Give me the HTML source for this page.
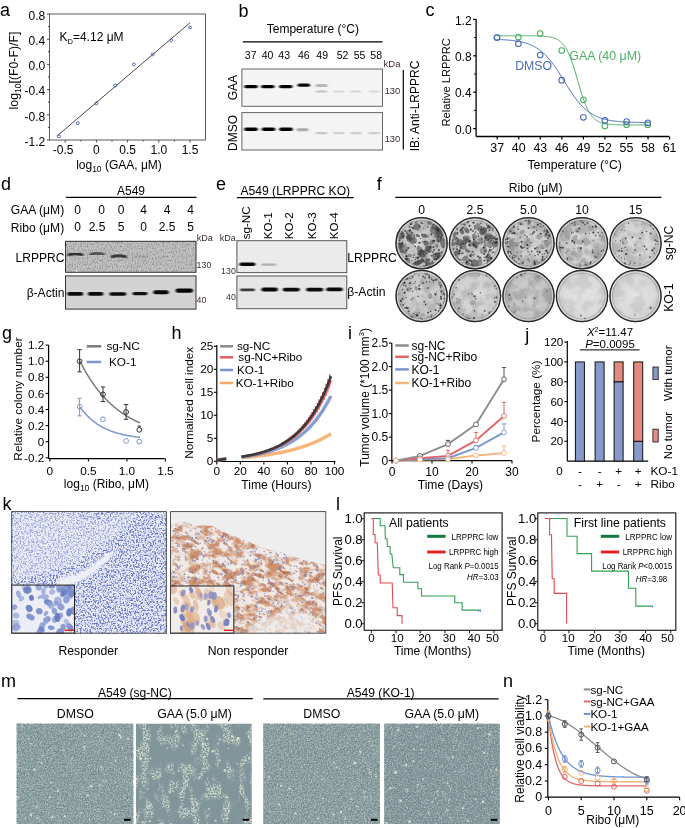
<!DOCTYPE html>
<html><head><meta charset="utf-8"><title>Figure</title>
<style>
html,body{margin:0;padding:0;background:#fff;}
svg{display:block;font-family:'Liberation Sans', Arial, sans-serif;}
</style></head><body>
<svg width="685" height="828" viewBox="0 0 685 828">
<defs>
<filter color-interpolation-filters="sRGB" id="bl" x="-50%" y="-100%" width="200%" height="300%"><feGaussianBlur stdDeviation="0.9 0.6"/></filter>
<filter color-interpolation-filters="sRGB" id="soft" x="-10%" y="-10%" width="120%" height="120%"><feGaussianBlur stdDeviation="2"/></filter>
<filter color-interpolation-filters="sRGB" id="soft05" x="-5%" y="-5%" width="110%" height="110%"><feGaussianBlur stdDeviation="0.5"/></filter>
<filter color-interpolation-filters="sRGB" id="soft1" x="-10%" y="-10%" width="120%" height="120%"><feGaussianBlur stdDeviation="1"/></filter>
<filter color-interpolation-filters="sRGB" id="streak" x="0" y="0" width="100%" height="100%">
  <feTurbulence type="fractalNoise" baseFrequency="0.5 0.02" numOctaves="2" seed="4"/>
  <feColorMatrix type="matrix" values="0 0 0 0 0  0 0 0 0 0  0 0 0 0 0  0 0 0 -2.5 1.6"/>
</filter>
<radialGradient id="dishshade" cx="0.5" cy="0.5" r="0.5"><stop offset="0" stop-color="#fff" stop-opacity="0.25"/><stop offset="0.7" stop-color="#fff" stop-opacity="0"/><stop offset="0.9" stop-color="#000" stop-opacity="0.08"/><stop offset="1" stop-color="#000" stop-opacity="0.2"/></radialGradient>
<filter color-interpolation-filters="sRGB" id="grain" x="0" y="0" width="100%" height="100%">
  <feTurbulence type="fractalNoise" baseFrequency="0.8 0.5" numOctaves="2" seed="4"/>
  <feColorMatrix type="matrix" values="0 0 0 0 0  0 0 0 0 0  0 0 0 0 0  0 0 0 -0.7 0.4"/>
  <feGaussianBlur stdDeviation="0.4"/>
</filter>
<filter color-interpolation-filters="sRGB" id="tissueTex" x="0" y="0" width="100%" height="100%">
  <feTurbulence type="fractalNoise" baseFrequency="0.09 0.14" numOctaves="3" seed="31" result="n"/>
  <feColorMatrix in="n" type="matrix" values="0 0 0 0 0.81  0 0 0 0 0.57  0 0 0 0 0.43  0 0 0 -4 2.25" result="c"/>
  <feComposite in="c" in2="SourceGraphic" operator="in"/>
</filter>
<linearGradient id="gD1" x1="0" x2="1" y1="0" y2="0"><stop offset="0" stop-color="#bdbdbd"/><stop offset="1" stop-color="#cfcfcf"/></linearGradient>
<filter color-interpolation-filters="sRGB" id="dishtex0" x="0" y="0" width="100%" height="100%">
  <feTurbulence type="fractalNoise" baseFrequency="0.09" numOctaves="3" seed="2" result="n"/>
  <feColorMatrix in="n" type="matrix" values="0 0 0 0 0  0 0 0 0 0  0 0 0 0 0  0 0 0 -4 2.4" result="m"/>
  <feComposite in="m" in2="SourceGraphic" operator="in"/>
</filter>
<filter color-interpolation-filters="sRGB" id="dishtex1" x="0" y="0" width="100%" height="100%">
  <feTurbulence type="fractalNoise" baseFrequency="0.09" numOctaves="3" seed="7" result="n"/>
  <feColorMatrix in="n" type="matrix" values="0 0 0 0 0  0 0 0 0 0  0 0 0 0 0  0 0 0 -4 2.4" result="m"/>
  <feComposite in="m" in2="SourceGraphic" operator="in"/>
</filter>
<filter color-interpolation-filters="sRGB" id="dishtex2" x="0" y="0" width="100%" height="100%">
  <feTurbulence type="fractalNoise" baseFrequency="0.09" numOctaves="3" seed="12" result="n"/>
  <feColorMatrix in="n" type="matrix" values="0 0 0 0 0  0 0 0 0 0  0 0 0 0 0  0 0 0 -4 2.4" result="m"/>
  <feComposite in="m" in2="SourceGraphic" operator="in"/>
</filter>

<filter color-interpolation-filters="sRGB" id="blueSpeck" x="0" y="0" width="100%" height="100%">
  <feTurbulence type="fractalNoise" baseFrequency="0.6" numOctaves="3" seed="11" result="n"/>
  <feColorMatrix in="n" type="matrix" values="0 0 0 0 0.40  0 0 0 0 0.46  0 0 0 0 0.78  0 0 0 -4.5 2.45"/>
  <feGaussianBlur stdDeviation="0.3"/>
</filter>
<filter color-interpolation-filters="sRGB" id="blueBlob" x="0" y="0" width="100%" height="100%">
  <feTurbulence type="fractalNoise" baseFrequency="0.16" numOctaves="2" seed="5" result="n"/>
  <feColorMatrix in="n" type="matrix" values="0 0 0 0 0.38  0 0 0 0 0.46  0 0 0 0 0.76  0 0 0 -4.5 2.6"/>
</filter>
<filter color-interpolation-filters="sRGB" id="brownSpeck" x="0" y="0" width="100%" height="100%">
  <feTurbulence type="fractalNoise" baseFrequency="0.35 0.6" numOctaves="2" seed="8" result="n"/>
  <feColorMatrix in="n" type="matrix" values="0 0 0 0 0.80  0 0 0 0 0.56  0 0 0 0 0.40  0 0 0 -5 2.9" result="c"/>
  <feTurbulence type="fractalNoise" baseFrequency="0.9" numOctaves="1" seed="21" result="n2"/>
  <feColorMatrix in="n2" type="matrix" values="0 0 0 0 0.40  0 0 0 0 0.42  0 0 0 0 0.72  0 0 0 -7 3.6" result="b"/>
  <feMerge><feMergeNode in="c"/><feMergeNode in="b"/></feMerge>
  <feComposite in2="SourceGraphic" operator="in"/>
</filter>
<filter color-interpolation-filters="sRGB" id="brownBlob" x="0" y="0" width="100%" height="100%">
  <feTurbulence type="fractalNoise" baseFrequency="0.2" numOctaves="2" seed="9" result="n"/>
  <feColorMatrix in="n" type="matrix" values="0 0 0 0 0.78  0 0 0 0 0.55  0 0 0 0 0.38  0 0 0 -4 2.5" result="c"/>
  <feTurbulence type="fractalNoise" baseFrequency="0.22" numOctaves="1" seed="13" result="n2"/>
  <feColorMatrix in="n2" type="matrix" values="0 0 0 0 0.42  0 0 0 0 0.47  0 0 0 0 0.74  0 0 0 -8 4.3" result="b"/>
  <feMerge><feMergeNode in="c"/><feMergeNode in="b"/></feMerge>
</filter>
<filter color-interpolation-filters="sRGB" id="cellA" x="0" y="0" width="100%" height="100%">
  <feTurbulence type="fractalNoise" baseFrequency="0.7" numOctaves="2" seed="3" result="n"/>
  <feColorMatrix in="n" type="matrix" values="0 0 0 0 0.70  0 0 0 0 0.76  0 0 0 0 0.74  0 0 0 -2.6 1.5" result="l"/>
  <feTurbulence type="turbulence" baseFrequency="0.3" numOctaves="1" seed="7" result="t"/>
  <feColorMatrix in="t" type="matrix" values="0 0 0 0 0.74  0 0 0 0 0.80  0 0 0 0 0.77  0 0 0 -4 0.4" result="tl"/>
  <feTurbulence type="fractalNoise" baseFrequency="0.7" numOctaves="1" seed="17" result="n2"/>
  <feColorMatrix in="n2" type="matrix" values="0 0 0 0 0.38  0 0 0 0 0.45  0 0 0 0 0.48  0 0 0 -2.2 1.2" result="d"/>
  <feMerge><feMergeNode in="d"/><feMergeNode in="l"/><feMergeNode in="tl"/></feMerge>
</filter>
<filter color-interpolation-filters="sRGB" id="cellB" x="0" y="0" width="100%" height="100%">
  <feTurbulence type="fractalNoise" baseFrequency="0.1 0.055" numOctaves="2" seed="6" result="n0"/>
  <feColorMatrix in="n0" type="matrix" values="0 0 0 0 0  0 0 0 0 0  0 0 0 0 0  0 0 0 7 -3.35" result="mask"/>
  <feTurbulence type="fractalNoise" baseFrequency="0.6" numOctaves="2" seed="3" result="n"/>
  <feColorMatrix in="n" type="matrix" values="0 0 0 0 0.80  0 0 0 0 0.85  0 0 0 0 0.79  0 0 0 -4 2.4" result="l"/>
  <feComposite in="l" in2="mask" operator="in" result="lm"/>
  <feTurbulence type="fractalNoise" baseFrequency="0.7" numOctaves="1" seed="17" result="n2"/>
  <feColorMatrix in="n2" type="matrix" values="0 0 0 0 0.55  0 0 0 0 0.62  0 0 0 0 0.64  0 0 0 -1.2 0.65" result="d"/>
  <feMerge><feMergeNode in="d"/><feMergeNode in="lm"/></feMerge>
</filter>
<filter color-interpolation-filters="sRGB" id="cellC" x="0" y="0" width="100%" height="100%">
  <feTurbulence type="fractalNoise" baseFrequency="0.7" numOctaves="2" seed="13" result="n"/>
  <feColorMatrix in="n" type="matrix" values="0 0 0 0 0.70  0 0 0 0 0.76  0 0 0 0 0.74  0 0 0 -2.6 1.4" result="l0"/>
  <feTurbulence type="turbulence" baseFrequency="0.14" numOctaves="2" seed="5" result="t"/>
  <feColorMatrix in="t" type="matrix" values="0 0 0 0 0.76  0 0 0 0 0.82  0 0 0 0 0.78  0 0 0 -5 0.6" result="l"/>
  <feTurbulence type="fractalNoise" baseFrequency="0.7" numOctaves="1" seed="19" result="n2"/>
  <feColorMatrix in="n2" type="matrix" values="0 0 0 0 0.38  0 0 0 0 0.45  0 0 0 0 0.48  0 0 0 -2.2 1.2" result="d"/>
  <feMerge><feMergeNode in="d"/><feMergeNode in="l0"/><feMergeNode in="l"/></feMerge>
</filter>
<clipPath id="clipKi1"><rect x="11.7" y="585.1" width="62.8" height="48.1"/></clipPath><clipPath id="clipT"><path d="M170.5 526 L180 521 L195 525 L212 526 L228 534 L245 540 L262 548 L280 552 L300 559 L315 562 L325.8 565 L325.8 633.2 L170.5 633.2 Z"/></clipPath><clipPath id="clipKi2"><rect x="170.5" y="586" width="63.3" height="47.2"/></clipPath></defs>
<rect width="685" height="828" fill="#fff"/>
<text x="5" y="16.39" font-size="18" text-anchor="middle" fill="#000">a</text>
<rect x="49.5" y="14" width="156" height="126" fill="none" stroke="#5a5a5a" stroke-width="1"/>
<line x1="47" y1="14" x2="49.5" y2="14" stroke="#444" stroke-width="1"/>
<text x="45.2" y="19.86" font-size="12" text-anchor="end" fill="#000">0.8</text>
<line x1="47" y1="39.2" x2="49.5" y2="39.2" stroke="#444" stroke-width="1"/>
<text x="45.2" y="45.06" font-size="12" text-anchor="end" fill="#000">0.4</text>
<line x1="47" y1="64.4" x2="49.5" y2="64.4" stroke="#444" stroke-width="1"/>
<text x="45.2" y="70.26" font-size="12" text-anchor="end" fill="#000">0.0</text>
<line x1="47" y1="89.6" x2="49.5" y2="89.6" stroke="#444" stroke-width="1"/>
<text x="45.2" y="95.46" font-size="12" text-anchor="end" fill="#000">-0.4</text>
<line x1="47" y1="114.8" x2="49.5" y2="114.8" stroke="#444" stroke-width="1"/>
<text x="45.2" y="120.66" font-size="12" text-anchor="end" fill="#000">-0.8</text>
<line x1="47" y1="140" x2="49.5" y2="140" stroke="#444" stroke-width="1"/>
<text x="45.2" y="145.86" font-size="12" text-anchor="end" fill="#000">-1.2</text>
<line x1="48" y1="26.6" x2="49.5" y2="26.6" stroke="#444" stroke-width="1"/>
<line x1="48" y1="51.8" x2="49.5" y2="51.8" stroke="#444" stroke-width="1"/>
<line x1="48" y1="77" x2="49.5" y2="77" stroke="#444" stroke-width="1"/>
<line x1="48" y1="102.2" x2="49.5" y2="102.2" stroke="#444" stroke-width="1"/>
<line x1="48" y1="127.4" x2="49.5" y2="127.4" stroke="#444" stroke-width="1"/>
<line x1="65.2" y1="140" x2="65.2" y2="142.5" stroke="#444" stroke-width="1"/>
<text x="63.2" y="153.76" font-size="12" text-anchor="middle" fill="#000">-0.5</text>
<line x1="96.4" y1="140" x2="96.4" y2="142.5" stroke="#444" stroke-width="1"/>
<text x="96.4" y="153.76" font-size="12" text-anchor="middle" fill="#000">0</text>
<line x1="127.6" y1="140" x2="127.6" y2="142.5" stroke="#444" stroke-width="1"/>
<text x="127.6" y="153.76" font-size="12" text-anchor="middle" fill="#000">0.5</text>
<line x1="158.8" y1="140" x2="158.8" y2="142.5" stroke="#444" stroke-width="1"/>
<text x="158.8" y="153.76" font-size="12" text-anchor="middle" fill="#000">1.0</text>
<line x1="190" y1="140" x2="190" y2="142.5" stroke="#444" stroke-width="1"/>
<text x="190" y="153.76" font-size="12" text-anchor="middle" fill="#000">1.5</text>
<line x1="80.8" y1="140" x2="80.8" y2="141.5" stroke="#444" stroke-width="1"/>
<line x1="112" y1="140" x2="112" y2="141.5" stroke="#444" stroke-width="1"/>
<line x1="143.2" y1="140" x2="143.2" y2="141.5" stroke="#444" stroke-width="1"/>
<line x1="174.4" y1="140" x2="174.4" y2="141.5" stroke="#444" stroke-width="1"/>
<line x1="57" y1="136" x2="190" y2="22.8" stroke="#333" stroke-width="0.9"/>
<circle cx="58.96" cy="136.28" r="1.45" fill="none" stroke="#3a5fb8" stroke-width="0.9"/>
<circle cx="77.68" cy="123.18" r="1.45" fill="none" stroke="#3a5fb8" stroke-width="0.9"/>
<circle cx="96.4" cy="103.4" r="1.45" fill="none" stroke="#3a5fb8" stroke-width="0.9"/>
<circle cx="115.12" cy="85.57" r="1.45" fill="none" stroke="#3a5fb8" stroke-width="0.9"/>
<circle cx="133.84" cy="64.4" r="1.45" fill="none" stroke="#3a5fb8" stroke-width="0.9"/>
<circle cx="152.56" cy="54.38" r="1.45" fill="none" stroke="#3a5fb8" stroke-width="0.9"/>
<circle cx="171.28" cy="40.27" r="1.45" fill="none" stroke="#3a5fb8" stroke-width="0.9"/>
<circle cx="190" cy="27.48" r="1.45" fill="none" stroke="#3a5fb8" stroke-width="0.9"/>
<text x="59.5" y="41.3" font-size="12">K<tspan font-size="7.5" dy="2.8">D</tspan><tspan dy="-2.8">=4.12 μM</tspan></text>
<text transform="translate(18.3 70.5) rotate(-90)" text-anchor="middle" font-size="12.3">log<tspan font-size="8.5" dy="2.7">10</tspan><tspan dy="-2.7">[(F0-F)/F]</tspan></text>
<text x="119" y="169" text-anchor="middle" font-size="12">log<tspan font-size="8.5" dy="2.7">10</tspan><tspan dy="-2.7"> (GAA, μM)</tspan></text>
<text x="243.5" y="16.89" font-size="18" text-anchor="middle" fill="#000">b</text>
<text x="312.8" y="32.56" font-size="12" text-anchor="middle" fill="#000">Temperature (°C)</text>
<line x1="242.8" y1="41.8" x2="382.6" y2="41.8" stroke="#000" stroke-width="1.2"/>
<text x="250.7" y="59.23" font-size="10.5" text-anchor="middle" fill="#000">37</text>
<text x="267.6" y="59.23" font-size="10.5" text-anchor="middle" fill="#000">40</text>
<text x="284.2" y="59.23" font-size="10.5" text-anchor="middle" fill="#000">43</text>
<text x="303.8" y="59.23" font-size="10.5" text-anchor="middle" fill="#000">46</text>
<text x="322.2" y="59.23" font-size="10.5" text-anchor="middle" fill="#000">49</text>
<text x="342.6" y="59.23" font-size="10.5" text-anchor="middle" fill="#000">52</text>
<text x="359.6" y="59.23" font-size="10.5" text-anchor="middle" fill="#000">55</text>
<text x="376.2" y="59.23" font-size="10.5" text-anchor="middle" fill="#000">58</text>
<rect x="241.9" y="69" width="140.6" height="37.3" fill="#f4f4f4" stroke="#666" stroke-width="1"/>
<rect x="241.9" y="112.6" width="140.6" height="37.4" fill="#f4f4f4" stroke="#666" stroke-width="1"/>
<rect x="244.25" y="84.9" width="13.5" height="3.4" rx="1.7" fill="#000" opacity="1" filter="url(#bl)"/>
<rect x="261.05" y="84.9" width="13.5" height="3.4" rx="1.7" fill="#000" opacity="1" filter="url(#bl)"/>
<rect x="279.05" y="84.9" width="13.5" height="3.4" rx="1.7" fill="#000" opacity="1" filter="url(#bl)"/>
<rect x="297.55" y="83.6" width="12.5" height="3.2" rx="1.6" fill="#000" opacity="0.97" filter="url(#bl)"/>
<rect x="315.5" y="83.9" width="12" height="3" rx="1.5" fill="#000" opacity="0.25" filter="url(#bl)"/>
<rect x="316" y="90.4" width="11" height="2.2" rx="1.1" fill="#000" opacity="0.2" filter="url(#bl)"/>
<rect x="333.5" y="90.4" width="11" height="2.2" rx="1.1" fill="#000" opacity="0.12" filter="url(#bl)"/>
<rect x="350.5" y="90.4" width="11" height="2.2" rx="1.1" fill="#000" opacity="0.12" filter="url(#bl)"/>
<rect x="368.5" y="90.4" width="11" height="2.2" rx="1.1" fill="#000" opacity="0.1" filter="url(#bl)"/>
<rect x="244.25" y="127.6" width="13.5" height="3.4" rx="1.7" fill="#000" opacity="1" filter="url(#bl)"/>
<rect x="261.75" y="127.6" width="13.5" height="3.4" rx="1.7" fill="#000" opacity="1" filter="url(#bl)"/>
<rect x="279.25" y="127.6" width="13.5" height="3.4" rx="1.7" fill="#000" opacity="1" filter="url(#bl)"/>
<rect x="296.5" y="128.3" width="12" height="3" rx="1.5" fill="#000" opacity="0.3" filter="url(#bl)"/>
<rect x="315.75" y="132.1" width="11.5" height="2.2" rx="1.1" fill="#000" opacity="0.18" filter="url(#bl)"/>
<rect x="333.25" y="132.1" width="11.5" height="2.2" rx="1.1" fill="#000" opacity="0.15" filter="url(#bl)"/>
<rect x="350.25" y="132.1" width="11.5" height="2.2" rx="1.1" fill="#000" opacity="0.15" filter="url(#bl)"/>
<rect x="368.25" y="132.1" width="11.5" height="2.2" rx="1.1" fill="#000" opacity="0.15" filter="url(#bl)"/>
<text x="392" y="67.37" font-size="9.5" text-anchor="middle" fill="#3d2e2b">kDa</text>
<text x="392.4" y="93.8" font-size="9.3" text-anchor="middle" fill="#3d2e2b">130</text>
<text x="392.4" y="142" font-size="9.3" text-anchor="middle" fill="#3d2e2b">130</text>
<line x1="403.3" y1="70" x2="403.3" y2="149.5" stroke="#000" stroke-width="1.2"/>
<text x="414.5" y="110.26" font-size="12" text-anchor="middle" fill="#000" transform="rotate(-90 414.5 106)">IB: Anti-LRPPRC</text>
<text x="233" y="91.86" font-size="12" text-anchor="middle" fill="#000" transform="rotate(-90 233 87.6)">GAA</text>
<text x="233" y="137.26" font-size="12" text-anchor="middle" fill="#000" transform="rotate(-90 233 133)">DMSO</text>
<text x="430" y="16.39" font-size="18" text-anchor="middle" fill="#000">c</text>
<line x1="476.1" y1="19" x2="476.1" y2="136.5" stroke="#000" stroke-width="1.3"/>
<line x1="476.1" y1="136.5" x2="669" y2="136.5" stroke="#000" stroke-width="1.3"/>
<line x1="473.1" y1="19.4" x2="476.1" y2="19.4" stroke="#000" stroke-width="1.2"/>
<text x="471.6" y="24.56" font-size="12" text-anchor="end" fill="#000">1.2</text>
<line x1="473.1" y1="55.8" x2="476.1" y2="55.8" stroke="#000" stroke-width="1.2"/>
<text x="471.6" y="60.96" font-size="12" text-anchor="end" fill="#000">0.8</text>
<line x1="473.1" y1="92.2" x2="476.1" y2="92.2" stroke="#000" stroke-width="1.2"/>
<text x="471.6" y="97.36" font-size="12" text-anchor="end" fill="#000">0.4</text>
<line x1="473.1" y1="128.6" x2="476.1" y2="128.6" stroke="#000" stroke-width="1.2"/>
<text x="471.6" y="133.76" font-size="12" text-anchor="end" fill="#000">0.0</text>
<line x1="474.1" y1="37.6" x2="476.1" y2="37.6" stroke="#000" stroke-width="1"/>
<line x1="474.1" y1="74" x2="476.1" y2="74" stroke="#000" stroke-width="1"/>
<line x1="474.1" y1="110.4" x2="476.1" y2="110.4" stroke="#000" stroke-width="1"/>
<line x1="497.2" y1="136.5" x2="497.2" y2="139.5" stroke="#000" stroke-width="1.2"/>
<text x="497.2" y="152.4" font-size="12.4" text-anchor="middle" fill="#000">37</text>
<line x1="518.75" y1="136.5" x2="518.75" y2="139.5" stroke="#000" stroke-width="1.2"/>
<text x="518.75" y="152.4" font-size="12.4" text-anchor="middle" fill="#000">40</text>
<line x1="540.3" y1="136.5" x2="540.3" y2="139.5" stroke="#000" stroke-width="1.2"/>
<text x="540.3" y="152.4" font-size="12.4" text-anchor="middle" fill="#000">43</text>
<line x1="561.85" y1="136.5" x2="561.85" y2="139.5" stroke="#000" stroke-width="1.2"/>
<text x="561.85" y="152.4" font-size="12.4" text-anchor="middle" fill="#000">46</text>
<line x1="583.4" y1="136.5" x2="583.4" y2="139.5" stroke="#000" stroke-width="1.2"/>
<text x="583.4" y="152.4" font-size="12.4" text-anchor="middle" fill="#000">49</text>
<line x1="604.95" y1="136.5" x2="604.95" y2="139.5" stroke="#000" stroke-width="1.2"/>
<text x="604.95" y="152.4" font-size="12.4" text-anchor="middle" fill="#000">52</text>
<line x1="626.5" y1="136.5" x2="626.5" y2="139.5" stroke="#000" stroke-width="1.2"/>
<text x="626.5" y="152.4" font-size="12.4" text-anchor="middle" fill="#000">55</text>
<line x1="648.05" y1="136.5" x2="648.05" y2="139.5" stroke="#000" stroke-width="1.2"/>
<text x="648.05" y="152.4" font-size="12.4" text-anchor="middle" fill="#000">58</text>
<line x1="669.6" y1="136.5" x2="669.6" y2="139.5" stroke="#000" stroke-width="1.2"/>
<text x="669.6" y="152.4" font-size="12.4" text-anchor="middle" fill="#000">61</text>
<text x="574.7" y="168.77" font-size="12.3" text-anchor="middle" fill="#000">Temperature (°C)</text>
<text x="446.5" y="86.24" font-size="11.1" text-anchor="middle" fill="#000" transform="rotate(-90 446.5 82.3)">Relative LRPPRC</text>
<polyline points="497.2,35.78 497.92,35.78 498.64,35.78 499.35,35.78 500.07,35.78 500.79,35.78 501.51,35.78 502.23,35.78 502.95,35.78 503.66,35.78 504.38,35.78 505.1,35.78 505.82,35.78 506.54,35.78 507.26,35.78 507.97,35.78 508.69,35.78 509.41,35.78 510.13,35.78 510.85,35.78 511.57,35.78 512.28,35.78 513,35.78 513.72,35.78 514.44,35.79 515.16,35.79 515.88,35.79 516.6,35.79 517.31,35.79 518.03,35.79 518.75,35.79 519.47,35.79 520.19,35.79 520.9,35.79 521.62,35.8 522.34,35.8 523.06,35.8 523.78,35.8 524.5,35.8 525.22,35.81 525.93,35.81 526.65,35.81 527.37,35.82 528.09,35.82 528.81,35.83 529.52,35.83 530.24,35.84 530.96,35.85 531.68,35.85 532.4,35.86 533.12,35.87 533.84,35.88 534.55,35.89 535.27,35.91 535.99,35.92 536.71,35.94 537.43,35.96 538.14,35.98 538.86,36 539.58,36.03 540.3,36.06 541.02,36.09 541.74,36.12 542.45,36.16 543.17,36.21 543.89,36.26 544.61,36.31 545.33,36.38 546.05,36.45 546.76,36.52 547.48,36.61 548.2,36.71 548.92,36.82 549.64,36.94 550.36,37.07 551.08,37.22 551.79,37.38 552.51,37.57 553.23,37.77 553.95,38 554.67,38.26 555.38,38.54 556.1,38.85 556.82,39.2 557.54,39.58 558.26,40.01 558.98,40.48 559.7,41 560.41,41.57 561.13,42.21 561.85,42.9 562.57,43.66 563.29,44.5 564,45.41 564.72,46.41 565.44,47.5 566.16,48.67 566.88,49.95 567.6,51.32 568.31,52.8 569.03,54.38 569.75,56.07 570.47,57.87 571.19,59.76 571.91,61.76 572.62,63.85 573.34,66.03 574.06,68.29 574.78,70.62 575.5,73.01 576.22,75.44 576.93,77.9 577.65,80.37 578.37,82.84 579.09,85.3 579.81,87.73 580.53,90.12 581.25,92.45 581.96,94.71 582.68,96.89 583.4,98.98 584.12,100.98 584.84,102.87 585.55,104.67 586.27,106.36 586.99,107.94 587.71,109.42 588.43,110.79 589.15,112.07 589.87,113.24 590.58,114.33 591.3,115.33 592.02,116.24 592.74,117.08 593.46,117.84 594.17,118.53 594.89,119.17 595.61,119.74 596.33,120.26 597.05,120.73 597.77,121.16 598.49,121.54 599.2,121.89 599.92,122.2 600.64,122.48 601.36,122.74 602.08,122.97 602.8,123.17 603.51,123.36 604.23,123.52 604.95,123.67 605.67,123.8 606.39,123.92 607.11,124.03 607.82,124.13 608.54,124.22 609.26,124.29 609.98,124.36 610.7,124.43 611.41,124.48 612.13,124.53 612.85,124.58 613.57,124.62 614.29,124.65 615.01,124.68 615.73,124.71 616.44,124.74 617.16,124.76 617.88,124.78 618.6,124.8 619.32,124.82 620.03,124.83 620.75,124.85 621.47,124.86 622.19,124.87 622.91,124.88 623.63,124.89 624.35,124.89 625.06,124.9 625.78,124.91 626.5,124.91 627.22,124.92 627.94,124.92 628.65,124.93 629.37,124.93 630.09,124.93 630.81,124.94 631.53,124.94 632.25,124.94 632.97,124.94 633.68,124.94 634.4,124.95 635.12,124.95 635.84,124.95 636.56,124.95 637.27,124.95 637.99,124.95 638.71,124.95 639.43,124.95 640.15,124.95 640.87,124.95 641.59,124.96 642.3,124.96 643.02,124.96 643.74,124.96 644.46,124.96 645.18,124.96 645.89,124.96 646.61,124.96 647.33,124.96 648.05,124.96" fill="none" stroke="#4daf62" stroke-width="1"/>
<polyline points="497.2,39.44 497.92,39.47 498.64,39.5 499.35,39.53 500.07,39.56 500.79,39.59 501.51,39.63 502.23,39.66 502.95,39.7 503.66,39.74 504.38,39.79 505.1,39.84 505.82,39.88 506.54,39.94 507.26,39.99 507.97,40.05 508.69,40.11 509.41,40.18 510.13,40.24 510.85,40.32 511.57,40.39 512.28,40.47 513,40.56 513.72,40.64 514.44,40.74 515.16,40.84 515.88,40.94 516.6,41.05 517.31,41.17 518.03,41.29 518.75,41.42 519.47,41.55 520.19,41.7 520.9,41.85 521.62,42.01 522.34,42.17 523.06,42.35 523.78,42.54 524.5,42.73 525.22,42.94 525.93,43.15 526.65,43.38 527.37,43.62 528.09,43.87 528.81,44.13 529.52,44.4 530.24,44.69 530.96,45 531.68,45.32 532.4,45.65 533.12,46 533.84,46.37 534.55,46.75 535.27,47.15 535.99,47.57 536.71,48.01 537.43,48.47 538.14,48.94 538.86,49.44 539.58,49.96 540.3,50.51 541.02,51.07 541.74,51.66 542.45,52.27 543.17,52.9 543.89,53.56 544.61,54.24 545.33,54.94 546.05,55.67 546.76,56.43 547.48,57.21 548.2,58.02 548.92,58.84 549.64,59.7 550.36,60.58 551.08,61.48 551.79,62.41 552.51,63.36 553.23,64.33 553.95,65.32 554.67,66.33 555.38,67.37 556.1,68.42 556.82,69.49 557.54,70.57 558.26,71.67 558.98,72.79 559.7,73.91 560.41,75.05 561.13,76.19 561.85,77.34 562.57,78.5 563.29,79.66 564,80.83 564.72,81.99 565.44,83.15 566.16,84.31 566.88,85.46 567.6,86.6 568.31,87.74 569.03,88.86 569.75,89.98 570.47,91.08 571.19,92.16 571.91,93.23 572.62,94.28 573.34,95.32 574.06,96.33 574.78,97.32 575.5,98.29 576.22,99.24 576.93,100.17 577.65,101.07 578.37,101.95 579.09,102.81 579.81,103.63 580.53,104.44 581.25,105.22 581.96,105.98 582.68,106.71 583.4,107.41 584.12,108.09 584.84,108.75 585.55,109.38 586.27,109.99 586.99,110.58 587.71,111.14 588.43,111.69 589.15,112.21 589.87,112.71 590.58,113.18 591.3,113.64 592.02,114.08 592.74,114.5 593.46,114.9 594.17,115.28 594.89,115.65 595.61,116 596.33,116.33 597.05,116.65 597.77,116.96 598.49,117.25 599.2,117.52 599.92,117.78 600.64,118.03 601.36,118.27 602.08,118.5 602.8,118.71 603.51,118.92 604.23,119.11 604.95,119.3 605.67,119.48 606.39,119.64 607.11,119.8 607.82,119.95 608.54,120.1 609.26,120.23 609.98,120.36 610.7,120.48 611.41,120.6 612.13,120.71 612.85,120.81 613.57,120.91 614.29,121.01 615.01,121.09 615.73,121.18 616.44,121.26 617.16,121.33 617.88,121.41 618.6,121.47 619.32,121.54 620.03,121.6 620.75,121.66 621.47,121.71 622.19,121.77 622.91,121.81 623.63,121.86 624.35,121.91 625.06,121.95 625.78,121.99 626.5,122.02 627.22,122.06 627.94,122.09 628.65,122.12 629.37,122.15 630.09,122.18 630.81,122.21 631.53,122.24 632.25,122.26 632.97,122.28 633.68,122.3 634.4,122.32 635.12,122.34 635.84,122.36 636.56,122.38 637.27,122.4 637.99,122.41 638.71,122.43 639.43,122.44 640.15,122.45 640.87,122.47 641.59,122.48 642.3,122.49 643.02,122.5 643.74,122.51 644.46,122.52 645.18,122.53 645.89,122.54 646.61,122.54 647.33,122.55 648.05,122.56" fill="none" stroke="#4a69bd" stroke-width="1"/>
<circle cx="497" cy="37.6" r="2.8" fill="none" stroke="#4daf62" stroke-width="1.1"/>
<circle cx="518.4" cy="37" r="2.8" fill="none" stroke="#4daf62" stroke-width="1.1"/>
<circle cx="540.2" cy="33.6" r="2.8" fill="none" stroke="#4daf62" stroke-width="1.1"/>
<circle cx="561.7" cy="50.5" r="2.8" fill="none" stroke="#4daf62" stroke-width="1.1"/>
<circle cx="583.4" cy="99.8" r="2.8" fill="none" stroke="#4daf62" stroke-width="1.1"/>
<circle cx="604.9" cy="125.9" r="2.8" fill="none" stroke="#4daf62" stroke-width="1.1"/>
<circle cx="626.6" cy="124.7" r="2.8" fill="none" stroke="#4daf62" stroke-width="1.1"/>
<circle cx="647.8" cy="124.7" r="2.8" fill="none" stroke="#4daf62" stroke-width="1.1"/>
<circle cx="497" cy="37.6" r="2.8" fill="none" stroke="#4a69bd" stroke-width="1.1"/>
<circle cx="518.4" cy="43.7" r="2.8" fill="none" stroke="#4a69bd" stroke-width="1.1"/>
<circle cx="540.2" cy="55" r="2.8" fill="none" stroke="#4a69bd" stroke-width="1.1"/>
<circle cx="561.7" cy="80.2" r="2.8" fill="none" stroke="#4a69bd" stroke-width="1.1"/>
<circle cx="583.4" cy="117.3" r="2.8" fill="none" stroke="#4a69bd" stroke-width="1.1"/>
<circle cx="604.9" cy="120.4" r="2.8" fill="none" stroke="#4a69bd" stroke-width="1.1"/>
<circle cx="626.6" cy="121.6" r="2.8" fill="none" stroke="#4a69bd" stroke-width="1.1"/>
<circle cx="647.8" cy="122.8" r="2.8" fill="none" stroke="#4a69bd" stroke-width="1.1"/>
<text x="569.3" y="59.8" font-size="12.4" text-anchor="start" fill="#4daf62">GAA (40 μM)</text>
<text x="515.2" y="70.47" font-size="12.3" text-anchor="start" fill="#4a69bd">DMSO</text>
<text x="6" y="189.69" font-size="18" text-anchor="middle" fill="#000">d</text>
<text x="131" y="195.16" font-size="12" text-anchor="middle" fill="#000">A549</text>
<line x1="65.8" y1="197.3" x2="196.5" y2="197.3" stroke="#000" stroke-width="1.2"/>
<text x="64.2" y="213.6" font-size="12.1" text-anchor="end" fill="#000">GAA (μM)</text>
<text x="64.2" y="231.5" font-size="12.1" text-anchor="end" fill="#000">Ribo (μM)</text>
<text x="77.7" y="213.56" font-size="12" text-anchor="middle" fill="#000">0</text>
<text x="101.5" y="213.56" font-size="12" text-anchor="middle" fill="#000">0</text>
<text x="121" y="213.56" font-size="12" text-anchor="middle" fill="#000">0</text>
<text x="143.5" y="213.56" font-size="12" text-anchor="middle" fill="#000">4</text>
<text x="167" y="213.56" font-size="12" text-anchor="middle" fill="#000">4</text>
<text x="190.7" y="213.56" font-size="12" text-anchor="middle" fill="#000">4</text>
<text x="77.7" y="231.46" font-size="12" text-anchor="middle" fill="#000">0</text>
<text x="97" y="231.46" font-size="12" text-anchor="middle" fill="#000">2.5</text>
<text x="121" y="231.46" font-size="12" text-anchor="middle" fill="#000">5</text>
<text x="143.5" y="231.46" font-size="12" text-anchor="middle" fill="#000">0</text>
<text x="167" y="231.46" font-size="12" text-anchor="middle" fill="#000">2.5</text>
<text x="190.7" y="231.46" font-size="12" text-anchor="middle" fill="#000">5</text>
<rect x="65.5" y="241.3" width="130.5" height="31" fill="#c2c2c2" stroke="#333" stroke-width="1"/>
<rect x="66" y="241.8" width="129.5" height="30" fill="#000" filter="url(#grain)"/>
<path d="M68.9 254.6Q75.4 253 81.9 254.6" stroke="#1a1a1a" stroke-width="3" stroke-linecap="round" fill="none" opacity="0.85" filter="url(#bl)"/>
<path d="M90.5 254.2Q97.1 252.6 103.7 254.2" stroke="#1a1a1a" stroke-width="2.7" stroke-linecap="round" fill="none" opacity="0.65" filter="url(#bl)"/>
<path d="M112.05 256.7Q118.8 254.9 125.55 256.7" stroke="#1a1a1a" stroke-width="2.9" stroke-linecap="round" fill="none" opacity="0.8" filter="url(#bl)"/>
<path d="M134 256.9Q140.5 255.9 147 256.9" stroke="#1a1a1a" stroke-width="2.2" stroke-linecap="round" fill="none" opacity="0.14" filter="url(#bl)"/>
<path d="M157 257.5Q163 256.5 169 257.5" stroke="#1a1a1a" stroke-width="2" stroke-linecap="round" fill="none" opacity="0.05" filter="url(#bl)"/>
<circle cx="76.7" cy="270.8" r="0.9" fill="#fff" stroke="none" stroke-width="0"/>
<rect x="65.5" y="275.9" width="130.5" height="33.2" fill="#d3d3d3" stroke="#333" stroke-width="1"/>
<rect x="67.2" y="292.1" width="16" height="3.6" rx="1.8" fill="#000" opacity="0.95" filter="url(#bl)"/>
<rect x="87.85" y="292.1" width="15.5" height="3.6" rx="1.8" fill="#000" opacity="0.95" filter="url(#bl)"/>
<rect x="109.3" y="292.2" width="17" height="3.6" rx="1.8" fill="#000" opacity="0.95" filter="url(#bl)"/>
<rect x="132.5" y="291.9" width="15" height="3.4" rx="1.7" fill="#000" opacity="0.92" filter="url(#bl)"/>
<rect x="153.25" y="290.3" width="15.5" height="4" rx="2" fill="#000" opacity="0.97" filter="url(#bl)"/>
<rect x="175.55" y="288.4" width="17.5" height="4.4" rx="2.2" fill="#000" opacity="0.98" filter="url(#bl)"/>
<text x="64.5" y="261.6" font-size="12.1" text-anchor="end" fill="#000">LRPPRC</text>
<text x="64.5" y="297.3" font-size="12.1" text-anchor="end" fill="#000">β-Actin</text>
<text x="196.8" y="240.69" font-size="9" text-anchor="start" fill="#3d2e2b">kDa</text>
<text x="196.6" y="267.62" font-size="8.8" text-anchor="start" fill="#3d2e2b">130</text>
<text x="196.6" y="302.52" font-size="8.8" text-anchor="start" fill="#3d2e2b">40</text>
<text x="221" y="190.29" font-size="18" text-anchor="middle" fill="#000">e</text>
<text x="295.3" y="195.1" font-size="12.1" text-anchor="middle" fill="#000">A549 (LRPPRC KO)</text>
<line x1="236.9" y1="197.7" x2="353.7" y2="197.7" stroke="#000" stroke-width="1.2"/>
<text transform="translate(250.4 239.3) rotate(-90)" font-size="11.6" text-anchor="start">sg-NC</text>
<text transform="translate(272 239.3) rotate(-90)" font-size="11.6" text-anchor="start">KO-1</text>
<text transform="translate(293.4 239.3) rotate(-90)" font-size="11.6" text-anchor="start">KO-2</text>
<text transform="translate(316.2 239.3) rotate(-90)" font-size="11.6" text-anchor="start">KO-3</text>
<text transform="translate(338.4 239.3) rotate(-90)" font-size="11.6" text-anchor="start">KO-4</text>
<text x="235.8" y="240.69" font-size="9" text-anchor="end" fill="#3d2e2b">kDa</text>
<text x="235.8" y="274.02" font-size="8.8" text-anchor="end" fill="#3d2e2b">130</text>
<text x="235.8" y="300.02" font-size="8.8" text-anchor="end" fill="#3d2e2b">40</text>
<rect x="236.9" y="240.7" width="109.9" height="31.9" fill="#ebebeb" stroke="#555" stroke-width="1"/>
<rect x="239.4" y="262.5" width="16" height="3.6" rx="1.8" fill="#000" opacity="0.97" filter="url(#bl)"/>
<rect x="261.3" y="263.5" width="15" height="2.2" rx="1.1" fill="#000" opacity="0.25" filter="url(#bl)"/>
<rect x="236.9" y="276" width="109.9" height="32.7" fill="#e6e6e6" stroke="#555" stroke-width="1"/>
<rect x="240" y="288.4" width="15" height="2.8" rx="1.4" fill="#000" opacity="0.75" filter="url(#bl)"/>
<rect x="261.35" y="287.6" width="16.5" height="4" rx="2" fill="#000" opacity="0.97" filter="url(#bl)"/>
<rect x="282.8" y="287.7" width="17" height="3.8" rx="1.9" fill="#000" opacity="0.95" filter="url(#bl)"/>
<rect x="306.2" y="287.7" width="17" height="3.8" rx="1.9" fill="#000" opacity="0.95" filter="url(#bl)"/>
<rect x="326.25" y="287.5" width="16.5" height="3.8" rx="1.9" fill="#000" opacity="0.95" filter="url(#bl)"/>
<text x="347.3" y="261.73" font-size="12.2" text-anchor="start" fill="#000">LRPPRC</text>
<text x="347.3" y="295.83" font-size="12.2" text-anchor="start" fill="#000">β-Actin</text>
<text x="379.2" y="190.29" font-size="18" text-anchor="middle" fill="#000">f</text>
<text x="535.7" y="192.33" font-size="12.2" text-anchor="middle" fill="#000">Ribo (μM)</text>
<line x1="395.3" y1="197.3" x2="661.5" y2="197.3" stroke="#000" stroke-width="1.2"/>
<text x="421.6" y="213.73" font-size="12.2" text-anchor="middle" fill="#000">0</text>
<text x="475" y="213.73" font-size="12.2" text-anchor="middle" fill="#000">2.5</text>
<text x="528.5" y="213.73" font-size="12.2" text-anchor="middle" fill="#000">5.0</text>
<text x="582" y="213.73" font-size="12.2" text-anchor="middle" fill="#000">10</text>
<text x="635.5" y="213.73" font-size="12.2" text-anchor="middle" fill="#000">15</text>
<circle cx="421.6" cy="243.2" r="26.2" fill="#cbcbcb"/>
<circle cx="421.6" cy="243.2" r="26.2" fill="url(#dishshade)"/>
<circle cx="421.6" cy="243.2" r="25.7" fill="#000" opacity="0.12" filter="url(#dishtex0)"/>
<g fill="#4a4a4a" filter="url(#soft05)"><ellipse cx="432.89" cy="226.45" rx="2.89" ry="2.04" transform="rotate(130 432.89 226.45)" opacity="0.59"/><ellipse cx="440.01" cy="232.81" rx="4.32" ry="3.21" transform="rotate(55 440.01 232.81)" opacity="0.6"/><ellipse cx="417.59" cy="262.97" rx="3.41" ry="2.39" transform="rotate(136 417.59 262.97)" opacity="0.79"/><ellipse cx="429.74" cy="222.72" rx="2.61" ry="2.32" transform="rotate(175 429.74 222.72)" opacity="0.53"/><ellipse cx="408.76" cy="238.14" rx="2.62" ry="2.24" transform="rotate(52 408.76 238.14)" opacity="0.79"/><ellipse cx="400.24" cy="246.31" rx="2.48" ry="2.28" transform="rotate(140 400.24 246.31)" opacity="0.77"/><ellipse cx="439.32" cy="254.96" rx="3.65" ry="3.33" transform="rotate(160 439.32 254.96)" opacity="0.4"/><ellipse cx="400.01" cy="244.07" rx="2.43" ry="1.78" transform="rotate(16 400.01 244.07)" opacity="0.48"/><ellipse cx="411.27" cy="238.54" rx="4.32" ry="3.98" transform="rotate(114 411.27 238.54)" opacity="0.44"/><ellipse cx="443.28" cy="242.28" rx="4.39" ry="3.5" transform="rotate(77 443.28 242.28)" opacity="0.62"/><ellipse cx="416.97" cy="226.67" rx="3.92" ry="3.2" transform="rotate(154 416.97 226.67)" opacity="0.62"/><ellipse cx="419.95" cy="250.03" rx="3.87" ry="2.82" transform="rotate(61 419.95 250.03)" opacity="0.52"/><ellipse cx="425.33" cy="252.51" rx="3.39" ry="2.93" transform="rotate(121 425.33 252.51)" opacity="0.43"/><ellipse cx="417.97" cy="235.65" rx="2.19" ry="1.35" transform="rotate(20 417.97 235.65)" opacity="0.76"/><ellipse cx="436.7" cy="235.27" rx="2.82" ry="2.49" transform="rotate(70 436.7 235.27)" opacity="0.61"/><ellipse cx="422.58" cy="253.92" rx="3.57" ry="3.32" transform="rotate(107 422.58 253.92)" opacity="0.63"/><ellipse cx="403.65" cy="248.96" rx="4.39" ry="4.24" transform="rotate(91 403.65 248.96)" opacity="0.43"/><ellipse cx="409.31" cy="232.67" rx="3.44" ry="3.23" transform="rotate(62 409.31 232.67)" opacity="0.41"/><ellipse cx="419.03" cy="262.51" rx="2.77" ry="1.85" transform="rotate(109 419.03 262.51)" opacity="0.73"/><ellipse cx="428.76" cy="248.44" rx="3.61" ry="2.23" transform="rotate(146 428.76 248.44)" opacity="0.65"/><ellipse cx="438.19" cy="236.21" rx="1.99" ry="1.29" transform="rotate(48 438.19 236.21)" opacity="0.64"/><ellipse cx="408.71" cy="236.53" rx="2.76" ry="2.74" transform="rotate(9 408.71 236.53)" opacity="0.64"/><ellipse cx="429.4" cy="264.69" rx="3.67" ry="2.9" transform="rotate(15 429.4 264.69)" opacity="0.77"/><ellipse cx="436.58" cy="245.36" rx="2.06" ry="1.45" transform="rotate(56 436.58 245.36)" opacity="0.43"/><ellipse cx="416.77" cy="257.74" rx="1.96" ry="1.54" transform="rotate(152 416.77 257.74)" opacity="0.44"/><ellipse cx="431.93" cy="242.43" rx="2.73" ry="2.44" transform="rotate(145 431.93 242.43)" opacity="0.47"/><ellipse cx="410.94" cy="223.03" rx="1.95" ry="1.7" transform="rotate(41 410.94 223.03)" opacity="0.54"/><ellipse cx="421.52" cy="261.12" rx="2.95" ry="1.98" transform="rotate(120 421.52 261.12)" opacity="0.67"/><ellipse cx="439.16" cy="230.46" rx="4.19" ry="3.6" transform="rotate(99 439.16 230.46)" opacity="0.74"/><ellipse cx="421.5" cy="260.57" rx="1.83" ry="1.64" transform="rotate(85 421.5 260.57)" opacity="0.7"/><ellipse cx="413.41" cy="240.86" rx="3.78" ry="3" transform="rotate(156 413.41 240.86)" opacity="0.52"/><ellipse cx="407.3" cy="260.67" rx="3.45" ry="2.93" transform="rotate(79 407.3 260.67)" opacity="0.56"/><ellipse cx="405.52" cy="252.79" rx="1.8" ry="1.22" transform="rotate(85 405.52 252.79)" opacity="0.46"/><ellipse cx="424.21" cy="258.51" rx="3.65" ry="3.17" transform="rotate(106 424.21 258.51)" opacity="0.41"/><ellipse cx="433.7" cy="230.59" rx="3.81" ry="3.36" transform="rotate(42 433.7 230.59)" opacity="0.58"/><ellipse cx="421.07" cy="252.4" rx="3.17" ry="2.52" transform="rotate(143 421.07 252.4)" opacity="0.64"/><ellipse cx="426.18" cy="243.2" rx="2.65" ry="2.48" transform="rotate(12 426.18 243.2)" opacity="0.72"/><ellipse cx="436.39" cy="228.42" rx="2.29" ry="2.29" transform="rotate(162 436.39 228.42)" opacity="0.79"/><ellipse cx="425.98" cy="236.05" rx="1.84" ry="1.8" transform="rotate(106 425.98 236.05)" opacity="0.53"/><ellipse cx="426.06" cy="262.34" rx="1.81" ry="1.68" transform="rotate(135 426.06 262.34)" opacity="0.64"/><ellipse cx="428.21" cy="260.04" rx="2.32" ry="1.67" transform="rotate(176 428.21 260.04)" opacity="0.79"/><ellipse cx="438.93" cy="255.82" rx="2.83" ry="1.79" transform="rotate(70 438.93 255.82)" opacity="0.77"/><ellipse cx="424.03" cy="235.69" rx="2.47" ry="2.13" transform="rotate(166 424.03 235.69)" opacity="0.66"/><ellipse cx="428.43" cy="249.23" rx="4.01" ry="2.48" transform="rotate(52 428.43 249.23)" opacity="0.67"/><ellipse cx="400.53" cy="235.11" rx="4.24" ry="4.09" transform="rotate(10 400.53 235.11)" opacity="0.74"/><ellipse cx="439.15" cy="238.84" rx="3.09" ry="2.65" transform="rotate(117 439.15 238.84)" opacity="0.66"/><ellipse cx="409.76" cy="255.42" rx="2.34" ry="1.95" transform="rotate(2 409.76 255.42)" opacity="0.46"/><ellipse cx="419.8" cy="256.56" rx="2.75" ry="1.76" transform="rotate(158 419.8 256.56)" opacity="0.41"/><ellipse cx="420.5" cy="252.1" rx="3.32" ry="2.47" transform="rotate(140 420.5 252.1)" opacity="0.45"/><ellipse cx="436.48" cy="256.3" rx="4.23" ry="3.06" transform="rotate(133 436.48 256.3)" opacity="0.69"/><ellipse cx="414.71" cy="263.26" rx="2.58" ry="1.66" transform="rotate(143 414.71 263.26)" opacity="0.76"/><ellipse cx="400.61" cy="246.66" rx="4.34" ry="3.2" transform="rotate(122 400.61 246.66)" opacity="0.45"/></g>
<g fill="#2a2a2a"><circle cx="399.49" cy="243.51" r="0.9" opacity="0.61"/><circle cx="432.25" cy="261.62" r="1.09" opacity="0.58"/><circle cx="429.64" cy="222.02" r="0.7" opacity="0.59"/><circle cx="403.47" cy="236.48" r="0.96" opacity="0.84"/><circle cx="426.23" cy="265.38" r="1.1" opacity="0.78"/><circle cx="433.19" cy="263.25" r="0.98" opacity="0.89"/><circle cx="441.85" cy="246.75" r="0.58" opacity="0.75"/><circle cx="420.64" cy="266.85" r="0.97" opacity="0.8"/><circle cx="432.88" cy="251.91" r="0.99" opacity="0.59"/><circle cx="406.96" cy="233.08" r="0.86" opacity="0.72"/><circle cx="399.47" cy="240.23" r="0.99" opacity="0.95"/><circle cx="410.06" cy="230.1" r="1.06" opacity="0.55"/><circle cx="417.92" cy="230.35" r="0.66" opacity="0.76"/><circle cx="428.2" cy="236.56" r="0.7" opacity="0.67"/><circle cx="415.86" cy="222.79" r="0.79" opacity="0.92"/><circle cx="441.97" cy="252.22" r="0.94" opacity="0.73"/><circle cx="435.88" cy="226.35" r="0.75" opacity="0.7"/><circle cx="418.39" cy="246.13" r="0.51" opacity="0.87"/><circle cx="415.09" cy="242.46" r="0.73" opacity="0.85"/><circle cx="417.82" cy="258.05" r="1.08" opacity="0.89"/><circle cx="432.88" cy="241.21" r="1.01" opacity="0.56"/><circle cx="431.39" cy="234.6" r="0.82" opacity="0.68"/><circle cx="401.83" cy="244.01" r="0.95" opacity="0.7"/><circle cx="407.25" cy="256.06" r="0.61" opacity="0.84"/><circle cx="413.32" cy="257.4" r="0.54" opacity="0.91"/><circle cx="405.25" cy="231.01" r="0.98" opacity="0.69"/><circle cx="437.26" cy="246.72" r="0.52" opacity="0.86"/><circle cx="430.16" cy="244.29" r="0.66" opacity="0.83"/><circle cx="409.75" cy="227.11" r="0.96" opacity="0.59"/><circle cx="438.86" cy="250.06" r="1.06" opacity="0.81"/><circle cx="434.27" cy="240.74" r="1" opacity="0.93"/><circle cx="406.25" cy="256.28" r="1.07" opacity="0.94"/><circle cx="438.68" cy="259.56" r="0.47" opacity="0.71"/><circle cx="406.37" cy="259.09" r="0.86" opacity="0.93"/><circle cx="439.95" cy="230.2" r="0.47" opacity="0.76"/><circle cx="411.3" cy="238.41" r="0.95" opacity="0.9"/><circle cx="409.66" cy="230.89" r="0.78" opacity="0.93"/><circle cx="430.98" cy="255.41" r="0.5" opacity="0.59"/><circle cx="430.24" cy="246.81" r="1.07" opacity="0.87"/><circle cx="406.44" cy="250.21" r="1.01" opacity="0.68"/><circle cx="421.47" cy="251.46" r="0.9" opacity="0.69"/><circle cx="426.58" cy="253.43" r="0.69" opacity="0.79"/><circle cx="434.39" cy="259.32" r="0.93" opacity="0.91"/><circle cx="421.34" cy="222.77" r="1.06" opacity="0.64"/><circle cx="431.88" cy="255.93" r="0.91" opacity="0.65"/><circle cx="443.37" cy="247.06" r="1.07" opacity="0.67"/><circle cx="431.39" cy="233.82" r="0.84" opacity="0.58"/><circle cx="407.37" cy="240.19" r="0.55" opacity="0.6"/><circle cx="423.56" cy="254.56" r="0.57" opacity="0.7"/><circle cx="412.07" cy="227.49" r="0.71" opacity="0.83"/><circle cx="436.27" cy="259.22" r="1.05" opacity="0.79"/><circle cx="418.09" cy="254.47" r="0.86" opacity="0.8"/><circle cx="419.46" cy="242.8" r="1.08" opacity="0.91"/><circle cx="400.03" cy="251.54" r="0.51" opacity="0.62"/><circle cx="437.76" cy="256.34" r="0.55" opacity="0.83"/><circle cx="441.13" cy="233.75" r="0.56" opacity="0.93"/><circle cx="414" cy="255.11" r="0.86" opacity="0.58"/><circle cx="422.23" cy="223.44" r="0.74" opacity="0.73"/><circle cx="425.32" cy="261.89" r="0.65" opacity="0.79"/><circle cx="415.19" cy="246.51" r="0.77" opacity="0.93"/><circle cx="403.47" cy="238.09" r="0.46" opacity="0.66"/><circle cx="410.91" cy="224.19" r="1.03" opacity="0.83"/><circle cx="408.35" cy="248.01" r="1.02" opacity="0.82"/><circle cx="429.37" cy="265.24" r="0.62" opacity="0.76"/><circle cx="438.08" cy="258.32" r="0.95" opacity="0.58"/><circle cx="436.41" cy="225.52" r="0.79" opacity="0.63"/><circle cx="435.39" cy="253.94" r="0.93" opacity="0.91"/><circle cx="418.41" cy="260.78" r="0.54" opacity="0.6"/><circle cx="433.38" cy="254.34" r="0.81" opacity="0.67"/><circle cx="414.13" cy="235.03" r="0.77" opacity="0.75"/><circle cx="405.82" cy="243.92" r="0.54" opacity="0.75"/><circle cx="438.33" cy="228.88" r="0.7" opacity="0.95"/><circle cx="432.77" cy="227.04" r="0.5" opacity="0.93"/><circle cx="434.28" cy="236.7" r="0.53" opacity="0.55"/><circle cx="419.97" cy="255.91" r="1.04" opacity="0.61"/><circle cx="402.19" cy="233.64" r="0.92" opacity="0.7"/><circle cx="412.06" cy="260.38" r="0.55" opacity="0.92"/><circle cx="428.1" cy="251.86" r="0.57" opacity="0.69"/><circle cx="438.13" cy="241.48" r="0.92" opacity="0.87"/><circle cx="402.73" cy="250.77" r="1.04" opacity="0.56"/><circle cx="412.03" cy="232.59" r="0.93" opacity="0.82"/><circle cx="424.07" cy="266.36" r="1.01" opacity="0.85"/><circle cx="423.64" cy="228.14" r="0.49" opacity="0.83"/><circle cx="412.74" cy="228.07" r="0.93" opacity="0.72"/><circle cx="401.02" cy="249.23" r="0.67" opacity="0.57"/><circle cx="433.67" cy="247.34" r="0.45" opacity="0.58"/><circle cx="402.89" cy="252.33" r="0.81" opacity="0.64"/><circle cx="428.09" cy="260.48" r="0.51" opacity="0.68"/><circle cx="409.92" cy="240.52" r="0.79" opacity="0.63"/><circle cx="433.81" cy="249.92" r="0.99" opacity="0.65"/><circle cx="419.36" cy="226.31" r="0.7" opacity="0.74"/><circle cx="437.03" cy="227.17" r="0.81" opacity="0.55"/><circle cx="398.91" cy="243.87" r="0.72" opacity="0.75"/><circle cx="400.62" cy="251.49" r="0.99" opacity="0.61"/><circle cx="437.13" cy="229.37" r="0.98" opacity="0.77"/><circle cx="439.16" cy="228.03" r="0.61" opacity="0.64"/><circle cx="433.46" cy="224.63" r="1.1" opacity="0.59"/><circle cx="438.6" cy="230.79" r="0.91" opacity="0.86"/><circle cx="402.8" cy="241.54" r="0.63" opacity="0.56"/><circle cx="414.21" cy="236.69" r="0.72" opacity="0.64"/><circle cx="422.98" cy="241.9" r="0.8" opacity="0.72"/><circle cx="433.37" cy="247.01" r="1.08" opacity="0.78"/><circle cx="423.84" cy="260.58" r="0.63" opacity="0.85"/><circle cx="439.72" cy="230.3" r="0.66" opacity="0.7"/><circle cx="412.89" cy="244.29" r="0.46" opacity="0.75"/><circle cx="407.28" cy="259.04" r="1.02" opacity="0.61"/><circle cx="425.48" cy="251.02" r="0.58" opacity="0.92"/><circle cx="398.27" cy="243.68" r="0.6" opacity="0.6"/><circle cx="423.49" cy="261.59" r="0.54" opacity="0.75"/><circle cx="424.92" cy="241.31" r="0.84" opacity="0.75"/><circle cx="415.23" cy="259.68" r="0.56" opacity="0.9"/><circle cx="427.97" cy="226.89" r="0.91" opacity="0.58"/><circle cx="428.33" cy="251.08" r="0.66" opacity="0.67"/><circle cx="442.43" cy="235.52" r="0.94" opacity="0.65"/><circle cx="434.14" cy="228.6" r="0.6" opacity="0.69"/><circle cx="432.58" cy="261.08" r="0.49" opacity="0.8"/><circle cx="418.05" cy="247.87" r="0.61" opacity="0.55"/><circle cx="441.83" cy="235.99" r="0.67" opacity="0.82"/><circle cx="432.04" cy="255.17" r="0.54" opacity="0.67"/><circle cx="409.16" cy="226.28" r="0.72" opacity="0.55"/><circle cx="438.06" cy="229.74" r="1.09" opacity="0.83"/><circle cx="422.07" cy="234.92" r="1.07" opacity="0.62"/><circle cx="402.32" cy="243.13" r="1" opacity="0.83"/><circle cx="438.95" cy="252.69" r="0.56" opacity="0.93"/><circle cx="441.27" cy="237.69" r="0.99" opacity="0.77"/><circle cx="417.17" cy="221.61" r="0.52" opacity="0.8"/><circle cx="420.42" cy="238.61" r="0.67" opacity="0.85"/><circle cx="405.64" cy="258.85" r="0.77" opacity="0.69"/><circle cx="413.62" cy="228.32" r="0.56" opacity="0.85"/><circle cx="409.55" cy="262.83" r="0.46" opacity="0.76"/></g>
<circle cx="421.6" cy="243.2" r="23" fill="none" stroke="#888" stroke-width="0.6" opacity="0.7"/>
<circle cx="421.6" cy="243.2" r="24.2" fill="none" stroke="#e6e6e6" stroke-width="1.3" opacity="0.6"/>
<circle cx="421.6" cy="243.2" r="25.6" fill="none" stroke="#222" stroke-width="1.3"/>
<circle cx="421.6" cy="296" r="26.2" fill="#cacaca"/>
<circle cx="421.6" cy="296" r="26.2" fill="url(#dishshade)"/>
<circle cx="421.6" cy="296" r="25.7" fill="#000" opacity="0.12" filter="url(#dishtex1)"/>
<g fill="#8a8a8a" filter="url(#soft05)"><ellipse cx="407.91" cy="289.41" rx="2.37" ry="1.62" transform="rotate(125 407.91 289.41)" opacity="0.73"/><ellipse cx="416.31" cy="288.37" rx="2.28" ry="1.67" transform="rotate(63 416.31 288.37)" opacity="0.78"/><ellipse cx="421.21" cy="282.06" rx="2.13" ry="1.4" transform="rotate(90 421.21 282.06)" opacity="0.55"/><ellipse cx="417.6" cy="314.64" rx="2.19" ry="1.91" transform="rotate(169 417.6 314.64)" opacity="0.55"/><ellipse cx="400.87" cy="301.75" rx="1.86" ry="1.44" transform="rotate(96 400.87 301.75)" opacity="0.42"/><ellipse cx="430.09" cy="296.22" rx="2.91" ry="2.1" transform="rotate(93 430.09 296.22)" opacity="0.71"/><ellipse cx="422.77" cy="314.91" rx="2.18" ry="1.71" transform="rotate(167 422.77 314.91)" opacity="0.63"/><ellipse cx="426.71" cy="288.38" rx="1.84" ry="1.41" transform="rotate(9 426.71 288.38)" opacity="0.41"/><ellipse cx="415.89" cy="313.14" rx="1.61" ry="1.56" transform="rotate(20 415.89 313.14)" opacity="0.46"/><ellipse cx="408.66" cy="290.18" rx="2.4" ry="1.55" transform="rotate(24 408.66 290.18)" opacity="0.58"/></g>
<g fill="#2a2a2a"><circle cx="443.51" cy="293.5" r="1.08" opacity="0.73"/><circle cx="412.66" cy="276.75" r="1.01" opacity="0.66"/><circle cx="414.14" cy="317.77" r="0.56" opacity="0.62"/><circle cx="424.84" cy="273.59" r="0.8" opacity="0.57"/><circle cx="439.51" cy="282.45" r="0.71" opacity="0.61"/><circle cx="441.27" cy="285.28" r="0.93" opacity="0.95"/><circle cx="419.32" cy="312.6" r="0.56" opacity="0.82"/><circle cx="438.54" cy="283.36" r="0.68" opacity="0.71"/><circle cx="419.38" cy="288.9" r="1.08" opacity="0.88"/><circle cx="437.83" cy="279.15" r="0.68" opacity="0.61"/><circle cx="405.12" cy="282.68" r="0.54" opacity="0.89"/><circle cx="423.74" cy="282.28" r="0.62" opacity="0.87"/><circle cx="401.09" cy="301.51" r="0.79" opacity="0.85"/><circle cx="411.51" cy="316.42" r="1.04" opacity="0.78"/><circle cx="405.59" cy="279.28" r="0.64" opacity="0.89"/><circle cx="422.11" cy="319.27" r="0.84" opacity="0.77"/><circle cx="441.32" cy="293.97" r="0.56" opacity="0.74"/><circle cx="408.78" cy="311.31" r="1.09" opacity="0.62"/><circle cx="405.63" cy="285.66" r="0.89" opacity="0.67"/><circle cx="441.57" cy="291.17" r="0.99" opacity="0.84"/><circle cx="411.36" cy="299.5" r="0.84" opacity="0.6"/><circle cx="426.03" cy="274.77" r="0.72" opacity="0.7"/><circle cx="429.22" cy="277.47" r="0.97" opacity="0.88"/><circle cx="409.07" cy="313.71" r="0.58" opacity="0.85"/><circle cx="400.73" cy="300.43" r="1.04" opacity="0.71"/><circle cx="407.28" cy="278.8" r="1.04" opacity="0.89"/><circle cx="403.55" cy="284.99" r="0.69" opacity="0.84"/><circle cx="439.26" cy="284.93" r="0.72" opacity="0.78"/><circle cx="410.78" cy="288.59" r="0.83" opacity="0.81"/><circle cx="441.21" cy="305.82" r="0.84" opacity="0.65"/><circle cx="414" cy="316.03" r="0.48" opacity="0.78"/><circle cx="440.38" cy="305.4" r="1.09" opacity="0.92"/><circle cx="426.59" cy="282.02" r="0.67" opacity="0.91"/><circle cx="428.07" cy="312.58" r="0.95" opacity="0.88"/><circle cx="433.96" cy="282.88" r="0.47" opacity="0.7"/><circle cx="440.58" cy="287.81" r="0.95" opacity="0.6"/><circle cx="427.21" cy="273.77" r="0.92" opacity="0.76"/><circle cx="428.98" cy="275.68" r="1.02" opacity="0.57"/><circle cx="440.67" cy="286.13" r="0.74" opacity="0.73"/><circle cx="404.39" cy="282.79" r="0.99" opacity="0.93"/><circle cx="398.44" cy="294.13" r="0.87" opacity="0.57"/><circle cx="428.2" cy="288.04" r="0.73" opacity="0.91"/><circle cx="440.47" cy="282.46" r="0.84" opacity="0.62"/><circle cx="441.77" cy="290.33" r="0.51" opacity="0.78"/><circle cx="431.72" cy="279.13" r="0.71" opacity="0.86"/><circle cx="436.27" cy="303.8" r="0.56" opacity="0.87"/><circle cx="434.82" cy="292.9" r="0.47" opacity="0.88"/><circle cx="425.75" cy="304.3" r="0.87" opacity="0.83"/><circle cx="441.08" cy="292.19" r="0.6" opacity="0.72"/><circle cx="410.46" cy="282.74" r="1" opacity="0.59"/><circle cx="429.8" cy="281.87" r="0.61" opacity="0.67"/><circle cx="414.11" cy="283.31" r="0.6" opacity="0.75"/><circle cx="423.06" cy="276.65" r="0.83" opacity="0.66"/><circle cx="438.53" cy="303.94" r="0.81" opacity="0.56"/><circle cx="404.92" cy="308.09" r="0.73" opacity="0.88"/><circle cx="431.26" cy="315.94" r="0.76" opacity="0.86"/><circle cx="440.62" cy="298.26" r="0.58" opacity="0.91"/><circle cx="407.78" cy="307.98" r="1.02" opacity="0.85"/><circle cx="435.52" cy="309.98" r="0.9" opacity="0.86"/><circle cx="424.29" cy="301.53" r="0.88" opacity="0.85"/><circle cx="431.21" cy="317.41" r="0.56" opacity="0.83"/><circle cx="412.59" cy="291.18" r="0.71" opacity="0.73"/><circle cx="440.09" cy="290.33" r="0.54" opacity="0.65"/><circle cx="440.41" cy="308.13" r="1.04" opacity="0.67"/><circle cx="422.95" cy="283.36" r="0.85" opacity="0.68"/><circle cx="440.87" cy="296.42" r="0.79" opacity="0.9"/><circle cx="435.85" cy="314.6" r="0.49" opacity="0.63"/><circle cx="441.14" cy="297.8" r="1" opacity="0.61"/><circle cx="441.28" cy="299.36" r="0.76" opacity="0.74"/><circle cx="412.94" cy="298.01" r="0.71" opacity="0.61"/><circle cx="409.71" cy="278.17" r="0.57" opacity="0.75"/><circle cx="401.09" cy="300" r="0.56" opacity="0.83"/><circle cx="435.6" cy="294.39" r="1.07" opacity="0.86"/><circle cx="433.5" cy="280.58" r="1.07" opacity="0.85"/><circle cx="411.97" cy="317.38" r="0.67" opacity="0.76"/><circle cx="443.29" cy="302.81" r="0.5" opacity="0.83"/><circle cx="444.65" cy="301.29" r="0.69" opacity="0.64"/><circle cx="402.51" cy="298.71" r="1.06" opacity="0.59"/><circle cx="436.6" cy="292.08" r="0.57" opacity="0.6"/><circle cx="409.69" cy="283.28" r="0.89" opacity="0.85"/><circle cx="419.48" cy="285.13" r="0.79" opacity="0.75"/><circle cx="431.7" cy="277.54" r="0.57" opacity="0.58"/><circle cx="418.92" cy="275.35" r="0.8" opacity="0.58"/><circle cx="406.35" cy="307.67" r="1.06" opacity="0.73"/><circle cx="410.96" cy="278.24" r="0.61" opacity="0.67"/><circle cx="420.36" cy="317.69" r="0.67" opacity="0.68"/><circle cx="416.26" cy="315.08" r="0.83" opacity="0.71"/><circle cx="417.43" cy="315.35" r="1.03" opacity="0.72"/><circle cx="444.5" cy="294.68" r="0.97" opacity="0.88"/><circle cx="404.84" cy="292.66" r="0.92" opacity="0.65"/><circle cx="406.3" cy="297.64" r="0.53" opacity="0.71"/><circle cx="402.36" cy="298.83" r="0.74" opacity="0.73"/><circle cx="407.63" cy="289.63" r="0.82" opacity="0.61"/><circle cx="430.57" cy="311.52" r="0.71" opacity="0.94"/><circle cx="402.53" cy="289.65" r="0.78" opacity="0.7"/><circle cx="418.76" cy="286.25" r="0.59" opacity="0.79"/><circle cx="404.49" cy="292.62" r="0.97" opacity="0.89"/><circle cx="440.35" cy="303.21" r="0.56" opacity="0.63"/><circle cx="432.09" cy="314.55" r="0.47" opacity="0.61"/><circle cx="418.08" cy="296.24" r="0.86" opacity="0.69"/><circle cx="444.5" cy="298.49" r="0.9" opacity="0.91"/><circle cx="438.8" cy="311.04" r="0.96" opacity="0.67"/><circle cx="413.23" cy="313.72" r="0.66" opacity="0.88"/><circle cx="403.04" cy="304.81" r="0.92" opacity="0.74"/><circle cx="400.41" cy="304.82" r="0.57" opacity="0.85"/><circle cx="416.75" cy="315.65" r="0.73" opacity="0.86"/><circle cx="423.22" cy="276.14" r="0.68" opacity="0.6"/><circle cx="421.87" cy="318.53" r="0.82" opacity="0.58"/><circle cx="429.76" cy="278.04" r="0.62" opacity="0.58"/><circle cx="424.93" cy="277.74" r="1.09" opacity="0.58"/><circle cx="435.85" cy="279.81" r="1.03" opacity="0.77"/><circle cx="415.49" cy="281.62" r="0.57" opacity="0.84"/><circle cx="433.41" cy="280.19" r="0.53" opacity="0.92"/><circle cx="428.57" cy="316.72" r="0.48" opacity="0.82"/><circle cx="414.61" cy="273.74" r="0.71" opacity="0.82"/></g>
<circle cx="421.6" cy="296" r="23" fill="none" stroke="#888" stroke-width="0.6" opacity="0.7"/>
<circle cx="421.6" cy="296" r="24.2" fill="none" stroke="#e6e6e6" stroke-width="1.3" opacity="0.6"/>
<circle cx="421.6" cy="296" r="25.6" fill="none" stroke="#222" stroke-width="1.3"/>
<circle cx="475" cy="243.2" r="26.2" fill="#cdcdcd"/>
<circle cx="475" cy="243.2" r="26.2" fill="url(#dishshade)"/>
<circle cx="475" cy="243.2" r="25.7" fill="#000" opacity="0.12" filter="url(#dishtex1)"/>
<g fill="#555555" filter="url(#soft05)"><ellipse cx="489.19" cy="259.16" rx="3.28" ry="2.3" transform="rotate(126 489.19 259.16)" opacity="0.7"/><ellipse cx="460.92" cy="245.68" rx="2.06" ry="1.64" transform="rotate(99 460.92 245.68)" opacity="0.57"/><ellipse cx="475.08" cy="242.14" rx="2.58" ry="2.29" transform="rotate(58 475.08 242.14)" opacity="0.64"/><ellipse cx="485.47" cy="251.03" rx="1.65" ry="1.42" transform="rotate(2 485.47 251.03)" opacity="0.78"/><ellipse cx="467.07" cy="250.53" rx="2.53" ry="1.55" transform="rotate(56 467.07 250.53)" opacity="0.71"/><ellipse cx="491.01" cy="236.77" rx="2.36" ry="2.06" transform="rotate(117 491.01 236.77)" opacity="0.78"/><ellipse cx="488.4" cy="236.53" rx="3.62" ry="3.5" transform="rotate(25 488.4 236.53)" opacity="0.47"/><ellipse cx="496.49" cy="242.19" rx="1.87" ry="1.37" transform="rotate(128 496.49 242.19)" opacity="0.77"/><ellipse cx="456.34" cy="253.14" rx="3.07" ry="2.22" transform="rotate(150 456.34 253.14)" opacity="0.79"/><ellipse cx="452.5" cy="243.29" rx="2.47" ry="2.32" transform="rotate(122 452.5 243.29)" opacity="0.5"/><ellipse cx="479.38" cy="228.92" rx="1.98" ry="1.62" transform="rotate(179 479.38 228.92)" opacity="0.71"/><ellipse cx="474.5" cy="236.4" rx="3.06" ry="1.97" transform="rotate(41 474.5 236.4)" opacity="0.61"/><ellipse cx="462.28" cy="253.29" rx="1.67" ry="1.03" transform="rotate(180 462.28 253.29)" opacity="0.74"/><ellipse cx="461.75" cy="231.55" rx="3.02" ry="2.02" transform="rotate(58 461.75 231.55)" opacity="0.79"/><ellipse cx="477.19" cy="226.3" rx="3.49" ry="2.42" transform="rotate(131 477.19 226.3)" opacity="0.54"/><ellipse cx="482.93" cy="231.92" rx="3.6" ry="3.11" transform="rotate(155 482.93 231.92)" opacity="0.78"/><ellipse cx="495.52" cy="243.94" rx="3.41" ry="3.25" transform="rotate(131 495.52 243.94)" opacity="0.72"/><ellipse cx="457.74" cy="241.16" rx="2.54" ry="1.58" transform="rotate(93 457.74 241.16)" opacity="0.63"/><ellipse cx="480.11" cy="258.87" rx="2.67" ry="1.98" transform="rotate(88 480.11 258.87)" opacity="0.4"/><ellipse cx="455.08" cy="238.07" rx="2.33" ry="1.96" transform="rotate(58 455.08 238.07)" opacity="0.65"/><ellipse cx="465.63" cy="240.11" rx="1.8" ry="1.48" transform="rotate(65 465.63 240.11)" opacity="0.41"/><ellipse cx="480.77" cy="241.06" rx="3.51" ry="2.74" transform="rotate(71 480.77 241.06)" opacity="0.5"/><ellipse cx="489.17" cy="254.84" rx="2.36" ry="1.48" transform="rotate(40 489.17 254.84)" opacity="0.5"/><ellipse cx="492.95" cy="237.61" rx="3.03" ry="2.17" transform="rotate(179 492.95 237.61)" opacity="0.53"/><ellipse cx="471.48" cy="243.79" rx="2.45" ry="1.88" transform="rotate(48 471.48 243.79)" opacity="0.5"/><ellipse cx="474.57" cy="263.02" rx="3.75" ry="3.7" transform="rotate(110 474.57 263.02)" opacity="0.73"/><ellipse cx="478.07" cy="243.6" rx="1.92" ry="1.71" transform="rotate(41 478.07 243.6)" opacity="0.58"/><ellipse cx="459.86" cy="242.6" rx="3.43" ry="3.4" transform="rotate(161 459.86 242.6)" opacity="0.72"/><ellipse cx="464.1" cy="242.06" rx="3.03" ry="2.29" transform="rotate(147 464.1 242.06)" opacity="0.72"/><ellipse cx="466.87" cy="230.42" rx="3.22" ry="2.1" transform="rotate(54 466.87 230.42)" opacity="0.75"/><ellipse cx="467.54" cy="263.36" rx="2.28" ry="2.23" transform="rotate(40 467.54 263.36)" opacity="0.57"/><ellipse cx="474.97" cy="245.34" rx="3.53" ry="2.17" transform="rotate(55 474.97 245.34)" opacity="0.78"/><ellipse cx="466.31" cy="239.09" rx="3.51" ry="3.47" transform="rotate(180 466.31 239.09)" opacity="0.65"/><ellipse cx="485.1" cy="245.62" rx="1.82" ry="1.51" transform="rotate(110 485.1 245.62)" opacity="0.64"/><ellipse cx="452.56" cy="244.28" rx="2.46" ry="1.97" transform="rotate(4 452.56 244.28)" opacity="0.53"/><ellipse cx="490.23" cy="227.31" rx="1.64" ry="1.12" transform="rotate(83 490.23 227.31)" opacity="0.72"/><ellipse cx="467.14" cy="239.89" rx="2.54" ry="1.8" transform="rotate(24 467.14 239.89)" opacity="0.74"/><ellipse cx="487.39" cy="237.58" rx="3.54" ry="3.1" transform="rotate(124 487.39 237.58)" opacity="0.71"/><ellipse cx="469.19" cy="242" rx="1.69" ry="1.1" transform="rotate(42 469.19 242)" opacity="0.76"/><ellipse cx="479.66" cy="262.87" rx="2.92" ry="2.73" transform="rotate(94 479.66 262.87)" opacity="0.54"/><ellipse cx="483.49" cy="250.58" rx="3.68" ry="3.35" transform="rotate(125 483.49 250.58)" opacity="0.45"/><ellipse cx="467.89" cy="240.83" rx="1.69" ry="1.06" transform="rotate(37 467.89 240.83)" opacity="0.73"/><ellipse cx="465.16" cy="258.51" rx="3.32" ry="2.49" transform="rotate(146 465.16 258.51)" opacity="0.62"/><ellipse cx="454.28" cy="234.08" rx="2.4" ry="1.73" transform="rotate(136 454.28 234.08)" opacity="0.77"/><ellipse cx="463.21" cy="246.4" rx="3.33" ry="3.1" transform="rotate(3 463.21 246.4)" opacity="0.65"/><ellipse cx="489.86" cy="244.56" rx="3.42" ry="3.13" transform="rotate(48 489.86 244.56)" opacity="0.5"/><ellipse cx="490.01" cy="242.08" rx="1.85" ry="1.24" transform="rotate(61 490.01 242.08)" opacity="0.46"/><ellipse cx="483.6" cy="230.54" rx="3.72" ry="3.43" transform="rotate(138 483.6 230.54)" opacity="0.76"/></g>
<g fill="#2a2a2a"><circle cx="469.15" cy="263.82" r="0.52" opacity="0.81"/><circle cx="493.46" cy="247.89" r="0.64" opacity="0.79"/><circle cx="469.35" cy="245.04" r="1.04" opacity="0.94"/><circle cx="497.27" cy="238.92" r="0.85" opacity="0.94"/><circle cx="456.42" cy="238.06" r="0.62" opacity="0.77"/><circle cx="466.78" cy="265.02" r="0.63" opacity="0.94"/><circle cx="457" cy="249.31" r="1.06" opacity="0.71"/><circle cx="470.34" cy="255.7" r="1" opacity="0.91"/><circle cx="469.3" cy="259.73" r="0.83" opacity="0.79"/><circle cx="475.69" cy="265.73" r="0.5" opacity="0.77"/><circle cx="493.67" cy="252.12" r="0.64" opacity="0.87"/><circle cx="465.7" cy="243.59" r="0.78" opacity="0.87"/><circle cx="483.73" cy="247.79" r="0.95" opacity="0.94"/><circle cx="478.37" cy="236.22" r="0.78" opacity="0.92"/><circle cx="472.59" cy="251.79" r="1.04" opacity="0.56"/><circle cx="466.43" cy="262.64" r="1.04" opacity="0.89"/><circle cx="474.76" cy="233.2" r="0.73" opacity="0.61"/><circle cx="472.39" cy="231.58" r="0.49" opacity="0.94"/><circle cx="481.24" cy="226.92" r="1" opacity="0.73"/><circle cx="465.46" cy="250.54" r="0.47" opacity="0.81"/><circle cx="469.88" cy="246.16" r="0.68" opacity="0.61"/><circle cx="488.97" cy="257.19" r="0.71" opacity="0.71"/><circle cx="457" cy="227.84" r="0.79" opacity="0.75"/><circle cx="463.34" cy="227.4" r="0.93" opacity="0.65"/><circle cx="463.76" cy="243.55" r="0.72" opacity="0.77"/><circle cx="485.37" cy="236.34" r="0.87" opacity="0.57"/><circle cx="494.99" cy="252.85" r="0.55" opacity="0.86"/><circle cx="489.63" cy="229.97" r="1" opacity="0.7"/><circle cx="469.49" cy="225.77" r="1.01" opacity="0.91"/><circle cx="484.64" cy="240.73" r="0.61" opacity="0.64"/><circle cx="470.1" cy="240.91" r="0.89" opacity="0.84"/><circle cx="469.44" cy="251.05" r="0.92" opacity="0.57"/><circle cx="493.66" cy="240.99" r="0.62" opacity="0.92"/><circle cx="494.38" cy="238.15" r="1" opacity="0.81"/><circle cx="468.01" cy="221.51" r="1.08" opacity="0.7"/><circle cx="478.13" cy="234.1" r="0.66" opacity="0.6"/><circle cx="481.88" cy="238.77" r="0.84" opacity="0.71"/><circle cx="491.6" cy="258.42" r="0.94" opacity="0.55"/><circle cx="476.27" cy="246.39" r="0.86" opacity="0.79"/><circle cx="486.42" cy="223.99" r="0.8" opacity="0.66"/><circle cx="457.44" cy="232.7" r="0.96" opacity="0.87"/><circle cx="491.38" cy="240.46" r="1.01" opacity="0.86"/><circle cx="463.59" cy="237.78" r="0.52" opacity="0.87"/><circle cx="487.9" cy="255.02" r="1.08" opacity="0.85"/><circle cx="496.03" cy="239.67" r="0.82" opacity="0.67"/><circle cx="457.78" cy="242.87" r="0.45" opacity="0.73"/><circle cx="460.77" cy="247.87" r="0.96" opacity="0.82"/><circle cx="460.45" cy="243.9" r="0.58" opacity="0.55"/><circle cx="471.16" cy="265.12" r="0.99" opacity="0.75"/><circle cx="496.58" cy="241.44" r="0.72" opacity="0.85"/><circle cx="484.75" cy="242.44" r="0.85" opacity="0.76"/><circle cx="461.13" cy="260.09" r="0.73" opacity="0.71"/><circle cx="488.06" cy="227.66" r="1.03" opacity="0.85"/><circle cx="456.05" cy="244.07" r="0.87" opacity="0.8"/><circle cx="459.26" cy="253.61" r="1.06" opacity="0.86"/><circle cx="487.17" cy="225.6" r="0.84" opacity="0.69"/><circle cx="472.97" cy="265.26" r="0.8" opacity="0.61"/><circle cx="483.07" cy="229.15" r="0.48" opacity="0.75"/><circle cx="474.53" cy="229.08" r="0.88" opacity="0.56"/><circle cx="455.33" cy="242.31" r="0.71" opacity="0.83"/><circle cx="457.05" cy="229.28" r="1.03" opacity="0.66"/><circle cx="490.28" cy="250.97" r="0.69" opacity="0.75"/><circle cx="473.28" cy="222.67" r="0.91" opacity="0.88"/><circle cx="473.59" cy="254.53" r="0.81" opacity="0.62"/><circle cx="478.36" cy="230.02" r="0.59" opacity="0.94"/><circle cx="473.89" cy="239.21" r="1.03" opacity="0.8"/><circle cx="466.6" cy="262.1" r="0.96" opacity="0.63"/><circle cx="461.58" cy="229.63" r="0.74" opacity="0.92"/><circle cx="473.35" cy="231.18" r="0.79" opacity="0.61"/><circle cx="484.21" cy="254.06" r="0.94" opacity="0.65"/><circle cx="472.4" cy="230.36" r="0.52" opacity="0.71"/><circle cx="452.21" cy="244.29" r="0.49" opacity="0.79"/><circle cx="493.03" cy="228.07" r="0.91" opacity="0.88"/><circle cx="488.52" cy="240.1" r="0.99" opacity="0.6"/><circle cx="467.31" cy="222.8" r="0.77" opacity="0.7"/><circle cx="484.7" cy="260.48" r="0.75" opacity="0.78"/><circle cx="478.23" cy="256.43" r="0.84" opacity="0.91"/><circle cx="494.91" cy="242.5" r="1.01" opacity="0.68"/><circle cx="458.14" cy="258.42" r="0.71" opacity="0.9"/><circle cx="476.04" cy="223.86" r="0.46" opacity="0.61"/><circle cx="463.83" cy="224.36" r="0.53" opacity="0.74"/><circle cx="477.39" cy="239.43" r="0.49" opacity="0.89"/><circle cx="497.31" cy="249.35" r="0.51" opacity="0.56"/><circle cx="462.25" cy="228.26" r="1" opacity="0.82"/><circle cx="457.05" cy="258.11" r="0.87" opacity="0.65"/><circle cx="491.93" cy="249.92" r="0.68" opacity="0.79"/><circle cx="469.57" cy="241.04" r="0.68" opacity="0.72"/><circle cx="479.83" cy="257.86" r="0.88" opacity="0.84"/><circle cx="474.13" cy="222.66" r="0.61" opacity="0.94"/><circle cx="487.77" cy="261.01" r="1" opacity="0.57"/><circle cx="488.64" cy="252" r="0.69" opacity="0.94"/><circle cx="490.28" cy="247.14" r="0.53" opacity="0.71"/><circle cx="474.02" cy="239.61" r="0.79" opacity="0.59"/><circle cx="482.33" cy="220.83" r="0.7" opacity="0.84"/><circle cx="467.29" cy="261.58" r="0.97" opacity="0.89"/><circle cx="471.11" cy="254.28" r="0.81" opacity="0.68"/><circle cx="462.75" cy="262.87" r="0.83" opacity="0.59"/><circle cx="461.46" cy="223.92" r="0.92" opacity="0.88"/><circle cx="468.24" cy="221.8" r="0.99" opacity="0.67"/><circle cx="484.43" cy="257.47" r="0.51" opacity="0.69"/><circle cx="457.32" cy="234.2" r="0.87" opacity="0.68"/><circle cx="470.96" cy="256.1" r="0.94" opacity="0.75"/><circle cx="455.89" cy="240.04" r="0.66" opacity="0.68"/><circle cx="489.9" cy="250.08" r="1.04" opacity="0.92"/><circle cx="497.39" cy="238.89" r="1.05" opacity="0.87"/><circle cx="486.93" cy="256.66" r="1.1" opacity="0.86"/><circle cx="470.85" cy="229.57" r="1.06" opacity="0.81"/><circle cx="455.8" cy="256.68" r="0.8" opacity="0.62"/><circle cx="485.6" cy="257.48" r="1.04" opacity="0.62"/><circle cx="470.5" cy="246.01" r="0.51" opacity="0.77"/><circle cx="472.78" cy="265.55" r="0.86" opacity="0.76"/><circle cx="492.32" cy="252.51" r="0.87" opacity="0.62"/><circle cx="489.19" cy="226.45" r="1" opacity="0.83"/><circle cx="471.14" cy="261.12" r="1.01" opacity="0.91"/><circle cx="459.4" cy="251.1" r="1.06" opacity="0.87"/><circle cx="471.42" cy="219.79" r="0.62" opacity="0.63"/><circle cx="474.66" cy="226.21" r="0.77" opacity="0.71"/><circle cx="488.42" cy="231.02" r="0.48" opacity="0.89"/><circle cx="453.47" cy="248.95" r="0.9" opacity="0.55"/><circle cx="491.27" cy="258.49" r="0.94" opacity="0.94"/><circle cx="458.04" cy="238.5" r="0.79" opacity="0.77"/><circle cx="481.32" cy="229.44" r="0.86" opacity="0.67"/><circle cx="469.19" cy="260.39" r="0.81" opacity="0.94"/><circle cx="487.29" cy="263.39" r="0.93" opacity="0.78"/><circle cx="459.47" cy="260.08" r="1.03" opacity="0.82"/><circle cx="492.54" cy="230.25" r="0.7" opacity="0.74"/><circle cx="480.84" cy="223.53" r="0.76" opacity="0.68"/><circle cx="453.81" cy="249.19" r="0.72" opacity="0.56"/><circle cx="484.23" cy="260.53" r="0.83" opacity="0.66"/><circle cx="496.26" cy="242.9" r="0.93" opacity="0.83"/><circle cx="459.9" cy="249.9" r="0.92" opacity="0.75"/><circle cx="482.05" cy="241.92" r="0.53" opacity="0.94"/><circle cx="477.93" cy="265.51" r="0.76" opacity="0.93"/><circle cx="457.56" cy="256.02" r="0.51" opacity="0.79"/><circle cx="492.32" cy="242.74" r="0.68" opacity="0.93"/><circle cx="495.7" cy="239.2" r="0.72" opacity="0.82"/><circle cx="491.44" cy="258.38" r="0.76" opacity="0.87"/><circle cx="487.22" cy="228.01" r="0.51" opacity="0.71"/><circle cx="464.59" cy="224.63" r="1.04" opacity="0.6"/><circle cx="488.28" cy="225.83" r="1.04" opacity="0.63"/><circle cx="452.86" cy="240.3" r="1.09" opacity="0.67"/><circle cx="457.53" cy="244.03" r="0.59" opacity="0.85"/><circle cx="473.86" cy="245.07" r="1.09" opacity="0.81"/><circle cx="485.95" cy="237.69" r="0.8" opacity="0.73"/><circle cx="475.7" cy="231.89" r="0.63" opacity="0.83"/><circle cx="455.65" cy="255.2" r="0.81" opacity="0.79"/><circle cx="492.92" cy="238.61" r="0.55" opacity="0.72"/><circle cx="472.72" cy="255.23" r="0.59" opacity="0.7"/><circle cx="456.87" cy="246.59" r="0.57" opacity="0.9"/><circle cx="473.04" cy="237.83" r="0.66" opacity="0.83"/></g>
<circle cx="475" cy="243.2" r="23" fill="none" stroke="#888" stroke-width="0.6" opacity="0.7"/>
<circle cx="475" cy="243.2" r="24.2" fill="none" stroke="#e6e6e6" stroke-width="1.3" opacity="0.6"/>
<circle cx="475" cy="243.2" r="25.6" fill="none" stroke="#222" stroke-width="1.3"/>
<circle cx="475" cy="296" r="26.2" fill="#d1d1d1"/>
<circle cx="475" cy="296" r="26.2" fill="url(#dishshade)"/>
<circle cx="475" cy="296" r="25.7" fill="#000" opacity="0.12" filter="url(#dishtex2)"/>
<g fill="#9a9a9a" filter="url(#soft05)"><ellipse cx="458.41" cy="301.12" rx="2.89" ry="2.27" transform="rotate(130 458.41 301.12)" opacity="0.74"/><ellipse cx="482.67" cy="315.34" rx="2.21" ry="1.87" transform="rotate(47 482.67 315.34)" opacity="0.44"/><ellipse cx="472.7" cy="302.6" rx="2.71" ry="2.38" transform="rotate(10 472.7 302.6)" opacity="0.64"/></g>
<g fill="#2a2a2a"><circle cx="458.95" cy="308.26" r="0.87" opacity="0.8"/><circle cx="486.56" cy="275.5" r="1.02" opacity="0.79"/><circle cx="478.67" cy="275.43" r="0.58" opacity="0.64"/><circle cx="468.62" cy="318.41" r="0.88" opacity="0.71"/><circle cx="468.52" cy="293.84" r="0.62" opacity="0.85"/><circle cx="454.04" cy="294.3" r="0.52" opacity="0.59"/><circle cx="469" cy="318.84" r="0.9" opacity="0.64"/><circle cx="494.66" cy="286.3" r="0.91" opacity="0.72"/><circle cx="456.25" cy="287.71" r="0.67" opacity="0.67"/><circle cx="494.24" cy="297.84" r="0.54" opacity="0.83"/><circle cx="496.34" cy="297.47" r="0.89" opacity="0.63"/><circle cx="454.24" cy="294.84" r="0.72" opacity="0.7"/><circle cx="474.59" cy="296.32" r="1.01" opacity="0.94"/><circle cx="472.23" cy="294.17" r="0.57" opacity="0.95"/><circle cx="471.1" cy="293.09" r="0.55" opacity="0.73"/><circle cx="496.56" cy="297.3" r="0.7" opacity="0.58"/><circle cx="475.76" cy="298.85" r="0.69" opacity="0.8"/><circle cx="490.07" cy="311.5" r="0.54" opacity="0.7"/><circle cx="459.23" cy="279.78" r="0.85" opacity="0.84"/><circle cx="484.59" cy="310.8" r="0.9" opacity="0.71"/><circle cx="451.67" cy="298.57" r="0.52" opacity="0.75"/><circle cx="474.52" cy="310.82" r="0.72" opacity="0.91"/><circle cx="452.19" cy="297.29" r="1.09" opacity="0.6"/><circle cx="456.56" cy="298.41" r="0.5" opacity="0.63"/><circle cx="480.36" cy="292.83" r="0.72" opacity="0.65"/><circle cx="495.28" cy="302.11" r="1.08" opacity="0.59"/><circle cx="489.28" cy="312.91" r="0.93" opacity="0.76"/><circle cx="496.52" cy="288.53" r="0.76" opacity="0.69"/><circle cx="467.1" cy="315.31" r="0.5" opacity="0.58"/><circle cx="466.26" cy="317.66" r="0.74" opacity="0.7"/><circle cx="494.56" cy="301.61" r="0.53" opacity="0.94"/><circle cx="463.32" cy="314" r="0.5" opacity="0.89"/><circle cx="495.03" cy="288.68" r="0.46" opacity="0.81"/><circle cx="458.06" cy="312.08" r="0.51" opacity="0.6"/><circle cx="474" cy="318.11" r="1.06" opacity="0.83"/></g>
<circle cx="475" cy="296" r="23" fill="none" stroke="#888" stroke-width="0.6" opacity="0.7"/>
<circle cx="475" cy="296" r="24.2" fill="none" stroke="#e6e6e6" stroke-width="1.3" opacity="0.6"/>
<circle cx="475" cy="296" r="25.6" fill="none" stroke="#222" stroke-width="1.3"/>
<circle cx="528.5" cy="243.2" r="26.2" fill="#cdcdcd"/>
<circle cx="528.5" cy="243.2" r="26.2" fill="url(#dishshade)"/>
<circle cx="528.5" cy="243.2" r="25.7" fill="#000" opacity="0.15" filter="url(#dishtex2)"/>
<g fill="#8a8a8a" filter="url(#soft05)"><ellipse cx="550.23" cy="237.04" rx="1.61" ry="1.02" transform="rotate(43 550.23 237.04)" opacity="0.69"/><ellipse cx="522.28" cy="231.93" rx="2.65" ry="2.23" transform="rotate(148 522.28 231.93)" opacity="0.67"/><ellipse cx="547.04" cy="243.17" rx="3.03" ry="2.86" transform="rotate(130 547.04 243.17)" opacity="0.78"/><ellipse cx="513.62" cy="238.96" rx="2.01" ry="1.23" transform="rotate(7 513.62 238.96)" opacity="0.55"/><ellipse cx="548.61" cy="234.02" rx="2.3" ry="2.2" transform="rotate(42 548.61 234.02)" opacity="0.62"/><ellipse cx="528.81" cy="246.77" rx="2.12" ry="1.39" transform="rotate(130 528.81 246.77)" opacity="0.54"/><ellipse cx="511.21" cy="241.7" rx="3.39" ry="2.64" transform="rotate(106 511.21 241.7)" opacity="0.69"/><ellipse cx="545.37" cy="231.98" rx="3" ry="2.22" transform="rotate(114 545.37 231.98)" opacity="0.46"/><ellipse cx="528.99" cy="223.59" rx="2.38" ry="1.93" transform="rotate(125 528.99 223.59)" opacity="0.51"/><ellipse cx="511.85" cy="243.4" rx="3.01" ry="2.61" transform="rotate(116 511.85 243.4)" opacity="0.76"/><ellipse cx="511.54" cy="247.44" rx="3.25" ry="2.89" transform="rotate(124 511.54 247.44)" opacity="0.66"/><ellipse cx="548" cy="235.56" rx="3.09" ry="2.93" transform="rotate(157 548 235.56)" opacity="0.51"/><ellipse cx="539.46" cy="236.38" rx="3.32" ry="2.93" transform="rotate(129 539.46 236.38)" opacity="0.62"/><ellipse cx="510.31" cy="242.36" rx="2.27" ry="2.03" transform="rotate(125 510.31 242.36)" opacity="0.6"/><ellipse cx="545.27" cy="235.84" rx="1.64" ry="1.53" transform="rotate(2 545.27 235.84)" opacity="0.76"/><ellipse cx="535.71" cy="261.88" rx="1.61" ry="1.39" transform="rotate(69 535.71 261.88)" opacity="0.64"/><ellipse cx="519.36" cy="222.97" rx="2.93" ry="1.92" transform="rotate(68 519.36 222.97)" opacity="0.5"/><ellipse cx="533.85" cy="264.3" rx="2.3" ry="2.04" transform="rotate(8 533.85 264.3)" opacity="0.42"/><ellipse cx="521.1" cy="252.12" rx="1.54" ry="1" transform="rotate(17 521.1 252.12)" opacity="0.41"/><ellipse cx="528.07" cy="239.85" rx="1.99" ry="1.84" transform="rotate(40 528.07 239.85)" opacity="0.69"/><ellipse cx="527.49" cy="243.05" rx="2.62" ry="2.4" transform="rotate(63 527.49 243.05)" opacity="0.46"/><ellipse cx="541.76" cy="246.27" rx="2.67" ry="2.39" transform="rotate(28 541.76 246.27)" opacity="0.51"/><ellipse cx="515.65" cy="244.11" rx="2.55" ry="2.15" transform="rotate(11 515.65 244.11)" opacity="0.76"/><ellipse cx="529.27" cy="221.67" rx="2.84" ry="2.24" transform="rotate(57 529.27 221.67)" opacity="0.44"/><ellipse cx="520.36" cy="223.58" rx="1.55" ry="1.42" transform="rotate(32 520.36 223.58)" opacity="0.61"/><ellipse cx="531.64" cy="227.32" rx="2.12" ry="2.02" transform="rotate(87 531.64 227.32)" opacity="0.5"/><ellipse cx="516.69" cy="233.91" rx="1.53" ry="1.26" transform="rotate(35 516.69 233.91)" opacity="0.67"/><ellipse cx="528.34" cy="251.62" rx="1.82" ry="1.43" transform="rotate(59 528.34 251.62)" opacity="0.6"/><ellipse cx="550.8" cy="240.87" rx="3.39" ry="2.35" transform="rotate(113 550.8 240.87)" opacity="0.43"/><ellipse cx="538.2" cy="248.57" rx="3" ry="2.55" transform="rotate(92 538.2 248.57)" opacity="0.5"/><ellipse cx="513.6" cy="251.03" rx="1.51" ry="0.93" transform="rotate(104 513.6 251.03)" opacity="0.46"/><ellipse cx="521.64" cy="242.68" rx="1.69" ry="1.03" transform="rotate(59 521.64 242.68)" opacity="0.44"/><ellipse cx="547.26" cy="246.1" rx="2.36" ry="1.92" transform="rotate(97 547.26 246.1)" opacity="0.48"/><ellipse cx="547.46" cy="230.59" rx="2.88" ry="2.23" transform="rotate(130 547.46 230.59)" opacity="0.41"/><ellipse cx="510.21" cy="231.37" rx="3.26" ry="2.72" transform="rotate(24 510.21 231.37)" opacity="0.67"/><ellipse cx="525.29" cy="243.61" rx="3.33" ry="2.15" transform="rotate(93 525.29 243.61)" opacity="0.52"/><ellipse cx="542.58" cy="241.74" rx="1.54" ry="1.34" transform="rotate(25 542.58 241.74)" opacity="0.44"/><ellipse cx="535.01" cy="262.56" rx="3.07" ry="2.84" transform="rotate(15 535.01 262.56)" opacity="0.56"/><ellipse cx="517.95" cy="244.14" rx="2.62" ry="1.65" transform="rotate(72 517.95 244.14)" opacity="0.41"/><ellipse cx="521.72" cy="261.73" rx="1.92" ry="1.53" transform="rotate(29 521.72 261.73)" opacity="0.63"/></g>
<g fill="#2a2a2a"><circle cx="512.5" cy="256.14" r="0.71" opacity="0.6"/><circle cx="542.69" cy="256.82" r="0.87" opacity="0.93"/><circle cx="521.25" cy="223.95" r="0.96" opacity="0.84"/><circle cx="506.97" cy="243.48" r="0.97" opacity="0.66"/><circle cx="505.66" cy="239.39" r="0.97" opacity="0.92"/><circle cx="540.13" cy="223.82" r="0.77" opacity="0.65"/><circle cx="508.09" cy="253.17" r="0.83" opacity="0.88"/><circle cx="544.13" cy="253.96" r="0.55" opacity="0.72"/><circle cx="546.26" cy="251.13" r="1.09" opacity="0.81"/><circle cx="544.13" cy="259.53" r="0.89" opacity="0.82"/><circle cx="521.14" cy="246.17" r="0.8" opacity="0.93"/><circle cx="529.27" cy="221.96" r="0.91" opacity="0.65"/><circle cx="544.2" cy="231.01" r="0.71" opacity="0.95"/><circle cx="530.35" cy="234.37" r="0.74" opacity="0.56"/><circle cx="520.18" cy="237.53" r="0.78" opacity="0.74"/><circle cx="509.54" cy="256.1" r="0.91" opacity="0.74"/><circle cx="548.09" cy="238.43" r="0.88" opacity="0.85"/><circle cx="540.92" cy="226.57" r="0.71" opacity="0.82"/><circle cx="531.03" cy="242.84" r="0.75" opacity="0.83"/><circle cx="544.4" cy="228.86" r="0.46" opacity="0.93"/><circle cx="525.6" cy="220.84" r="1.03" opacity="0.59"/><circle cx="532.74" cy="233.5" r="0.93" opacity="0.78"/><circle cx="531.66" cy="251.41" r="0.85" opacity="0.72"/><circle cx="528.12" cy="259.39" r="0.58" opacity="0.94"/><circle cx="547.7" cy="252.65" r="0.99" opacity="0.81"/><circle cx="529.07" cy="223.74" r="0.67" opacity="0.66"/><circle cx="505.18" cy="242.77" r="0.94" opacity="0.62"/><circle cx="528.52" cy="228.13" r="0.89" opacity="0.86"/><circle cx="543.56" cy="225.91" r="0.7" opacity="0.74"/><circle cx="522.65" cy="263.43" r="1.08" opacity="0.7"/><circle cx="507.51" cy="238.09" r="1.02" opacity="0.67"/><circle cx="518.19" cy="229.19" r="1.04" opacity="0.58"/><circle cx="537.8" cy="224.78" r="0.97" opacity="0.81"/><circle cx="522.85" cy="247.7" r="0.86" opacity="0.71"/><circle cx="507.72" cy="239.17" r="0.86" opacity="0.67"/><circle cx="529.72" cy="254.55" r="0.63" opacity="0.93"/><circle cx="539.63" cy="252.64" r="0.69" opacity="0.68"/><circle cx="537.05" cy="247.72" r="0.74" opacity="0.67"/><circle cx="540.92" cy="233.51" r="0.87" opacity="0.92"/><circle cx="518.1" cy="263.23" r="0.57" opacity="0.82"/><circle cx="514.51" cy="257.4" r="0.6" opacity="0.87"/><circle cx="514.07" cy="227.26" r="0.67" opacity="0.9"/><circle cx="546.09" cy="234.36" r="1.07" opacity="0.85"/><circle cx="528.65" cy="220.28" r="0.94" opacity="0.94"/><circle cx="523.48" cy="261.95" r="0.69" opacity="0.71"/><circle cx="534.92" cy="255.76" r="0.76" opacity="0.91"/><circle cx="531.78" cy="250.98" r="0.47" opacity="0.69"/><circle cx="514.39" cy="260.43" r="0.95" opacity="0.72"/><circle cx="509.46" cy="237.97" r="0.7" opacity="0.66"/><circle cx="514.11" cy="226.29" r="1.05" opacity="0.59"/><circle cx="542.61" cy="260.74" r="0.72" opacity="0.65"/><circle cx="516.09" cy="262.04" r="0.85" opacity="0.68"/><circle cx="524.4" cy="247.42" r="0.54" opacity="0.89"/><circle cx="520.69" cy="246.89" r="0.79" opacity="0.89"/><circle cx="518.77" cy="258.95" r="0.71" opacity="0.95"/><circle cx="513.96" cy="254.88" r="0.66" opacity="0.89"/><circle cx="514.27" cy="233.2" r="1.09" opacity="0.95"/><circle cx="536.71" cy="230.4" r="0.79" opacity="0.57"/><circle cx="535.1" cy="248.54" r="1.06" opacity="0.82"/><circle cx="547.66" cy="231.88" r="0.97" opacity="0.55"/><circle cx="546.49" cy="257.33" r="0.55" opacity="0.82"/><circle cx="544.5" cy="253.63" r="0.48" opacity="0.91"/><circle cx="529.44" cy="260.89" r="0.54" opacity="0.75"/><circle cx="546.47" cy="250.36" r="0.98" opacity="0.76"/><circle cx="524.82" cy="235.13" r="0.77" opacity="0.6"/><circle cx="545.38" cy="258.37" r="0.48" opacity="0.64"/><circle cx="512.57" cy="258.32" r="1.04" opacity="0.84"/><circle cx="518.94" cy="242.77" r="0.52" opacity="0.88"/><circle cx="513.22" cy="227.5" r="0.64" opacity="0.72"/><circle cx="510.6" cy="251.94" r="0.98" opacity="0.77"/><circle cx="508.72" cy="246.62" r="1.09" opacity="0.64"/><circle cx="522.91" cy="224.8" r="0.47" opacity="0.77"/><circle cx="534.72" cy="263.21" r="0.87" opacity="0.8"/><circle cx="527.7" cy="226.88" r="0.48" opacity="0.86"/><circle cx="536.62" cy="226.77" r="0.47" opacity="0.63"/><circle cx="542.09" cy="254.2" r="0.57" opacity="0.93"/><circle cx="544.49" cy="240.97" r="0.64" opacity="0.63"/><circle cx="534.1" cy="232.05" r="1.04" opacity="0.78"/><circle cx="511.34" cy="253.69" r="0.75" opacity="0.81"/><circle cx="537.41" cy="251.78" r="1.04" opacity="0.64"/><circle cx="521.09" cy="256.06" r="0.79" opacity="0.92"/><circle cx="534.46" cy="262.01" r="0.96" opacity="0.73"/><circle cx="507.91" cy="249.25" r="0.62" opacity="0.63"/><circle cx="507.27" cy="246.41" r="0.82" opacity="0.67"/><circle cx="539.04" cy="262.49" r="0.59" opacity="0.8"/><circle cx="517.88" cy="226.76" r="0.65" opacity="0.63"/><circle cx="540.77" cy="222.99" r="1.02" opacity="0.63"/><circle cx="519.82" cy="263.94" r="0.92" opacity="0.69"/><circle cx="508.35" cy="251.09" r="0.46" opacity="0.78"/><circle cx="542.58" cy="258.54" r="0.69" opacity="0.58"/><circle cx="512.31" cy="233.18" r="0.77" opacity="0.87"/><circle cx="547.74" cy="231.96" r="1.08" opacity="0.92"/><circle cx="534.96" cy="264.4" r="0.83" opacity="0.83"/><circle cx="506.07" cy="239.79" r="0.49" opacity="0.82"/><circle cx="538.07" cy="254.52" r="0.73" opacity="0.94"/><circle cx="517.14" cy="252.38" r="0.59" opacity="0.64"/><circle cx="521.52" cy="241.75" r="1.06" opacity="0.82"/><circle cx="542.67" cy="248.18" r="0.78" opacity="0.59"/><circle cx="507.58" cy="241.85" r="0.83" opacity="0.83"/><circle cx="526.21" cy="219.73" r="0.76" opacity="0.6"/><circle cx="541.8" cy="259.65" r="0.85" opacity="0.81"/><circle cx="548.2" cy="235.78" r="0.51" opacity="0.82"/><circle cx="507.97" cy="251.72" r="0.88" opacity="0.74"/><circle cx="549.25" cy="235.64" r="1.05" opacity="0.79"/><circle cx="539.68" cy="252.1" r="1.07" opacity="0.8"/><circle cx="534.22" cy="227.28" r="1.08" opacity="0.56"/><circle cx="527.34" cy="245.01" r="0.89" opacity="0.95"/><circle cx="527.08" cy="236.79" r="0.8" opacity="0.79"/><circle cx="509.13" cy="251.5" r="0.56" opacity="0.57"/><circle cx="510.53" cy="231.3" r="0.89" opacity="0.67"/><circle cx="547.08" cy="230.46" r="0.96" opacity="0.91"/><circle cx="522.03" cy="247.72" r="0.84" opacity="0.58"/><circle cx="530.97" cy="266.74" r="0.71" opacity="0.75"/><circle cx="527.45" cy="248.52" r="0.79" opacity="0.76"/><circle cx="521.58" cy="248.02" r="0.73" opacity="0.73"/><circle cx="516" cy="256.05" r="0.79" opacity="0.73"/><circle cx="508.93" cy="251.31" r="0.87" opacity="0.61"/><circle cx="510.24" cy="230.87" r="0.46" opacity="0.83"/><circle cx="546.21" cy="240.67" r="0.61" opacity="0.73"/><circle cx="516.5" cy="245.93" r="0.59" opacity="0.85"/></g>
<circle cx="528.5" cy="243.2" r="23" fill="none" stroke="#888" stroke-width="0.6" opacity="0.7"/>
<circle cx="528.5" cy="243.2" r="24.2" fill="none" stroke="#e6e6e6" stroke-width="1.3" opacity="0.6"/>
<circle cx="528.5" cy="243.2" r="25.6" fill="none" stroke="#222" stroke-width="1.3"/>
<circle cx="528.5" cy="296" r="26.2" fill="#c4c4c4"/>
<circle cx="528.5" cy="296" r="26.2" fill="url(#dishshade)"/>
<circle cx="528.5" cy="296" r="25.7" fill="#000" opacity="0.15" filter="url(#dishtex0)"/>
<g fill="#9a9a9a" filter="url(#soft05)"><ellipse cx="509.93" cy="298.99" rx="2.5" ry="1.64" transform="rotate(2 509.93 298.99)" opacity="0.8"/><ellipse cx="510" cy="298.04" rx="2.19" ry="2.07" transform="rotate(58 510 298.04)" opacity="0.62"/></g>
<g fill="#2a2a2a"><circle cx="517.07" cy="277.66" r="0.56" opacity="0.91"/><circle cx="534.54" cy="298.34" r="0.9" opacity="0.68"/><circle cx="525.83" cy="297.82" r="0.49" opacity="0.92"/><circle cx="509.51" cy="294.93" r="1.07" opacity="0.6"/><circle cx="508.82" cy="306.31" r="0.85" opacity="0.62"/><circle cx="521" cy="274.38" r="0.98" opacity="0.71"/><circle cx="514.22" cy="303.99" r="0.7" opacity="0.56"/><circle cx="525.03" cy="272.84" r="0.88" opacity="0.69"/><circle cx="515.81" cy="310.74" r="0.52" opacity="0.64"/><circle cx="514.56" cy="312.15" r="0.78" opacity="0.56"/><circle cx="537.85" cy="276.93" r="0.59" opacity="0.72"/><circle cx="522.7" cy="300.9" r="0.81" opacity="0.62"/><circle cx="521.03" cy="274.89" r="0.67" opacity="0.8"/><circle cx="550.01" cy="303.3" r="0.63" opacity="0.74"/><circle cx="547.03" cy="291.09" r="0.56" opacity="0.92"/></g>
<circle cx="528.5" cy="296" r="23" fill="none" stroke="#888" stroke-width="0.6" opacity="0.7"/>
<circle cx="528.5" cy="296" r="24.2" fill="none" stroke="#e6e6e6" stroke-width="1.3" opacity="0.6"/>
<circle cx="528.5" cy="296" r="25.6" fill="none" stroke="#222" stroke-width="1.3"/>
<circle cx="582" cy="243.2" r="26.2" fill="#cfcfcf"/>
<circle cx="582" cy="243.2" r="26.2" fill="url(#dishshade)"/>
<circle cx="582" cy="243.2" r="25.7" fill="#000" opacity="0.15" filter="url(#dishtex0)"/>
<g fill="#9c9c9c" filter="url(#soft05)"><ellipse cx="583.29" cy="260.27" rx="2.81" ry="2.37" transform="rotate(160 583.29 260.27)" opacity="0.63"/><ellipse cx="564.58" cy="229.58" rx="3.03" ry="2.49" transform="rotate(49 564.58 229.58)" opacity="0.8"/><ellipse cx="561.15" cy="247.14" rx="3.05" ry="2.61" transform="rotate(38 561.15 247.14)" opacity="0.49"/><ellipse cx="594.94" cy="261.39" rx="2.86" ry="1.73" transform="rotate(16 594.94 261.39)" opacity="0.46"/><ellipse cx="586.63" cy="241.93" rx="3.72" ry="3.45" transform="rotate(68 586.63 241.93)" opacity="0.59"/><ellipse cx="577.77" cy="221.87" rx="3.57" ry="3.46" transform="rotate(101 577.77 221.87)" opacity="0.69"/><ellipse cx="561.83" cy="232.62" rx="2.3" ry="1.71" transform="rotate(9 561.83 232.62)" opacity="0.45"/><ellipse cx="586.69" cy="265.51" rx="2.96" ry="2.52" transform="rotate(77 586.69 265.51)" opacity="0.57"/><ellipse cx="590.8" cy="227.99" rx="3.18" ry="2.42" transform="rotate(59 590.8 227.99)" opacity="0.76"/><ellipse cx="572.73" cy="222.85" rx="3.88" ry="3.87" transform="rotate(171 572.73 222.85)" opacity="0.68"/><ellipse cx="577.79" cy="230.63" rx="3.19" ry="2.65" transform="rotate(26 577.79 230.63)" opacity="0.69"/><ellipse cx="587.12" cy="263.73" rx="3.26" ry="2.33" transform="rotate(16 587.12 263.73)" opacity="0.59"/><ellipse cx="571.62" cy="230.85" rx="2.76" ry="1.73" transform="rotate(38 571.62 230.85)" opacity="0.41"/><ellipse cx="568.59" cy="249.81" rx="2.26" ry="1.9" transform="rotate(11 568.59 249.81)" opacity="0.55"/><ellipse cx="567.26" cy="234.31" rx="4.03" ry="2.87" transform="rotate(60 567.26 234.31)" opacity="0.8"/><ellipse cx="579.64" cy="249.19" rx="3.32" ry="2.03" transform="rotate(50 579.64 249.19)" opacity="0.79"/><ellipse cx="578.92" cy="254.7" rx="3.52" ry="3.49" transform="rotate(86 578.92 254.7)" opacity="0.53"/><ellipse cx="603.23" cy="237.56" rx="2.83" ry="2.22" transform="rotate(133 603.23 237.56)" opacity="0.55"/><ellipse cx="594.83" cy="228.99" rx="2.23" ry="2.2" transform="rotate(129 594.83 228.99)" opacity="0.51"/><ellipse cx="568.96" cy="228.54" rx="4.06" ry="3.15" transform="rotate(66 568.96 228.54)" opacity="0.61"/><ellipse cx="579.63" cy="242.46" rx="2.91" ry="2.42" transform="rotate(5 579.63 242.46)" opacity="0.55"/><ellipse cx="574.83" cy="238.7" rx="3.39" ry="2.49" transform="rotate(90 574.83 238.7)" opacity="0.67"/><ellipse cx="570.28" cy="258.79" rx="3.62" ry="2.21" transform="rotate(15 570.28 258.79)" opacity="0.78"/><ellipse cx="595.97" cy="245.08" rx="3.38" ry="2.43" transform="rotate(153 595.97 245.08)" opacity="0.53"/><ellipse cx="573.49" cy="252.99" rx="2.81" ry="2.36" transform="rotate(76 573.49 252.99)" opacity="0.71"/><ellipse cx="598.54" cy="256.01" rx="4.14" ry="3.61" transform="rotate(33 598.54 256.01)" opacity="0.52"/><ellipse cx="585.57" cy="263.69" rx="2.53" ry="1.7" transform="rotate(111 585.57 263.69)" opacity="0.66"/><ellipse cx="596.74" cy="253.5" rx="4.09" ry="3.56" transform="rotate(57 596.74 253.5)" opacity="0.58"/></g>
<g fill="#2a2a2a"><circle cx="595.61" cy="225.78" r="0.87" opacity="0.9"/><circle cx="559.96" cy="250.19" r="0.79" opacity="0.63"/><circle cx="585.55" cy="233.68" r="0.63" opacity="0.87"/><circle cx="573.25" cy="232.36" r="0.53" opacity="0.67"/><circle cx="588" cy="221.97" r="0.72" opacity="0.72"/><circle cx="574.11" cy="248.24" r="0.45" opacity="0.93"/><circle cx="593.38" cy="232.51" r="1.07" opacity="0.92"/><circle cx="585.78" cy="264.55" r="0.88" opacity="0.76"/><circle cx="576.51" cy="265.14" r="0.49" opacity="0.79"/><circle cx="580.84" cy="248.1" r="1.04" opacity="0.83"/><circle cx="601.96" cy="232.85" r="0.83" opacity="0.56"/><circle cx="581.34" cy="220.93" r="0.88" opacity="0.76"/><circle cx="566.11" cy="252.76" r="0.67" opacity="0.65"/><circle cx="595.53" cy="227.19" r="0.68" opacity="0.63"/><circle cx="572.42" cy="241.08" r="0.96" opacity="0.92"/><circle cx="582.71" cy="241.27" r="0.86" opacity="0.9"/><circle cx="603.33" cy="250.12" r="0.79" opacity="0.72"/><circle cx="581.01" cy="243.37" r="0.49" opacity="0.6"/><circle cx="595.52" cy="256.66" r="1.01" opacity="0.58"/><circle cx="559.79" cy="242.9" r="0.68" opacity="0.81"/><circle cx="562.5" cy="231.4" r="0.66" opacity="0.6"/><circle cx="568.27" cy="238.2" r="0.5" opacity="0.62"/><circle cx="567.34" cy="258.19" r="0.7" opacity="0.87"/><circle cx="571.64" cy="233.11" r="0.77" opacity="0.83"/><circle cx="567.88" cy="250.91" r="0.61" opacity="0.76"/><circle cx="574.68" cy="222.79" r="0.73" opacity="0.9"/><circle cx="599.92" cy="235.64" r="0.96" opacity="0.65"/><circle cx="562.66" cy="247.63" r="0.88" opacity="0.9"/><circle cx="587.35" cy="223.62" r="0.82" opacity="0.59"/><circle cx="562.39" cy="231.14" r="0.95" opacity="0.57"/><circle cx="598.37" cy="253.85" r="0.57" opacity="0.56"/><circle cx="592.72" cy="226.67" r="0.89" opacity="0.88"/><circle cx="602.24" cy="236.96" r="0.47" opacity="0.86"/><circle cx="574.28" cy="242.65" r="0.94" opacity="0.92"/><circle cx="601.49" cy="251.08" r="0.99" opacity="0.65"/><circle cx="590.87" cy="261.99" r="0.94" opacity="0.71"/><circle cx="567.17" cy="259.5" r="0.72" opacity="0.58"/><circle cx="566.77" cy="243.17" r="0.94" opacity="0.61"/><circle cx="574.93" cy="225.07" r="0.79" opacity="0.74"/><circle cx="576.29" cy="236.04" r="0.51" opacity="0.85"/><circle cx="595.66" cy="235.31" r="0.92" opacity="0.62"/><circle cx="579.72" cy="264" r="0.65" opacity="0.64"/><circle cx="577.34" cy="231.18" r="0.91" opacity="0.72"/><circle cx="589.43" cy="233.46" r="0.59" opacity="0.56"/><circle cx="559.31" cy="246.14" r="0.68" opacity="0.68"/><circle cx="584.88" cy="224.42" r="0.76" opacity="0.79"/><circle cx="560.95" cy="247.48" r="0.81" opacity="0.74"/><circle cx="579.26" cy="228.46" r="0.93" opacity="0.93"/><circle cx="559.89" cy="247.79" r="0.92" opacity="0.82"/><circle cx="593.27" cy="240.21" r="0.57" opacity="0.65"/><circle cx="590.44" cy="263.47" r="1.03" opacity="0.65"/><circle cx="596.36" cy="226.94" r="0.92" opacity="0.58"/><circle cx="592.69" cy="250.24" r="0.68" opacity="0.78"/><circle cx="572.02" cy="223.47" r="0.73" opacity="0.74"/><circle cx="587.75" cy="265.64" r="0.7" opacity="0.77"/><circle cx="597.05" cy="257.19" r="0.52" opacity="0.9"/><circle cx="598.16" cy="232.77" r="0.69" opacity="0.86"/><circle cx="582.94" cy="222.73" r="0.88" opacity="0.87"/><circle cx="579.73" cy="266.33" r="0.89" opacity="0.76"/><circle cx="592.65" cy="252.39" r="0.92" opacity="0.82"/></g>
<circle cx="582" cy="243.2" r="23" fill="none" stroke="#888" stroke-width="0.6" opacity="0.7"/>
<circle cx="582" cy="243.2" r="24.2" fill="none" stroke="#e6e6e6" stroke-width="1.3" opacity="0.6"/>
<circle cx="582" cy="243.2" r="25.6" fill="none" stroke="#222" stroke-width="1.3"/>
<circle cx="582" cy="296" r="26.2" fill="#dcdcdc"/>
<circle cx="582" cy="296" r="26.2" fill="url(#dishshade)"/>
<circle cx="582" cy="296" r="25.7" fill="#000" opacity="0.07" filter="url(#dishtex1)"/>
<g fill="#2a2a2a"><circle cx="580.89" cy="315.57" r="1" opacity="0.62"/><circle cx="584.76" cy="318.46" r="0.93" opacity="0.6"/></g>
<circle cx="582" cy="296" r="23" fill="none" stroke="#888" stroke-width="0.6" opacity="0.7"/>
<circle cx="582" cy="296" r="24.2" fill="none" stroke="#e6e6e6" stroke-width="1.3" opacity="0.6"/>
<circle cx="582" cy="296" r="25.6" fill="none" stroke="#222" stroke-width="1.3"/>
<circle cx="635.5" cy="243.2" r="26.2" fill="#d3d3d3"/>
<circle cx="635.5" cy="243.2" r="26.2" fill="url(#dishshade)"/>
<circle cx="635.5" cy="243.2" r="25.7" fill="#000" opacity="0.12" filter="url(#dishtex1)"/>
<g fill="#aaaaaa" filter="url(#soft05)"><ellipse cx="636.15" cy="250.62" rx="2.79" ry="1.85" transform="rotate(17 636.15 250.62)" opacity="0.41"/><ellipse cx="623.62" cy="239.39" rx="3.98" ry="2.48" transform="rotate(133 623.62 239.39)" opacity="0.61"/><ellipse cx="633.89" cy="252.71" rx="2.21" ry="1.52" transform="rotate(6 633.89 252.71)" opacity="0.73"/><ellipse cx="642.73" cy="223.74" rx="2.39" ry="1.73" transform="rotate(160 642.73 223.74)" opacity="0.75"/><ellipse cx="656.23" cy="238.01" rx="2.74" ry="2.57" transform="rotate(86 656.23 238.01)" opacity="0.67"/><ellipse cx="625.72" cy="242.83" rx="2.95" ry="1.87" transform="rotate(140 625.72 242.83)" opacity="0.74"/></g>
<g fill="#2a2a2a"><circle cx="655.84" cy="244.12" r="0.65" opacity="0.86"/><circle cx="639.8" cy="255.17" r="0.74" opacity="0.64"/><circle cx="635.09" cy="249.94" r="0.75" opacity="0.95"/><circle cx="615.8" cy="240.85" r="0.54" opacity="0.82"/><circle cx="652.76" cy="250.86" r="0.74" opacity="0.62"/><circle cx="618.13" cy="250.6" r="0.58" opacity="0.68"/><circle cx="642.15" cy="232.64" r="0.83" opacity="0.89"/><circle cx="644.7" cy="252.08" r="0.47" opacity="0.69"/><circle cx="646.5" cy="249.48" r="0.89" opacity="0.68"/><circle cx="625.35" cy="263.81" r="0.87" opacity="0.89"/><circle cx="640.01" cy="238.37" r="0.85" opacity="0.91"/><circle cx="630.06" cy="263.34" r="0.55" opacity="0.78"/><circle cx="626.14" cy="254.04" r="0.97" opacity="0.95"/><circle cx="625.78" cy="238.52" r="1.05" opacity="0.6"/><circle cx="652.41" cy="250.17" r="1.08" opacity="0.79"/><circle cx="622.63" cy="239.35" r="0.47" opacity="0.88"/><circle cx="630.4" cy="261.64" r="0.58" opacity="0.63"/><circle cx="625.22" cy="247.36" r="0.74" opacity="0.81"/><circle cx="614.99" cy="253.19" r="0.47" opacity="0.65"/><circle cx="620.39" cy="240.74" r="0.62" opacity="0.68"/><circle cx="653.43" cy="228.56" r="0.82" opacity="0.94"/><circle cx="624.01" cy="226.74" r="0.48" opacity="0.7"/><circle cx="619.27" cy="250.82" r="1.06" opacity="0.62"/><circle cx="629.06" cy="264.75" r="0.65" opacity="0.72"/><circle cx="640.1" cy="263.91" r="0.67" opacity="0.71"/><circle cx="622.96" cy="243.48" r="0.86" opacity="0.63"/><circle cx="619.12" cy="255.94" r="0.63" opacity="0.89"/><circle cx="646.56" cy="231.43" r="0.76" opacity="0.71"/><circle cx="627.09" cy="250.12" r="0.55" opacity="0.79"/><circle cx="634.58" cy="263.23" r="0.7" opacity="0.64"/><circle cx="644.5" cy="246.34" r="0.85" opacity="0.88"/><circle cx="614.55" cy="234.54" r="0.74" opacity="0.58"/><circle cx="628.43" cy="223.38" r="0.62" opacity="0.86"/><circle cx="654.38" cy="248.22" r="1.04" opacity="0.67"/><circle cx="624.55" cy="258.91" r="0.74" opacity="0.63"/><circle cx="655.39" cy="240.25" r="1.01" opacity="0.71"/><circle cx="654.23" cy="253.07" r="0.69" opacity="0.95"/><circle cx="621.86" cy="251.16" r="0.86" opacity="0.93"/><circle cx="624.81" cy="230.77" r="0.53" opacity="0.77"/><circle cx="621.42" cy="257.89" r="0.66" opacity="0.89"/><circle cx="635.41" cy="244.85" r="0.56" opacity="0.81"/><circle cx="649.98" cy="256.96" r="0.84" opacity="0.76"/><circle cx="622.77" cy="241.53" r="0.6" opacity="0.62"/><circle cx="650.89" cy="225.51" r="1.04" opacity="0.77"/><circle cx="650.53" cy="233.55" r="1.06" opacity="0.75"/><circle cx="621.68" cy="248.6" r="0.61" opacity="0.79"/><circle cx="657.06" cy="241.28" r="0.84" opacity="0.82"/><circle cx="621.65" cy="229.84" r="0.58" opacity="0.87"/><circle cx="632.51" cy="237.34" r="0.87" opacity="0.91"/><circle cx="624.53" cy="263.27" r="1.02" opacity="0.79"/></g>
<circle cx="635.5" cy="243.2" r="23" fill="none" stroke="#888" stroke-width="0.6" opacity="0.7"/>
<circle cx="635.5" cy="243.2" r="24.2" fill="none" stroke="#e6e6e6" stroke-width="1.3" opacity="0.6"/>
<circle cx="635.5" cy="243.2" r="25.6" fill="none" stroke="#222" stroke-width="1.3"/>
<circle cx="635.5" cy="296" r="26.2" fill="#dadada"/>
<circle cx="635.5" cy="296" r="26.2" fill="url(#dishshade)"/>
<circle cx="635.5" cy="296" r="25.7" fill="#000" opacity="0.07" filter="url(#dishtex2)"/>
<g fill="#2a2a2a"><circle cx="650.49" cy="307.9" r="1.06" opacity="0.66"/><circle cx="634.8" cy="315.22" r="0.65" opacity="0.82"/></g>
<circle cx="635.5" cy="296" r="23" fill="none" stroke="#888" stroke-width="0.6" opacity="0.7"/>
<circle cx="635.5" cy="296" r="24.2" fill="none" stroke="#e6e6e6" stroke-width="1.3" opacity="0.6"/>
<circle cx="635.5" cy="296" r="25.6" fill="none" stroke="#222" stroke-width="1.3"/>
<text x="669" y="247.23" font-size="12.2" text-anchor="middle" fill="#000" transform="rotate(-90 669 242.9)">sg-NC</text>
<text x="669" y="301.93" font-size="12.2" text-anchor="middle" fill="#000" transform="rotate(-90 669 297.6)">KO-1</text>
<text x="7" y="339.39" font-size="18" text-anchor="middle" fill="#000">g</text>
<line x1="48.6" y1="345" x2="48.6" y2="458.6" stroke="#000" stroke-width="1.2"/>
<line x1="48.6" y1="458.6" x2="164.7" y2="458.6" stroke="#000" stroke-width="1.2"/>
<line x1="45.6" y1="345.1" x2="48.6" y2="345.1" stroke="#000" stroke-width="1.1"/>
<text x="44.1" y="349.22" font-size="11.6" text-anchor="end" fill="#000">1.2</text>
<line x1="45.6" y1="361.2" x2="48.6" y2="361.2" stroke="#000" stroke-width="1.1"/>
<text x="44.1" y="365.32" font-size="11.6" text-anchor="end" fill="#000">1.0</text>
<line x1="45.6" y1="377.3" x2="48.6" y2="377.3" stroke="#000" stroke-width="1.1"/>
<text x="44.1" y="381.42" font-size="11.6" text-anchor="end" fill="#000">0.8</text>
<line x1="45.6" y1="393.4" x2="48.6" y2="393.4" stroke="#000" stroke-width="1.1"/>
<text x="44.1" y="397.52" font-size="11.6" text-anchor="end" fill="#000">0.6</text>
<line x1="45.6" y1="409.5" x2="48.6" y2="409.5" stroke="#000" stroke-width="1.1"/>
<text x="44.1" y="413.62" font-size="11.6" text-anchor="end" fill="#000">0.4</text>
<line x1="45.6" y1="425.6" x2="48.6" y2="425.6" stroke="#000" stroke-width="1.1"/>
<text x="44.1" y="429.72" font-size="11.6" text-anchor="end" fill="#000">0.2</text>
<line x1="45.6" y1="441.7" x2="48.6" y2="441.7" stroke="#000" stroke-width="1.1"/>
<text x="44.1" y="445.82" font-size="11.6" text-anchor="end" fill="#000">0</text>
<line x1="45.6" y1="457.8" x2="48.6" y2="457.8" stroke="#000" stroke-width="1.1"/>
<text x="44.1" y="461.92" font-size="11.6" text-anchor="end" fill="#000">-0.2</text>
<line x1="49.9" y1="458.6" x2="49.9" y2="461.6" stroke="#000" stroke-width="1.1"/>
<text x="49.9" y="474.59" font-size="11.8" text-anchor="middle" fill="#000">0</text>
<line x1="88.4" y1="458.6" x2="88.4" y2="461.6" stroke="#000" stroke-width="1.1"/>
<text x="88.4" y="474.59" font-size="11.8" text-anchor="middle" fill="#000">0.5</text>
<line x1="126.9" y1="458.6" x2="126.9" y2="461.6" stroke="#000" stroke-width="1.1"/>
<text x="126.9" y="474.59" font-size="11.8" text-anchor="middle" fill="#000">1.0</text>
<line x1="165.4" y1="458.6" x2="165.4" y2="461.6" stroke="#000" stroke-width="1.1"/>
<text x="165.4" y="474.59" font-size="11.8" text-anchor="middle" fill="#000">1.5</text>
<text x="106.4" y="487.8" text-anchor="middle" font-size="12">log<tspan font-size="8.5" dy="2.7">10</tspan><tspan dy="-2.7"> (Ribo, μM)</tspan></text>
<text x="17.9" y="403.19" font-size="11.8" text-anchor="middle" fill="#000" transform="rotate(-90 17.9 399)">Relative colony number</text>
<line x1="86.7" y1="346.3" x2="101.2" y2="346.3" stroke="#7a7a7a" stroke-width="2.5"/>
<text x="106.4" y="350.49" font-size="11.8" text-anchor="start" fill="#000">sg-NC</text>
<line x1="86.7" y1="362" x2="101.2" y2="362" stroke="#7d97cf" stroke-width="2.5"/>
<text x="109" y="366.19" font-size="11.8" text-anchor="start" fill="#000">KO-1</text>
<polyline points="79.93,361.2 80.7,362.72 81.47,364.22 82.24,365.68 83.01,367.12 83.78,368.53 84.55,369.91 85.32,371.27 86.09,372.59 86.86,373.9 87.63,375.18 88.4,376.43 89.17,377.66 89.94,378.87 90.71,380.05 91.48,381.21 92.25,382.34 93.02,383.46 93.79,384.55 94.56,385.63 95.33,386.68 96.1,387.71 96.87,388.72 97.64,389.71 98.41,390.68 99.18,391.64 99.95,392.57 100.72,393.49 101.49,394.39 102.26,395.27 103.03,396.14 103.8,396.99 104.57,397.82 105.34,398.64 106.11,399.44 106.88,400.22 107.65,400.99 108.42,401.75 109.19,402.49 109.96,403.21 110.73,403.93 111.5,404.62 112.27,405.31 113.04,405.98 113.81,406.64 114.58,407.29 115.35,407.92 116.12,408.54 116.89,409.15 117.66,409.75 118.43,410.33 119.2,410.91 119.97,411.47 120.74,412.02 121.51,412.57 122.28,413.1 123.05,413.62 123.82,414.13 124.59,414.63 125.36,415.12 126.13,415.61 126.9,416.08 127.67,416.54 128.44,417 129.21,417.44 129.98,417.88 130.75,418.31 131.52,418.73 132.29,419.14 133.06,419.55 133.83,419.94 134.6,420.33 135.37,420.71 136.14,421.09 136.91,421.45 137.68,421.81 138.45,422.17 139.22,422.51 139.99,422.85" fill="none" stroke="#7a7a7a" stroke-width="1.5"/>
<polyline points="79.93,407.08 80.7,408.12 81.47,409.13 82.24,410.11 83.01,411.05 83.78,411.96 84.55,412.85 85.32,413.71 86.09,414.54 86.86,415.34 87.63,416.12 88.4,416.88 89.17,417.61 89.94,418.32 90.71,419 91.48,419.67 92.25,420.31 93.02,420.93 93.79,421.54 94.56,422.12 95.33,422.69 96.1,423.23 96.87,423.77 97.64,424.28 98.41,424.78 99.18,425.26 99.95,425.73 100.72,426.18 101.49,426.62 102.26,427.04 103.03,427.45 103.8,427.85 104.57,428.24 105.34,428.61 106.11,428.97 106.88,429.32 107.65,429.66 108.42,429.99 109.19,430.31 109.96,430.61 110.73,430.91 111.5,431.2 112.27,431.48 113.04,431.75 113.81,432.02 114.58,432.27 115.35,432.52 116.12,432.75 116.89,432.99 117.66,433.21 118.43,433.43 119.2,433.64 119.97,433.84 120.74,434.04 121.51,434.23 122.28,434.41 123.05,434.59 123.82,434.76 124.59,434.93 125.36,435.09 126.13,435.25 126.9,435.4 127.67,435.55 128.44,435.69 129.21,435.83 129.98,435.97 130.75,436.1 131.52,436.22 132.29,436.34 133.06,436.46 133.83,436.58 134.6,436.69 135.37,436.79 136.14,436.9 136.91,437 137.68,437.1 138.45,437.19 139.22,437.28 139.99,437.37" fill="none" stroke="#7d97cf" stroke-width="1.5"/>
<line x1="79.6" y1="349.7" x2="79.6" y2="371.8" stroke="#333" stroke-width="1"/>
<line x1="77.4" y1="349.7" x2="81.8" y2="349.7" stroke="#333" stroke-width="1"/>
<line x1="77.4" y1="371.8" x2="81.8" y2="371.8" stroke="#333" stroke-width="1"/>
<line x1="103" y1="387" x2="103" y2="401.5" stroke="#333" stroke-width="1"/>
<line x1="100.8" y1="387" x2="105.2" y2="387" stroke="#333" stroke-width="1"/>
<line x1="100.8" y1="401.5" x2="105.2" y2="401.5" stroke="#333" stroke-width="1"/>
<line x1="126.1" y1="404.6" x2="126.1" y2="419.3" stroke="#333" stroke-width="1"/>
<line x1="123.9" y1="404.6" x2="128.3" y2="404.6" stroke="#333" stroke-width="1"/>
<line x1="123.9" y1="419.3" x2="128.3" y2="419.3" stroke="#333" stroke-width="1"/>
<circle cx="139.3" cy="429.8" r="2.4" fill="none" stroke="#333" stroke-width="1"/>
<line x1="139.3" y1="426.2" x2="139.3" y2="427.4" stroke="#333" stroke-width="1"/>
<line x1="137.6" y1="426.2" x2="141" y2="426.2" stroke="#333" stroke-width="1"/>
<circle cx="79.6" cy="361.3" r="2.4" fill="none" stroke="#333" stroke-width="1"/>
<circle cx="103" cy="394.4" r="2.4" fill="none" stroke="#333" stroke-width="1"/>
<circle cx="126.1" cy="412" r="2.4" fill="none" stroke="#333" stroke-width="1"/>
<line x1="79.6" y1="398.3" x2="79.6" y2="415.9" stroke="#7d97cf" stroke-width="1"/>
<line x1="77.4" y1="398.3" x2="81.8" y2="398.3" stroke="#7d97cf" stroke-width="1"/>
<line x1="77.4" y1="415.9" x2="81.8" y2="415.9" stroke="#7d97cf" stroke-width="1"/>
<circle cx="79.6" cy="406.7" r="2.4" fill="none" stroke="#7d97cf" stroke-width="1"/>
<circle cx="103" cy="419.3" r="2.4" fill="none" stroke="#7d97cf" stroke-width="1"/>
<circle cx="126.1" cy="440.9" r="2.4" fill="none" stroke="#7d97cf" stroke-width="1"/>
<circle cx="139.3" cy="441.6" r="2.4" fill="none" stroke="#7d97cf" stroke-width="1"/>
<text x="176.6" y="339.39" font-size="18" text-anchor="middle" fill="#000">h</text>
<line x1="216.8" y1="345" x2="216.8" y2="461.5" stroke="#000" stroke-width="1.2"/>
<line x1="216.8" y1="461.5" x2="335.5" y2="461.5" stroke="#000" stroke-width="1.2"/>
<line x1="213.8" y1="346.3" x2="216.8" y2="346.3" stroke="#000" stroke-width="1.1"/>
<text x="213.3" y="350.49" font-size="11.8" text-anchor="end" fill="#000">25</text>
<line x1="213.8" y1="369.3" x2="216.8" y2="369.3" stroke="#000" stroke-width="1.1"/>
<text x="213.3" y="373.49" font-size="11.8" text-anchor="end" fill="#000">20</text>
<line x1="213.8" y1="392.3" x2="216.8" y2="392.3" stroke="#000" stroke-width="1.1"/>
<text x="213.3" y="396.49" font-size="11.8" text-anchor="end" fill="#000">15</text>
<line x1="213.8" y1="415.3" x2="216.8" y2="415.3" stroke="#000" stroke-width="1.1"/>
<text x="213.3" y="419.49" font-size="11.8" text-anchor="end" fill="#000">10</text>
<line x1="213.8" y1="438.3" x2="216.8" y2="438.3" stroke="#000" stroke-width="1.1"/>
<text x="213.3" y="442.49" font-size="11.8" text-anchor="end" fill="#000">5</text>
<line x1="213.8" y1="461.3" x2="216.8" y2="461.3" stroke="#000" stroke-width="1.1"/>
<text x="213.3" y="465.49" font-size="11.8" text-anchor="end" fill="#000">0</text>
<line x1="216.8" y1="461.5" x2="216.8" y2="464.5" stroke="#000" stroke-width="1.1"/>
<text x="216.8" y="475.19" font-size="11.8" text-anchor="middle" fill="#000">0</text>
<line x1="240.34" y1="461.5" x2="240.34" y2="464.5" stroke="#000" stroke-width="1.1"/>
<text x="240.34" y="475.19" font-size="11.8" text-anchor="middle" fill="#000">20</text>
<line x1="263.88" y1="461.5" x2="263.88" y2="464.5" stroke="#000" stroke-width="1.1"/>
<text x="263.88" y="475.19" font-size="11.8" text-anchor="middle" fill="#000">40</text>
<line x1="287.42" y1="461.5" x2="287.42" y2="464.5" stroke="#000" stroke-width="1.1"/>
<text x="287.42" y="475.19" font-size="11.8" text-anchor="middle" fill="#000">60</text>
<line x1="310.96" y1="461.5" x2="310.96" y2="464.5" stroke="#000" stroke-width="1.1"/>
<text x="310.96" y="475.19" font-size="11.8" text-anchor="middle" fill="#000">80</text>
<line x1="334.5" y1="461.5" x2="334.5" y2="464.5" stroke="#000" stroke-width="1.1"/>
<text x="334.5" y="475.19" font-size="11.8" text-anchor="middle" fill="#000">100</text>
<text x="276.4" y="488.5" font-size="12.1" text-anchor="middle" fill="#000">Time (Hours)</text>
<text x="188.4" y="406.99" font-size="11.8" text-anchor="middle" fill="#000" transform="rotate(-90 188.4 402.8)">Normalized cell index</text>
<line x1="220" y1="346.3" x2="233" y2="346.3" stroke="#8a8a8a" stroke-width="2.5"/>
<text x="237" y="350.45" font-size="11.7" text-anchor="start" fill="#000">sg-NC</text>
<line x1="220" y1="357.3" x2="233" y2="357.3" stroke="#e35d5d" stroke-width="2.5"/>
<text x="238.3" y="361.45" font-size="11.7" text-anchor="start" fill="#000">sg-NC+Ribo</text>
<line x1="220" y1="370" x2="233" y2="370" stroke="#7893d0" stroke-width="2.5"/>
<text x="237" y="374.15" font-size="11.7" text-anchor="start" fill="#000">KO-1</text>
<line x1="220" y1="383" x2="233" y2="383" stroke="#f4a962" stroke-width="2.5"/>
<text x="235.7" y="387.15" font-size="11.7" text-anchor="start" fill="#000">KO-1+Ribo</text>
<polyline points="216.8,460.15 217.39,460.06 217.98,459.98 218.57,459.89 219.15,459.81 219.74,459.72 220.33,459.63 220.92,459.55 221.51,459.46 222.1,459.37 222.69,459.29 223.27,459.2 223.86,459.12 224.45,459.03 225.04,458.94 225.63,458.86 226.22,458.77" fill="none" stroke="#f4a962" stroke-width="3.4" opacity="0.85"/>
<polyline points="241.52,457.71 242.11,457.66 242.69,457.61 243.28,457.56 243.87,457.51 244.46,457.46 245.05,457.41 245.64,457.36 246.23,457.31 246.81,457.25 247.4,457.2 247.99,457.14 248.58,457.08 249.17,457.03 249.76,456.97 250.34,456.91 250.93,456.85 251.52,456.79 252.11,456.73 252.7,456.67 253.29,456.61 253.88,456.54 254.46,456.48 255.05,456.41 255.64,456.35 256.23,456.28 256.82,456.21 257.41,456.14 258,456.08 258.58,456 259.17,455.93 259.76,455.86 260.35,455.79 260.94,455.71 261.53,455.64 262.11,455.56 262.7,455.48 263.29,455.4 263.88,455.32 264.47,455.24 265.06,455.16 265.65,455.08 266.23,455 266.82,454.91 267.41,454.82 268,454.74 268.59,454.65 269.18,454.56 269.76,454.47 270.35,454.37 270.94,454.28 271.53,454.19 272.12,454.09 272.71,453.99 273.3,453.89 273.88,453.79 274.47,453.69 275.06,453.59 275.65,453.48 276.24,453.38 276.83,453.27 277.42,453.16 278,453.05 278.59,452.94 279.18,452.83 279.77,452.71 280.36,452.6 280.95,452.48 281.54,452.36 282.12,452.24 282.71,452.12 283.3,451.99 283.89,451.87 284.48,451.74 285.07,451.61 285.65,451.48 286.24,451.35 286.83,451.21 287.42,451.08 288.01,450.94 288.6,450.8 289.19,450.66 289.77,450.51 290.36,450.37 290.95,450.22 291.54,450.07 292.13,449.92 292.72,449.77 293.31,449.61 293.89,449.45 294.48,449.29 295.07,449.13 295.66,448.96 296.25,448.8 296.84,448.63 297.42,448.46 298.01,448.28 298.6,448.11 299.19,447.93 299.78,447.75 300.37,447.57 300.96,447.38 301.54,447.19 302.13,447 302.72,446.81 303.31,446.61 303.9,446.41 304.49,446.21 305.08,446.01 305.66,445.8 306.25,445.59 306.84,445.38 307.43,445.17 308.02,444.95 308.61,444.73 309.19,444.5 309.78,444.28 310.37,444.05 310.96,443.81 311.55,443.58 312.14,443.34 312.73,443.09 313.31,442.85 313.9,442.6 314.49,442.35 315.08,442.09 315.67,441.83 316.26,441.57 316.85,441.3 317.43,441.03 318.02,440.76 318.61,440.48 319.2,440.2 319.79,439.91 320.38,439.62 320.96,439.33 321.55,439.03 322.14,438.73 322.73,438.43 323.32,438.12 323.91,437.81 324.5,437.49 325.08,437.17 325.67,436.84 326.26,436.51 326.85,436.18 327.44,435.84 328.03,435.49 328.62,435.14 329.2,434.79 329.79,434.43 330.38,434.07 330.97,433.7" fill="none" stroke="#f4a962" stroke-width="3.4" opacity="0.85"/>
<polyline points="216.8,460.15 217.39,460.06 217.98,459.98 218.57,459.89 219.15,459.81 219.74,459.72 220.33,459.63 220.92,459.55 221.51,459.46 222.1,459.37 222.69,459.29 223.27,459.2 223.86,459.12 224.45,459.03 225.04,458.94 225.63,458.86 226.22,458.77" fill="none" stroke="#7893d0" stroke-width="3.4" opacity="0.85"/>
<polyline points="241.52,457.07 242.11,456.99 242.69,456.91 243.28,456.83 243.87,456.75 244.46,456.67 245.05,456.59 245.64,456.5 246.23,456.41 246.81,456.32 247.4,456.23 247.99,456.14 248.58,456.05 249.17,455.95 249.76,455.85 250.34,455.76 250.93,455.66 251.52,455.55 252.11,455.45 252.7,455.34 253.29,455.23 253.88,455.12 254.46,455.01 255.05,454.9 255.64,454.78 256.23,454.66 256.82,454.54 257.41,454.42 258,454.29 258.58,454.17 259.17,454.04 259.76,453.91 260.35,453.77 260.94,453.63 261.53,453.49 262.11,453.35 262.7,453.21 263.29,453.06 263.88,452.91 264.47,452.76 265.06,452.6 265.65,452.45 266.23,452.29 266.82,452.12 267.41,451.95 268,451.79 268.59,451.61 269.18,451.44 269.76,451.26 270.35,451.07 270.94,450.89 271.53,450.7 272.12,450.51 272.71,450.31 273.3,450.11 273.88,449.91 274.47,449.7 275.06,449.49 275.65,449.28 276.24,449.06 276.83,448.84 277.42,448.61 278,448.38 278.59,448.14 279.18,447.9 279.77,447.66 280.36,447.41 280.95,447.16 281.54,446.9 282.12,446.64 282.71,446.38 283.3,446.11 283.89,445.83 284.48,445.55 285.07,445.26 285.65,444.97 286.24,444.67 286.83,444.37 287.42,444.06 288.01,443.75 288.6,443.43 289.19,443.11 289.77,442.78 290.36,442.44 290.95,442.1 291.54,441.75 292.13,441.39 292.72,441.03 293.31,440.66 293.89,440.29 294.48,439.91 295.07,439.52 295.66,439.12 296.25,438.72 296.84,438.31 297.42,437.89 298.01,437.47 298.6,437.03 299.19,436.59 299.78,436.14 300.37,435.69 300.96,435.22 301.54,434.75 302.13,434.27 302.72,433.77 303.31,433.27 303.9,432.77 304.49,432.25 305.08,431.72 305.66,431.18 306.25,430.63 306.84,430.08 307.43,429.51 308.02,428.93 308.61,428.35 309.19,427.75 309.78,427.14 310.37,426.52 310.96,425.88 311.55,425.24 312.14,424.59 312.73,423.92 313.31,423.24 313.9,422.55 314.49,421.84 315.08,421.13 315.67,420.4 316.26,419.65 316.85,418.9 317.43,418.13 318.02,417.34 318.61,416.54 319.2,415.73 319.79,414.9 320.38,414.06 320.96,413.2 321.55,412.33 322.14,411.44 322.73,410.53 323.32,409.61 323.91,408.67 324.5,407.72 325.08,406.74 325.67,405.75 326.26,404.74 326.85,403.71 327.44,402.67 328.03,401.6 328.62,400.52 329.2,399.41 329.79,398.29 330.38,397.15 330.97,395.98" fill="none" stroke="#7893d0" stroke-width="3.4" opacity="0.85"/>
<path d="M282.12 446.06V446.99M283.89 445.21V446.2M285.65 444.32V445.36M287.42 443.37V444.48M289.19 442.38V443.54M290.95 441.33V442.56M292.72 440.22V441.52M294.48 439.05V440.42M296.25 437.82V439.26M298.01 436.51V438.04M299.78 435.14V436.75M301.54 433.69V435.39M303.31 432.15V433.95M305.08 430.54V432.43M306.84 428.83V430.83M308.61 427.03V429.14M310.37 425.12V427.35M312.14 423.12V425.47M313.9 421V423.48M315.67 418.76V421.38M317.43 416.4V419.16M319.2 413.91V416.83M320.96 411.28V414.36M322.73 408.5V411.75M324.5 405.57V409M326.26 402.48V406.1M328.03 399.22V403.04M329.79 395.77V399.8" stroke="#7893d0" stroke-width="0.8" fill="none"/>
<polyline points="216.8,460.15 217.39,460.06 217.98,459.98 218.57,459.89 219.15,459.81 219.74,459.72 220.33,459.63 220.92,459.55 221.51,459.46 222.1,459.37 222.69,459.29 223.27,459.2 223.86,459.12 224.45,459.03 225.04,458.94 225.63,458.86 226.22,458.77" fill="none" stroke="#e35d5d" stroke-width="2.4"/>
<polyline points="241.52,456.84 242.11,456.75 242.69,456.66 243.28,456.58 243.87,456.48 244.46,456.39 245.05,456.3 245.64,456.2 246.23,456.1 246.81,456 247.4,455.9 247.99,455.8 248.58,455.69 249.17,455.58 249.76,455.47 250.34,455.36 250.93,455.25 251.52,455.13 252.11,455.01 252.7,454.89 253.29,454.77 253.88,454.64 254.46,454.51 255.05,454.38 255.64,454.25 256.23,454.11 256.82,453.97 257.41,453.83 258,453.69 258.58,453.54 259.17,453.39 259.76,453.24 260.35,453.09 260.94,452.93 261.53,452.77 262.11,452.6 262.7,452.44 263.29,452.26 263.88,452.09 264.47,451.91 265.06,451.73 265.65,451.55 266.23,451.36 266.82,451.17 267.41,450.97 268,450.78 268.59,450.57 269.18,450.37 269.76,450.16 270.35,449.94 270.94,449.72 271.53,449.5 272.12,449.27 272.71,449.04 273.3,448.81 273.88,448.57 274.47,448.32 275.06,448.07 275.65,447.82 276.24,447.56 276.83,447.29 277.42,447.02 278,446.75 278.59,446.47 279.18,446.18 279.77,445.89 280.36,445.59 280.95,445.29 281.54,444.98 282.12,444.67 282.71,444.35 283.3,444.02 283.89,443.69 284.48,443.35 285.07,443 285.65,442.65 286.24,442.29 286.83,441.93 287.42,441.55 288.01,441.17 288.6,440.79 289.19,440.39 289.77,439.99 290.36,439.58 290.95,439.16 291.54,438.74 292.13,438.3 292.72,437.86 293.31,437.41 293.89,436.95 294.48,436.48 295.07,436 295.66,435.51 296.25,435.02 296.84,434.51 297.42,433.99 298.01,433.47 298.6,432.93 299.19,432.39 299.78,431.83 300.37,431.26 300.96,430.69 301.54,430.1 302.13,429.5 302.72,428.88 303.31,428.26 303.9,427.62 304.49,426.97 305.08,426.31 305.66,425.64 306.25,424.95 306.84,424.25 307.43,423.54 308.02,422.81 308.61,422.07 309.19,421.32 309.78,420.55 310.37,419.76 310.96,418.96 311.55,418.15 312.14,417.32 312.73,416.47 313.31,415.61 313.9,414.73 314.49,413.83 315.08,412.92 315.67,411.99 316.26,411.04 316.85,410.07 317.43,409.08 318.02,408.08 318.61,407.05 319.2,406.01 319.79,404.95 320.38,403.86 320.96,402.75 321.55,401.63 322.14,400.48 322.73,399.31 323.32,398.11 323.91,396.9 324.5,395.66 325.08,394.39 325.67,393.11 326.26,391.79 326.85,390.46 327.44,389.09 328.03,387.7 328.62,386.29 329.2,384.84 329.79,383.37 330.38,381.87 330.97,380.34" fill="none" stroke="#e35d5d" stroke-width="2.4"/>
<path d="M282.12 442.84V445.77M281.12 442.84h2M283.89 441.75V444.85M282.89 441.75h2M285.65 440.6V443.88M284.65 440.6h2M287.42 439.38V442.86M286.42 439.38h2M289.19 438.09V441.77M288.19 438.09h2M290.95 436.73V440.62M289.95 436.73h2M292.72 435.28V439.41M291.72 435.28h2M294.48 433.75V438.12M293.48 433.75h2M296.25 432.13V436.75M295.25 432.13h2M298.01 430.41V435.31M297.01 430.41h2M299.78 428.59V433.78M298.78 428.59h2M301.54 426.66V432.16M300.54 426.66h2M303.31 424.62V430.44M302.31 424.62h2M305.08 422.47V428.62M304.08 422.47h2M306.84 420.18V426.7M305.84 420.18h2M308.61 417.76V424.66M307.61 417.76h2M310.37 415.19V422.51M309.37 415.19h2M312.14 412.48V420.22M311.14 412.48h2M313.9 409.61V417.8M312.9 409.61h2M315.67 406.56V415.24M314.67 406.56h2M317.43 403.34V412.53M316.43 403.34h2M319.2 399.93V409.66M318.2 399.93h2M320.96 396.31V406.62M319.96 396.31h2M322.73 392.49V403.4M321.73 392.49h2M324.5 388.44V399.99M323.5 388.44h2M326.26 384.15V396.38M325.26 384.15h2M328.03 379.61V392.56M327.03 379.61h2M329.79 374.8V388.51M328.79 374.8h2" stroke="#e35d5d" stroke-width="0.8" fill="none"/>
<polyline points="216.8,460.15 217.39,460.06 217.98,459.98 218.57,459.89 219.15,459.81 219.74,459.72 220.33,459.63 220.92,459.55 221.51,459.46 222.1,459.37 222.69,459.29 223.27,459.2 223.86,459.12 224.45,459.03 225.04,458.94 225.63,458.86 226.22,458.77" fill="none" stroke="#3a3a3a" stroke-width="2.6"/>
<polyline points="241.52,456.7 242.11,456.61 242.69,456.52 243.28,456.43 243.87,456.33 244.46,456.24 245.05,456.14 245.64,456.04 246.23,455.94 246.81,455.83 247.4,455.73 247.99,455.62 248.58,455.51 249.17,455.4 249.76,455.28 250.34,455.17 250.93,455.05 251.52,454.92 252.11,454.8 252.7,454.68 253.29,454.55 253.88,454.42 254.46,454.28 255.05,454.15 255.64,454.01 256.23,453.87 256.82,453.72 257.41,453.58 258,453.43 258.58,453.27 259.17,453.12 259.76,452.96 260.35,452.8 260.94,452.63 261.53,452.47 262.11,452.29 262.7,452.12 263.29,451.94 263.88,451.76 264.47,451.58 265.06,451.39 265.65,451.19 266.23,451 266.82,450.8 267.41,450.6 268,450.39 268.59,450.18 269.18,449.96 269.76,449.74 270.35,449.52 270.94,449.29 271.53,449.06 272.12,448.82 272.71,448.58 273.3,448.33 273.88,448.08 274.47,447.82 275.06,447.56 275.65,447.29 276.24,447.02 276.83,446.75 277.42,446.46 278,446.18 278.59,445.88 279.18,445.59 279.77,445.28 280.36,444.97 280.95,444.65 281.54,444.33 282.12,444 282.71,443.67 283.3,443.33 283.89,442.98 284.48,442.62 285.07,442.26 285.65,441.89 286.24,441.51 286.83,441.13 287.42,440.74 288.01,440.34 288.6,439.94 289.19,439.52 289.77,439.1 290.36,438.67 290.95,438.23 291.54,437.78 292.13,437.33 292.72,436.86 293.31,436.39 293.89,435.91 294.48,435.41 295.07,434.91 295.66,434.4 296.25,433.88 296.84,433.35 297.42,432.81 298.01,432.25 298.6,431.69 299.19,431.12 299.78,430.53 300.37,429.94 300.96,429.33 301.54,428.71 302.13,428.08 302.72,427.43 303.31,426.78 303.9,426.11 304.49,425.43 305.08,424.73 305.66,424.02 306.25,423.3 306.84,422.56 307.43,421.81 308.02,421.05 308.61,420.27 309.19,419.47 309.78,418.66 310.37,417.83 310.96,416.99 311.55,416.13 312.14,415.26 312.73,414.37 313.31,413.46 313.9,412.53 314.49,411.58 315.08,410.62 315.67,409.64 316.26,408.64 316.85,407.62 317.43,406.57 318.02,405.51 318.61,404.43 319.2,403.33 319.79,402.21 320.38,401.06 320.96,399.89 321.55,398.7 322.14,397.49 322.73,396.25 323.32,394.99 323.91,393.71 324.5,392.4 325.08,391.06 325.67,389.7 326.26,388.31 326.85,386.9 327.44,385.46 328.03,383.99 328.62,382.49 329.2,380.96 329.79,379.41 330.38,377.82 330.97,376.2" fill="none" stroke="#3a3a3a" stroke-width="2.6"/>
<path d="M282.12 443.14V444.52M283.89 442.06V443.53M285.65 440.92V442.47M287.42 439.71V441.36M289.19 438.43V440.17M290.95 437.08V438.92M292.72 435.64V437.6M294.48 434.12V436.19M296.25 432.51V434.7M298.01 430.8V433.13M299.78 428.99V431.46M301.54 427.08V429.69M303.31 425.05V427.81M305.08 422.9V425.83M306.84 420.63V423.73M308.61 418.22V421.5M310.37 415.66V419.14M312.14 412.96V416.64M313.9 410.09V413.99M315.67 407.05V411.19M317.43 403.84V408.22M319.2 400.43V405.07M320.96 396.82V401.74M322.73 393V398.21M324.5 388.95V394.47M326.26 384.67V390.5M328.03 380.12V386.31M329.79 375.31V381.86" stroke="#3a3a3a" stroke-width="0.8" fill="none"/>
<text x="350" y="339.39" font-size="18" text-anchor="middle" fill="#000">i</text>
<line x1="391.8" y1="343" x2="391.8" y2="460.6" stroke="#000" stroke-width="1.2"/>
<line x1="391.8" y1="460.6" x2="512.1" y2="460.6" stroke="#000" stroke-width="1.2"/>
<line x1="388.8" y1="343.1" x2="391.8" y2="343.1" stroke="#000" stroke-width="1.1"/>
<text x="388.3" y="347.36" font-size="12" text-anchor="end" fill="#000">2.5</text>
<line x1="388.8" y1="366.6" x2="391.8" y2="366.6" stroke="#000" stroke-width="1.1"/>
<text x="388.3" y="370.86" font-size="12" text-anchor="end" fill="#000">2.0</text>
<line x1="388.8" y1="390.1" x2="391.8" y2="390.1" stroke="#000" stroke-width="1.1"/>
<text x="388.3" y="394.36" font-size="12" text-anchor="end" fill="#000">1.5</text>
<line x1="388.8" y1="413.6" x2="391.8" y2="413.6" stroke="#000" stroke-width="1.1"/>
<text x="388.3" y="417.86" font-size="12" text-anchor="end" fill="#000">1.0</text>
<line x1="388.8" y1="437.1" x2="391.8" y2="437.1" stroke="#000" stroke-width="1.1"/>
<text x="388.3" y="441.36" font-size="12" text-anchor="end" fill="#000">0.5</text>
<line x1="388.8" y1="460.6" x2="391.8" y2="460.6" stroke="#000" stroke-width="1.1"/>
<text x="388.3" y="464.86" font-size="12" text-anchor="end" fill="#000">0</text>
<line x1="392" y1="460.6" x2="392" y2="463.6" stroke="#000" stroke-width="1.1"/>
<text x="392" y="476.16" font-size="12" text-anchor="middle" fill="#000">0</text>
<line x1="432" y1="460.6" x2="432" y2="463.6" stroke="#000" stroke-width="1.1"/>
<text x="432" y="476.16" font-size="12" text-anchor="middle" fill="#000">10</text>
<line x1="472" y1="460.6" x2="472" y2="463.6" stroke="#000" stroke-width="1.1"/>
<text x="472" y="476.16" font-size="12" text-anchor="middle" fill="#000">20</text>
<line x1="512" y1="460.6" x2="512" y2="463.6" stroke="#000" stroke-width="1.1"/>
<text x="512" y="476.16" font-size="12" text-anchor="middle" fill="#000">30</text>
<text x="450.4" y="488.5" font-size="12.1" text-anchor="middle" fill="#000">Time (Days)</text>
<text transform="translate(368.6 397.4) rotate(-90)" text-anchor="middle" font-size="11.9">Tumor volume (*100 mm<tspan font-size="7.5" dy="-4.3">3</tspan><tspan dy="4.3">)</tspan></text>
<line x1="395.2" y1="345.5" x2="408.8" y2="345.5" stroke="#8c8c8c" stroke-width="2.5"/>
<text x="411.5" y="349.76" font-size="12" text-anchor="start" fill="#000">sg-NC</text>
<line x1="395.2" y1="356.8" x2="408.8" y2="356.8" stroke="#e06666" stroke-width="2.5"/>
<text x="411.5" y="361.06" font-size="12" text-anchor="start" fill="#000">sg-NC+Ribo</text>
<line x1="395.2" y1="369.4" x2="408.8" y2="369.4" stroke="#7b96d0" stroke-width="2.5"/>
<text x="411.5" y="373.66" font-size="12" text-anchor="start" fill="#000">KO-1</text>
<line x1="395.2" y1="383" x2="408.8" y2="383" stroke="#f5b57a" stroke-width="2.5"/>
<text x="411.5" y="387.26" font-size="12" text-anchor="start" fill="#000">KO-1+Ribo</text>
<polyline points="396,460.6 420,459.66 448,459.19 476,455.43 504,453.08" fill="none" stroke="#f5b57a" stroke-width="1.9"/>
<polyline points="396,460.6 420,459.19 448,458.25 476,447.91 504,432.4" fill="none" stroke="#7b96d0" stroke-width="1.9"/>
<polyline points="396,460.6 420,458.25 448,455.9 476,440.39 504,415.95" fill="none" stroke="#e06666" stroke-width="1.9"/>
<polyline points="396,460.6 420,455.9 448,444.15 476,424.41 504,379.29" fill="none" stroke="#8c8c8c" stroke-width="1.9"/>
<circle cx="396" cy="460.6" r="2.4" fill="#fff" stroke="#555" stroke-width="0.9"/>
<line x1="420" y1="455.9" x2="420" y2="454.49" stroke="#555" stroke-width="1"/>
<line x1="417.8" y1="454.49" x2="422.2" y2="454.49" stroke="#555" stroke-width="1"/>
<circle cx="420" cy="455.9" r="2.4" fill="#fff" stroke="#555" stroke-width="0.9"/>
<line x1="448" y1="444.15" x2="448" y2="440.39" stroke="#555" stroke-width="1"/>
<line x1="445.8" y1="440.39" x2="450.2" y2="440.39" stroke="#555" stroke-width="1"/>
<circle cx="448" cy="444.15" r="2.4" fill="#fff" stroke="#555" stroke-width="0.9"/>
<line x1="476" y1="424.41" x2="476" y2="423" stroke="#555" stroke-width="1"/>
<line x1="473.8" y1="423" x2="478.2" y2="423" stroke="#555" stroke-width="1"/>
<circle cx="476" cy="424.41" r="2.4" fill="#fff" stroke="#555" stroke-width="0.9"/>
<line x1="504" y1="379.29" x2="504" y2="367.54" stroke="#555" stroke-width="1"/>
<line x1="501.8" y1="367.54" x2="506.2" y2="367.54" stroke="#555" stroke-width="1"/>
<circle cx="504" cy="379.29" r="2.4" fill="#fff" stroke="#555" stroke-width="0.9"/>
<circle cx="396" cy="460.6" r="2.4" fill="#fff" stroke="#e06666" stroke-width="0.9"/>
<circle cx="420" cy="458.25" r="2.4" fill="#fff" stroke="#e06666" stroke-width="0.9"/>
<line x1="448" y1="455.9" x2="448" y2="450.26" stroke="#e06666" stroke-width="1"/>
<line x1="445.8" y1="450.26" x2="450.2" y2="450.26" stroke="#e06666" stroke-width="1"/>
<circle cx="448" cy="455.9" r="2.4" fill="#fff" stroke="#e06666" stroke-width="0.9"/>
<line x1="476" y1="440.39" x2="476" y2="432.4" stroke="#e06666" stroke-width="1"/>
<line x1="473.8" y1="432.4" x2="478.2" y2="432.4" stroke="#e06666" stroke-width="1"/>
<circle cx="476" cy="440.39" r="2.4" fill="#fff" stroke="#e06666" stroke-width="0.9"/>
<line x1="504" y1="415.95" x2="504" y2="402.32" stroke="#e06666" stroke-width="1"/>
<line x1="501.8" y1="402.32" x2="506.2" y2="402.32" stroke="#e06666" stroke-width="1"/>
<circle cx="504" cy="415.95" r="2.4" fill="#fff" stroke="#e06666" stroke-width="0.9"/>
<circle cx="396" cy="460.6" r="2.4" fill="#fff" stroke="#7b96d0" stroke-width="0.9"/>
<circle cx="420" cy="459.19" r="2.4" fill="#fff" stroke="#7b96d0" stroke-width="0.9"/>
<circle cx="448" cy="458.25" r="2.4" fill="#fff" stroke="#7b96d0" stroke-width="0.9"/>
<line x1="476" y1="447.91" x2="476" y2="445.56" stroke="#7b96d0" stroke-width="1"/>
<line x1="473.8" y1="445.56" x2="478.2" y2="445.56" stroke="#7b96d0" stroke-width="1"/>
<circle cx="476" cy="447.91" r="2.4" fill="#fff" stroke="#7b96d0" stroke-width="0.9"/>
<line x1="504" y1="432.4" x2="504" y2="423.94" stroke="#7b96d0" stroke-width="1"/>
<line x1="501.8" y1="423.94" x2="506.2" y2="423.94" stroke="#7b96d0" stroke-width="1"/>
<circle cx="504" cy="432.4" r="2.4" fill="#fff" stroke="#7b96d0" stroke-width="0.9"/>
<circle cx="396" cy="460.6" r="2.4" fill="#fff" stroke="#f5b57a" stroke-width="0.9"/>
<circle cx="420" cy="459.66" r="2.4" fill="#fff" stroke="#f5b57a" stroke-width="0.9"/>
<circle cx="448" cy="459.19" r="2.4" fill="#fff" stroke="#f5b57a" stroke-width="0.9"/>
<circle cx="476" cy="455.43" r="2.4" fill="#fff" stroke="#f5b57a" stroke-width="0.9"/>
<line x1="504" y1="453.08" x2="504" y2="446.03" stroke="#f5b57a" stroke-width="1"/>
<line x1="501.8" y1="446.03" x2="506.2" y2="446.03" stroke="#f5b57a" stroke-width="1"/>
<circle cx="504" cy="453.08" r="2.4" fill="#fff" stroke="#f5b57a" stroke-width="0.9"/>
<text x="527.3" y="340.89" font-size="18" text-anchor="middle" fill="#000">j</text>
<line x1="567.3" y1="341" x2="567.3" y2="461.1" stroke="#000" stroke-width="1.2"/>
<line x1="567.3" y1="461.1" x2="648.2" y2="461.1" stroke="#000" stroke-width="1.2"/>
<line x1="564.3" y1="342.1" x2="567.3" y2="342.1" stroke="#000" stroke-width="1.1"/>
<text x="563.3" y="346.21" font-size="11.6" text-anchor="end" fill="#000">120</text>
<line x1="564.3" y1="361.93" x2="567.3" y2="361.93" stroke="#000" stroke-width="1.1"/>
<text x="563.3" y="366.05" font-size="11.6" text-anchor="end" fill="#000">100</text>
<line x1="564.3" y1="381.76" x2="567.3" y2="381.76" stroke="#000" stroke-width="1.1"/>
<text x="563.3" y="385.88" font-size="11.6" text-anchor="end" fill="#000">80</text>
<line x1="564.3" y1="401.6" x2="567.3" y2="401.6" stroke="#000" stroke-width="1.1"/>
<text x="563.3" y="405.72" font-size="11.6" text-anchor="end" fill="#000">60</text>
<line x1="564.3" y1="421.43" x2="567.3" y2="421.43" stroke="#000" stroke-width="1.1"/>
<text x="563.3" y="425.55" font-size="11.6" text-anchor="end" fill="#000">40</text>
<line x1="564.3" y1="441.27" x2="567.3" y2="441.27" stroke="#000" stroke-width="1.1"/>
<text x="563.3" y="445.38" font-size="11.6" text-anchor="end" fill="#000">20</text>
<text x="559.6" y="475.12" font-size="11.6" text-anchor="middle" fill="#000">0</text>
<rect x="575.4" y="361.93" width="9" height="99.17" fill="#8699c9" stroke="#111" stroke-width="1"/>
<rect x="595.1" y="361.93" width="9" height="99.17" fill="#8699c9" stroke="#111" stroke-width="1"/>
<rect x="614.1" y="381.76" width="9" height="79.34" fill="#8699c9" stroke="#111" stroke-width="1"/>
<rect x="614.1" y="361.93" width="9" height="19.83" fill="#e48a80" stroke="#111" stroke-width="1"/>
<rect x="633.7" y="441.27" width="9" height="19.83" fill="#8699c9" stroke="#111" stroke-width="1"/>
<rect x="633.7" y="361.93" width="9" height="79.34" fill="#e48a80" stroke="#111" stroke-width="1"/>
<text x="610" y="335.8" text-anchor="middle" font-size="11.5"><tspan font-style="italic">X</tspan><tspan font-size="7" dy="-4">2</tspan><tspan dy="4">=11.47</tspan></text>
<text x="610" y="348.4" text-anchor="middle" font-size="11.5"><tspan font-style="italic">P</tspan>=0.0095</text>
<line x1="579.9" y1="349.9" x2="639.5" y2="349.9" stroke="#000" stroke-width="1"/>
<rect x="652.9" y="367" width="5.3" height="12.6" fill="#8699c9" stroke="#111" stroke-width="0.8"/>
<rect x="652.9" y="429.2" width="5.3" height="12.8" fill="#e48a80" stroke="#111" stroke-width="0.8"/>
<text x="667.9" y="377.28" font-size="11.5" text-anchor="middle" fill="#000" transform="rotate(-90 667.9 373.2)">With tumor</text>
<text x="667.9" y="439.58" font-size="11.5" text-anchor="middle" fill="#000" transform="rotate(-90 667.9 435.5)">No tumor</text>
<text x="579.9" y="475.12" font-size="11.6" text-anchor="middle" fill="#000">-</text>
<text x="599.6" y="475.12" font-size="11.6" text-anchor="middle" fill="#000">-</text>
<text x="618.6" y="475.12" font-size="11.6" text-anchor="middle" fill="#000">+</text>
<text x="638.2" y="475.12" font-size="11.6" text-anchor="middle" fill="#000">+</text>
<text x="579.9" y="488.32" font-size="11.6" text-anchor="middle" fill="#000">-</text>
<text x="599.6" y="488.32" font-size="11.6" text-anchor="middle" fill="#000">+</text>
<text x="618.6" y="488.32" font-size="11.6" text-anchor="middle" fill="#000">-</text>
<text x="638.2" y="488.32" font-size="11.6" text-anchor="middle" fill="#000">+</text>
<text x="650.5" y="475.19" font-size="11.8" text-anchor="start" fill="#000">KO-1</text>
<text x="650.5" y="488.39" font-size="11.8" text-anchor="start" fill="#000">Ribo</text>
<text x="536" y="405.69" font-size="11.8" text-anchor="middle" fill="#000" transform="rotate(-90 536 401.5)">Percentage (%)</text>
<text x="7" y="510.09" font-size="18" text-anchor="middle" fill="#000">k</text>
<rect x="11.7" y="511.6" width="154.6" height="121.6" fill="#e9ecf6" stroke="none" stroke-width="1"/>
<rect x="11.7" y="511.6" width="154.6" height="121.6" fill="#000" filter="url(#blueSpeck)"/>
<path d="M11.7 511.6 L70 511.6 Q100 528 125 511.6 L140 511.6 Q115 540 80 560 Q45 578 11.7 578 Z" fill="#eef0f7" opacity="0.4" filter="url(#soft)"/>
<path d="M56 583 Q62 575 75 575 Q90 568 100 560 Q108 553 115 551 Q112 557 104 564 Q92 575 80 581 Q68 587 58 588 Z" fill="#f2f3f8" opacity="0.95" filter="url(#soft1)"/>
<rect x="11.7" y="585.1" width="62.8" height="48.1" fill="#eceef6" stroke="none" stroke-width="1"/>
<g clip-path="url(#clipKi1)" filter="url(#soft05)"><ellipse cx="51.86" cy="586.3" rx="3.3" ry="2.23" transform="rotate(173 51.86 586.3)" fill="#6c80c6" opacity="0.81"/><ellipse cx="45.95" cy="613.5" rx="2.86" ry="1.81" transform="rotate(129 45.95 613.5)" fill="#7f92d0" opacity="0.76"/><ellipse cx="46.95" cy="619.54" rx="4.06" ry="3.03" transform="rotate(150 46.95 619.54)" fill="#5c70ba" opacity="0.65"/><ellipse cx="66.29" cy="621.6" rx="3.09" ry="2.31" transform="rotate(39 66.29 621.6)" fill="#90a2d8" opacity="0.63"/><ellipse cx="59.65" cy="590.02" rx="3.48" ry="2.53" transform="rotate(154 59.65 590.02)" fill="#90a2d8" opacity="0.64"/><ellipse cx="14.43" cy="607.2" rx="3.02" ry="2.79" transform="rotate(141 14.43 607.2)" fill="#6c80c6" opacity="0.65"/><ellipse cx="51.18" cy="627.69" rx="3.45" ry="2.3" transform="rotate(11 51.18 627.69)" fill="#6c80c6" opacity="0.78"/><ellipse cx="60.25" cy="632.49" rx="4.34" ry="3.92" transform="rotate(71 60.25 632.49)" fill="#5c70ba" opacity="0.71"/><ellipse cx="64.08" cy="592.92" rx="3.44" ry="2.87" transform="rotate(155 64.08 592.92)" fill="#6c80c6" opacity="0.77"/><ellipse cx="45.24" cy="596.88" rx="3.63" ry="2.52" transform="rotate(175 45.24 596.88)" fill="#7f92d0" opacity="0.66"/><ellipse cx="59.95" cy="587.79" rx="4.28" ry="3.77" transform="rotate(68 59.95 587.79)" fill="#5c70ba" opacity="0.57"/><ellipse cx="69.04" cy="612.38" rx="4.09" ry="2.76" transform="rotate(101 69.04 612.38)" fill="#5c70ba" opacity="0.86"/><ellipse cx="52.07" cy="591.97" rx="3.05" ry="2.63" transform="rotate(149 52.07 591.97)" fill="#90a2d8" opacity="0.7"/><ellipse cx="48.35" cy="602.51" rx="4.6" ry="2.98" transform="rotate(23 48.35 602.51)" fill="#5c70ba" opacity="0.81"/><ellipse cx="65.78" cy="592.45" rx="3.09" ry="2.59" transform="rotate(98 65.78 592.45)" fill="#6c80c6" opacity="0.68"/><ellipse cx="74.26" cy="610.55" rx="4.55" ry="4.1" transform="rotate(174 74.26 610.55)" fill="#6c80c6" opacity="0.8"/><ellipse cx="54.51" cy="610.93" rx="3.28" ry="2.7" transform="rotate(75 54.51 610.93)" fill="#6c80c6" opacity="0.7"/><ellipse cx="40.19" cy="630.98" rx="4.38" ry="3.03" transform="rotate(129 40.19 630.98)" fill="#7f92d0" opacity="0.87"/><ellipse cx="66.37" cy="599.46" rx="3.95" ry="3.21" transform="rotate(95 66.37 599.46)" fill="#7f92d0" opacity="0.82"/><ellipse cx="45.57" cy="622.55" rx="3.75" ry="2.25" transform="rotate(125 45.57 622.55)" fill="#90a2d8" opacity="0.56"/><ellipse cx="70.05" cy="627.37" rx="4.3" ry="3.04" transform="rotate(61 70.05 627.37)" fill="#6c80c6" opacity="0.86"/><ellipse cx="71.17" cy="589.22" rx="3.67" ry="2.29" transform="rotate(32 71.17 589.22)" fill="#7f92d0" opacity="0.78"/><ellipse cx="71.16" cy="593.04" rx="3.75" ry="3.05" transform="rotate(138 71.16 593.04)" fill="#7f92d0" opacity="0.81"/><ellipse cx="55.02" cy="619.39" rx="3.52" ry="2.94" transform="rotate(112 55.02 619.39)" fill="#90a2d8" opacity="0.86"/><ellipse cx="40.05" cy="597.02" rx="2.92" ry="1.77" transform="rotate(150 40.05 597.02)" fill="#7f92d0" opacity="0.63"/><ellipse cx="16.16" cy="615.46" rx="3.21" ry="2.95" transform="rotate(18 16.16 615.46)" fill="#90a2d8" opacity="0.73"/><ellipse cx="29.19" cy="608.45" rx="3.77" ry="3.22" transform="rotate(62 29.19 608.45)" fill="#5c70ba" opacity="0.82"/><ellipse cx="62.41" cy="594.26" rx="2.97" ry="2.23" transform="rotate(105 62.41 594.26)" fill="#5c70ba" opacity="0.71"/><ellipse cx="57.49" cy="617.49" rx="4.57" ry="2.9" transform="rotate(86 57.49 617.49)" fill="#5c70ba" opacity="0.83"/><ellipse cx="18.56" cy="594.32" rx="3.77" ry="2.44" transform="rotate(71 18.56 594.32)" fill="#7f92d0" opacity="0.71"/><ellipse cx="66.62" cy="588.73" rx="4.25" ry="3.83" transform="rotate(12 66.62 588.73)" fill="#6c80c6" opacity="0.78"/><ellipse cx="45.65" cy="585.81" rx="2.97" ry="2.56" transform="rotate(42 45.65 585.81)" fill="#7f92d0" opacity="0.69"/><ellipse cx="41.93" cy="626.69" rx="4.42" ry="2.91" transform="rotate(99 41.93 626.69)" fill="#6c80c6" opacity="0.64"/><ellipse cx="60.94" cy="606.99" rx="3.56" ry="3.33" transform="rotate(39 60.94 606.99)" fill="#5c70ba" opacity="0.62"/><ellipse cx="25.37" cy="587.91" rx="4.12" ry="2.56" transform="rotate(14 25.37 587.91)" fill="#90a2d8" opacity="0.57"/><ellipse cx="41.64" cy="629.32" rx="3.76" ry="2.33" transform="rotate(47 41.64 629.32)" fill="#6c80c6" opacity="0.57"/><ellipse cx="15.97" cy="626.55" rx="3.53" ry="3.28" transform="rotate(148 15.97 626.55)" fill="#7f92d0" opacity="0.76"/><ellipse cx="50.6" cy="605.26" rx="3.85" ry="3.01" transform="rotate(52 50.6 605.26)" fill="#90a2d8" opacity="0.78"/><ellipse cx="31.43" cy="597.88" rx="3.04" ry="2.51" transform="rotate(80 31.43 597.88)" fill="#5c70ba" opacity="0.88"/><ellipse cx="70.46" cy="585.55" rx="3.92" ry="3.12" transform="rotate(18 70.46 585.55)" fill="#6c80c6" opacity="0.74"/><ellipse cx="43.47" cy="591.47" rx="3.43" ry="2.14" transform="rotate(94 43.47 591.47)" fill="#7f92d0" opacity="0.65"/><ellipse cx="39.22" cy="611.23" rx="3.34" ry="3.16" transform="rotate(170 39.22 611.23)" fill="#6c80c6" opacity="0.84"/><ellipse cx="30.5" cy="617.01" rx="4.49" ry="2.91" transform="rotate(27 30.5 617.01)" fill="#6c80c6" opacity="0.81"/><ellipse cx="21.46" cy="598.65" rx="3.18" ry="2.29" transform="rotate(129 21.46 598.65)" fill="#90a2d8" opacity="0.72"/><ellipse cx="68.56" cy="625.8" rx="2.97" ry="2.22" transform="rotate(11 68.56 625.8)" fill="#90a2d8" opacity="0.55"/><ellipse cx="60.13" cy="615.75" rx="3.27" ry="2.81" transform="rotate(143 60.13 615.75)" fill="#5c70ba" opacity="0.55"/><ellipse cx="16.43" cy="627.58" rx="4.43" ry="3.5" transform="rotate(149 16.43 627.58)" fill="#90a2d8" opacity="0.74"/><ellipse cx="38.69" cy="587.11" rx="3.46" ry="3.2" transform="rotate(91 38.69 587.11)" fill="#6c80c6" opacity="0.62"/><ellipse cx="27.37" cy="590.04" rx="4.2" ry="3.82" transform="rotate(158 27.37 590.04)" fill="#5c70ba" opacity="0.81"/><ellipse cx="69.84" cy="596.49" rx="3.09" ry="2.72" transform="rotate(105 69.84 596.49)" fill="#7f92d0" opacity="0.56"/><ellipse cx="57.96" cy="601.08" rx="4.48" ry="3.94" transform="rotate(68 57.96 601.08)" fill="#7f92d0" opacity="0.61"/><ellipse cx="55.74" cy="603.5" rx="2.87" ry="2.19" transform="rotate(117 55.74 603.5)" fill="#7f92d0" opacity="0.67"/><ellipse cx="63.23" cy="627.01" rx="3.2" ry="2.66" transform="rotate(84 63.23 627.01)" fill="#5c70ba" opacity="0.65"/><ellipse cx="16.06" cy="622.3" rx="3.43" ry="2.67" transform="rotate(7 16.06 622.3)" fill="#90a2d8" opacity="0.59"/><ellipse cx="72.64" cy="593.69" rx="4.53" ry="3.14" transform="rotate(152 72.64 593.69)" fill="#6c80c6" opacity="0.7"/></g>
<rect x="11.7" y="585.1" width="62.8" height="48.1" fill="none" stroke="#222" stroke-width="1"/>
<line x1="64.5" y1="630.3" x2="74" y2="630.3" stroke="#e02020" stroke-width="1.4"/>
<rect x="11.7" y="511.6" width="154.6" height="121.6" fill="none" stroke="#444" stroke-width="0.9"/>
<rect x="170.5" y="511.6" width="155.3" height="121.6" fill="#eeeeee" stroke="none" stroke-width="1"/>
<path d="M170.5 526 L180 521 L195 525 L212 526 L228 534 L245 540 L262 548 L280 552 L300 559 L315 562 L325.8 565 L325.8 633.2 L170.5 633.2 Z" fill="#f0e9e4"/>
<path d="M170.5 526 L180 521 L195 525 L212 526 L228 534 L245 540 L262 548 L280 552 L300 559 L315 562 L325.8 565 L325.8 633.2 L170.5 633.2 Z" fill="#000" filter="url(#tissueTex)"/>
<g clip-path="url(#clipT)"><g filter="url(#soft05)"><ellipse cx="220.52" cy="535.5" rx="3.13" ry="0.87" transform="rotate(26 220.52 535.5)" fill="#c07a55" opacity="0.58"/><ellipse cx="311.91" cy="542.9" rx="1.71" ry="1.22" transform="rotate(17 311.91 542.9)" fill="#b86f4c" opacity="0.57"/><ellipse cx="179.22" cy="583.59" rx="3.87" ry="1.43" transform="rotate(33 179.22 583.59)" fill="#c07a55" opacity="0.58"/><ellipse cx="177.74" cy="543.65" rx="2.89" ry="0.93" transform="rotate(19 177.74 543.65)" fill="#a9684a" opacity="0.57"/><ellipse cx="259.06" cy="582.99" rx="3.21" ry="0.9" transform="rotate(26 259.06 582.99)" fill="#b86f4c" opacity="0.39"/><ellipse cx="281.09" cy="583.47" rx="3.05" ry="1.3" transform="rotate(39 281.09 583.47)" fill="#a9684a" opacity="0.48"/><ellipse cx="261.35" cy="570.57" rx="2.25" ry="1.59" transform="rotate(17 261.35 570.57)" fill="#b86f4c" opacity="0.58"/><ellipse cx="251.93" cy="619.52" rx="3.32" ry="1.09" transform="rotate(18 251.93 619.52)" fill="#c07a55" opacity="0.55"/><ellipse cx="195.73" cy="557.68" rx="3.83" ry="1.22" transform="rotate(39 195.73 557.68)" fill="#c07a55" opacity="0.57"/><ellipse cx="293.1" cy="612.93" rx="2.35" ry="1.15" transform="rotate(33 293.1 612.93)" fill="#a9684a" opacity="0.67"/><ellipse cx="180.73" cy="528.86" rx="2.17" ry="1.5" transform="rotate(16 180.73 528.86)" fill="#c07a55" opacity="0.64"/><ellipse cx="218.3" cy="585.04" rx="3.2" ry="1.25" transform="rotate(43 218.3 585.04)" fill="#a9684a" opacity="0.62"/><ellipse cx="173.52" cy="571.56" rx="1.92" ry="0.92" transform="rotate(21 173.52 571.56)" fill="#c07a55" opacity="0.66"/><ellipse cx="190.18" cy="546.72" rx="2.48" ry="1.67" transform="rotate(20 190.18 546.72)" fill="#c07a55" opacity="0.53"/><ellipse cx="255.71" cy="620.47" rx="3.55" ry="1.66" transform="rotate(37 255.71 620.47)" fill="#cc8a62" opacity="0.52"/><ellipse cx="225.97" cy="620.57" rx="3.89" ry="0.95" transform="rotate(19 225.97 620.57)" fill="#b86f4c" opacity="0.44"/><ellipse cx="206.4" cy="574.26" rx="2.97" ry="1.06" transform="rotate(19 206.4 574.26)" fill="#c07a55" opacity="0.52"/><ellipse cx="227.6" cy="583.7" rx="3.88" ry="1.49" transform="rotate(29 227.6 583.7)" fill="#c07a55" opacity="0.71"/><ellipse cx="291.68" cy="619.44" rx="3.49" ry="1.19" transform="rotate(27 291.68 619.44)" fill="#a9684a" opacity="0.39"/><ellipse cx="268.95" cy="525.22" rx="1.67" ry="1.01" transform="rotate(18 268.95 525.22)" fill="#b86f4c" opacity="0.49"/><ellipse cx="178.2" cy="518.03" rx="1.88" ry="0.9" transform="rotate(34 178.2 518.03)" fill="#cc8a62" opacity="0.36"/><ellipse cx="306.4" cy="589.23" rx="1.87" ry="1.05" transform="rotate(34 306.4 589.23)" fill="#cc8a62" opacity="0.5"/><ellipse cx="189.16" cy="616.48" rx="3.98" ry="1.27" transform="rotate(24 189.16 616.48)" fill="#a9684a" opacity="0.38"/><ellipse cx="185.94" cy="557.75" rx="2.16" ry="1.63" transform="rotate(31 185.94 557.75)" fill="#b86f4c" opacity="0.36"/><ellipse cx="318.35" cy="579.28" rx="1.87" ry="1.34" transform="rotate(39 318.35 579.28)" fill="#c07a55" opacity="0.56"/><ellipse cx="322.65" cy="618.15" rx="3.24" ry="1.06" transform="rotate(44 322.65 618.15)" fill="#cc8a62" opacity="0.42"/><ellipse cx="290.42" cy="579.78" rx="3.45" ry="1.13" transform="rotate(34 290.42 579.78)" fill="#b86f4c" opacity="0.67"/><ellipse cx="323.65" cy="616.9" rx="3.52" ry="1.62" transform="rotate(21 323.65 616.9)" fill="#b86f4c" opacity="0.56"/><ellipse cx="225.47" cy="521.36" rx="1.57" ry="1.08" transform="rotate(21 225.47 521.36)" fill="#cc8a62" opacity="0.63"/><ellipse cx="319.22" cy="569.88" rx="3.84" ry="1.79" transform="rotate(17 319.22 569.88)" fill="#cc8a62" opacity="0.44"/><ellipse cx="205.39" cy="540.82" rx="2.01" ry="1.42" transform="rotate(30 205.39 540.82)" fill="#c07a55" opacity="0.71"/><ellipse cx="223.67" cy="592.6" rx="3.59" ry="0.92" transform="rotate(40 223.67 592.6)" fill="#a9684a" opacity="0.63"/><ellipse cx="201.09" cy="621.13" rx="2.58" ry="1.44" transform="rotate(40 201.09 621.13)" fill="#c07a55" opacity="0.73"/><ellipse cx="282.6" cy="571.73" rx="3.36" ry="0.88" transform="rotate(20 282.6 571.73)" fill="#b86f4c" opacity="0.75"/><ellipse cx="174.3" cy="586.53" rx="2.66" ry="1.46" transform="rotate(36 174.3 586.53)" fill="#a9684a" opacity="0.72"/><ellipse cx="194.32" cy="581.6" rx="1.55" ry="1.6" transform="rotate(31 194.32 581.6)" fill="#c07a55" opacity="0.65"/><ellipse cx="191.72" cy="632.44" rx="1.99" ry="1.67" transform="rotate(23 191.72 632.44)" fill="#c07a55" opacity="0.44"/><ellipse cx="248.18" cy="606.59" rx="2.31" ry="1.34" transform="rotate(16 248.18 606.59)" fill="#b86f4c" opacity="0.71"/><ellipse cx="225.19" cy="571.15" rx="2.96" ry="1.7" transform="rotate(41 225.19 571.15)" fill="#a9684a" opacity="0.72"/><ellipse cx="248.26" cy="579.69" rx="2.81" ry="0.82" transform="rotate(39 248.26 579.69)" fill="#a9684a" opacity="0.42"/><ellipse cx="170.61" cy="610.7" rx="1.93" ry="1.27" transform="rotate(32 170.61 610.7)" fill="#c07a55" opacity="0.37"/><ellipse cx="276.44" cy="579.56" rx="2.71" ry="1.58" transform="rotate(22 276.44 579.56)" fill="#c07a55" opacity="0.43"/><ellipse cx="176.58" cy="529.34" rx="2.63" ry="0.83" transform="rotate(29 176.58 529.34)" fill="#c07a55" opacity="0.48"/><ellipse cx="321.84" cy="588.31" rx="2" ry="1.08" transform="rotate(31 321.84 588.31)" fill="#a9684a" opacity="0.73"/><ellipse cx="279.08" cy="619.68" rx="3.86" ry="1.06" transform="rotate(41 279.08 619.68)" fill="#b86f4c" opacity="0.53"/><ellipse cx="235" cy="563.51" rx="2.29" ry="1.47" transform="rotate(17 235 563.51)" fill="#a9684a" opacity="0.44"/><ellipse cx="217.23" cy="532.19" rx="3.44" ry="1.74" transform="rotate(19 217.23 532.19)" fill="#cc8a62" opacity="0.45"/><ellipse cx="191.41" cy="572.26" rx="3.37" ry="0.89" transform="rotate(20 191.41 572.26)" fill="#a9684a" opacity="0.75"/><ellipse cx="299.86" cy="536.73" rx="2.58" ry="1.32" transform="rotate(28 299.86 536.73)" fill="#cc8a62" opacity="0.43"/><ellipse cx="219.69" cy="601.77" rx="1.55" ry="1.35" transform="rotate(37 219.69 601.77)" fill="#a9684a" opacity="0.36"/><ellipse cx="221.71" cy="590.38" rx="2.78" ry="0.86" transform="rotate(43 221.71 590.38)" fill="#b86f4c" opacity="0.39"/><ellipse cx="211.43" cy="522.59" rx="3.45" ry="1.07" transform="rotate(41 211.43 522.59)" fill="#b86f4c" opacity="0.52"/><ellipse cx="312.18" cy="613" rx="2.15" ry="0.95" transform="rotate(37 312.18 613)" fill="#a9684a" opacity="0.48"/><ellipse cx="213.53" cy="610.75" rx="1.96" ry="1.7" transform="rotate(45 213.53 610.75)" fill="#cc8a62" opacity="0.36"/><ellipse cx="183.82" cy="548.22" rx="3.02" ry="1.02" transform="rotate(42 183.82 548.22)" fill="#cc8a62" opacity="0.4"/><ellipse cx="171.8" cy="633.34" rx="2.54" ry="1.72" transform="rotate(16 171.8 633.34)" fill="#b86f4c" opacity="0.56"/><ellipse cx="207.2" cy="530.7" rx="1.9" ry="0.85" transform="rotate(44 207.2 530.7)" fill="#b86f4c" opacity="0.47"/><ellipse cx="217.58" cy="606.1" rx="2.22" ry="1.3" transform="rotate(23 217.58 606.1)" fill="#b86f4c" opacity="0.49"/><ellipse cx="172.83" cy="547.05" rx="1.54" ry="1.53" transform="rotate(31 172.83 547.05)" fill="#b86f4c" opacity="0.54"/><ellipse cx="315.8" cy="530.33" rx="3.55" ry="1.23" transform="rotate(32 315.8 530.33)" fill="#a9684a" opacity="0.68"/><ellipse cx="231.32" cy="576.78" rx="3.22" ry="1.78" transform="rotate(21 231.32 576.78)" fill="#cc8a62" opacity="0.68"/><ellipse cx="280.25" cy="591.77" rx="2.51" ry="1.15" transform="rotate(41 280.25 591.77)" fill="#c07a55" opacity="0.4"/><ellipse cx="181.03" cy="603.94" rx="2.14" ry="0.96" transform="rotate(36 181.03 603.94)" fill="#c07a55" opacity="0.69"/><ellipse cx="305.8" cy="595.78" rx="2.2" ry="1.04" transform="rotate(16 305.8 595.78)" fill="#cc8a62" opacity="0.53"/><ellipse cx="194.58" cy="569.72" rx="2.16" ry="1.76" transform="rotate(22 194.58 569.72)" fill="#cc8a62" opacity="0.36"/><ellipse cx="307.65" cy="543.27" rx="1.96" ry="1.14" transform="rotate(30 307.65 543.27)" fill="#c07a55" opacity="0.46"/><ellipse cx="272.34" cy="546.79" rx="3.44" ry="0.89" transform="rotate(19 272.34 546.79)" fill="#c07a55" opacity="0.51"/><ellipse cx="176.5" cy="520.61" rx="2.26" ry="1.03" transform="rotate(36 176.5 520.61)" fill="#b86f4c" opacity="0.71"/><ellipse cx="292.31" cy="587.2" rx="3.41" ry="1.52" transform="rotate(19 292.31 587.2)" fill="#a9684a" opacity="0.46"/><ellipse cx="266.52" cy="534.79" rx="3.56" ry="1.52" transform="rotate(38 266.52 534.79)" fill="#a9684a" opacity="0.63"/><ellipse cx="248.86" cy="623.55" rx="3.38" ry="1.37" transform="rotate(41 248.86 623.55)" fill="#c07a55" opacity="0.62"/><ellipse cx="294.48" cy="600.5" rx="3.89" ry="1.44" transform="rotate(15 294.48 600.5)" fill="#c07a55" opacity="0.37"/><ellipse cx="269.39" cy="629.3" rx="2.44" ry="1.25" transform="rotate(35 269.39 629.3)" fill="#c07a55" opacity="0.36"/><ellipse cx="252.91" cy="546.37" rx="2.16" ry="1.26" transform="rotate(38 252.91 546.37)" fill="#c07a55" opacity="0.72"/><ellipse cx="310.07" cy="528.67" rx="2.81" ry="1.55" transform="rotate(23 310.07 528.67)" fill="#a9684a" opacity="0.67"/><ellipse cx="302" cy="545.24" rx="3.39" ry="1.03" transform="rotate(30 302 545.24)" fill="#a9684a" opacity="0.69"/><ellipse cx="181.97" cy="623.61" rx="2.22" ry="0.85" transform="rotate(17 181.97 623.61)" fill="#b86f4c" opacity="0.59"/><ellipse cx="221.76" cy="593.58" rx="3.23" ry="1.42" transform="rotate(15 221.76 593.58)" fill="#b86f4c" opacity="0.54"/><ellipse cx="245.78" cy="630.81" rx="1.75" ry="1.02" transform="rotate(24 245.78 630.81)" fill="#a9684a" opacity="0.63"/><ellipse cx="214.54" cy="572.04" rx="3.42" ry="1.79" transform="rotate(24 214.54 572.04)" fill="#b86f4c" opacity="0.74"/><ellipse cx="316.06" cy="520.03" rx="2.65" ry="1.62" transform="rotate(23 316.06 520.03)" fill="#a9684a" opacity="0.5"/><ellipse cx="312.98" cy="625.94" rx="1.69" ry="0.89" transform="rotate(45 312.98 625.94)" fill="#cc8a62" opacity="0.49"/><ellipse cx="264.13" cy="591.27" rx="2.2" ry="0.91" transform="rotate(22 264.13 591.27)" fill="#cc8a62" opacity="0.55"/><ellipse cx="306.68" cy="563.71" rx="1.9" ry="1.75" transform="rotate(27 306.68 563.71)" fill="#a9684a" opacity="0.47"/><ellipse cx="191.95" cy="557.9" rx="2.29" ry="1.64" transform="rotate(25 191.95 557.9)" fill="#c07a55" opacity="0.65"/><ellipse cx="300.9" cy="531.92" rx="3.82" ry="1.51" transform="rotate(23 300.9 531.92)" fill="#cc8a62" opacity="0.5"/><ellipse cx="231.29" cy="633.86" rx="2.97" ry="1.16" transform="rotate(39 231.29 633.86)" fill="#a9684a" opacity="0.46"/><ellipse cx="177.53" cy="529.8" rx="3.59" ry="1.09" transform="rotate(22 177.53 529.8)" fill="#b86f4c" opacity="0.74"/><ellipse cx="238.05" cy="554.61" rx="3.43" ry="1.59" transform="rotate(43 238.05 554.61)" fill="#a9684a" opacity="0.36"/><ellipse cx="288.82" cy="564.4" rx="3.69" ry="1.35" transform="rotate(38 288.82 564.4)" fill="#b86f4c" opacity="0.38"/><ellipse cx="315.62" cy="565.66" rx="3.04" ry="0.94" transform="rotate(30 315.62 565.66)" fill="#cc8a62" opacity="0.37"/><ellipse cx="314.58" cy="532.77" rx="2.68" ry="1.14" transform="rotate(23 314.58 532.77)" fill="#cc8a62" opacity="0.65"/><ellipse cx="322.3" cy="548.18" rx="3.14" ry="1.1" transform="rotate(18 322.3 548.18)" fill="#a9684a" opacity="0.42"/><ellipse cx="195.22" cy="542.11" rx="3.76" ry="1.3" transform="rotate(29 195.22 542.11)" fill="#b86f4c" opacity="0.71"/><ellipse cx="325.45" cy="570.2" rx="1.85" ry="0.99" transform="rotate(20 325.45 570.2)" fill="#c07a55" opacity="0.49"/><ellipse cx="184.21" cy="545.74" rx="2.15" ry="1.37" transform="rotate(38 184.21 545.74)" fill="#c07a55" opacity="0.7"/><ellipse cx="229.72" cy="604.52" rx="2.03" ry="1.07" transform="rotate(30 229.72 604.52)" fill="#c07a55" opacity="0.46"/><ellipse cx="320.96" cy="532.6" rx="2.76" ry="1.43" transform="rotate(17 320.96 532.6)" fill="#b86f4c" opacity="0.46"/><ellipse cx="208.76" cy="564.37" rx="2.61" ry="1.75" transform="rotate(19 208.76 564.37)" fill="#c07a55" opacity="0.36"/><ellipse cx="280.68" cy="621.9" rx="2.68" ry="1.39" transform="rotate(17 280.68 621.9)" fill="#c07a55" opacity="0.51"/><ellipse cx="314.59" cy="613.77" rx="3.64" ry="1.77" transform="rotate(40 314.59 613.77)" fill="#b86f4c" opacity="0.39"/><ellipse cx="194.08" cy="578.59" rx="3.21" ry="1.74" transform="rotate(17 194.08 578.59)" fill="#a9684a" opacity="0.57"/><ellipse cx="176.17" cy="608.75" rx="2.08" ry="1.72" transform="rotate(45 176.17 608.75)" fill="#cc8a62" opacity="0.4"/><ellipse cx="209.28" cy="591.81" rx="3.25" ry="0.91" transform="rotate(24 209.28 591.81)" fill="#c07a55" opacity="0.56"/><ellipse cx="260.93" cy="563.02" rx="2.06" ry="1.4" transform="rotate(32 260.93 563.02)" fill="#c07a55" opacity="0.47"/><ellipse cx="241.87" cy="629.24" rx="3.11" ry="1.68" transform="rotate(31 241.87 629.24)" fill="#a9684a" opacity="0.44"/><ellipse cx="208.54" cy="629.43" rx="3.26" ry="1.11" transform="rotate(21 208.54 629.43)" fill="#c07a55" opacity="0.55"/><ellipse cx="275.22" cy="566.72" rx="2.14" ry="1.47" transform="rotate(22 275.22 566.72)" fill="#cc8a62" opacity="0.55"/><ellipse cx="278.55" cy="601.33" rx="2.41" ry="1.2" transform="rotate(40 278.55 601.33)" fill="#c07a55" opacity="0.47"/><ellipse cx="301.84" cy="525.82" rx="2.74" ry="1" transform="rotate(22 301.84 525.82)" fill="#b86f4c" opacity="0.54"/><ellipse cx="211.34" cy="621.16" rx="1.77" ry="1.42" transform="rotate(43 211.34 621.16)" fill="#b86f4c" opacity="0.44"/><ellipse cx="235.06" cy="595.17" rx="3.87" ry="0.95" transform="rotate(16 235.06 595.17)" fill="#a9684a" opacity="0.44"/><ellipse cx="321.96" cy="534.46" rx="1.63" ry="0.86" transform="rotate(29 321.96 534.46)" fill="#a9684a" opacity="0.71"/><ellipse cx="307.84" cy="603" rx="3.99" ry="1.73" transform="rotate(21 307.84 603)" fill="#cc8a62" opacity="0.42"/><ellipse cx="316" cy="604.57" rx="1.58" ry="1.46" transform="rotate(41 316 604.57)" fill="#a9684a" opacity="0.5"/><ellipse cx="221.74" cy="537.63" rx="1.51" ry="1.08" transform="rotate(28 221.74 537.63)" fill="#cc8a62" opacity="0.73"/><ellipse cx="189.3" cy="629.86" rx="2.02" ry="1.16" transform="rotate(41 189.3 629.86)" fill="#cc8a62" opacity="0.67"/><ellipse cx="183.69" cy="599.81" rx="1.99" ry="1.34" transform="rotate(21 183.69 599.81)" fill="#a9684a" opacity="0.48"/><ellipse cx="285.02" cy="573.05" rx="3.08" ry="1.05" transform="rotate(16 285.02 573.05)" fill="#a9684a" opacity="0.5"/><ellipse cx="242.39" cy="611.19" rx="1.66" ry="0.99" transform="rotate(43 242.39 611.19)" fill="#c07a55" opacity="0.59"/><ellipse cx="226.62" cy="556.86" rx="3.88" ry="0.84" transform="rotate(44 226.62 556.86)" fill="#cc8a62" opacity="0.46"/><ellipse cx="170.59" cy="605.66" rx="3.79" ry="1.43" transform="rotate(15 170.59 605.66)" fill="#c07a55" opacity="0.68"/><ellipse cx="186.73" cy="601.01" rx="2.66" ry="1.58" transform="rotate(44 186.73 601.01)" fill="#cc8a62" opacity="0.52"/><ellipse cx="246.98" cy="625.66" rx="1.96" ry="1.6" transform="rotate(41 246.98 625.66)" fill="#cc8a62" opacity="0.63"/><ellipse cx="193.61" cy="545.39" rx="3.65" ry="1.26" transform="rotate(31 193.61 545.39)" fill="#c07a55" opacity="0.43"/><ellipse cx="287.45" cy="546.69" rx="1.66" ry="0.83" transform="rotate(20 287.45 546.69)" fill="#cc8a62" opacity="0.74"/><ellipse cx="307.82" cy="632.59" rx="2.16" ry="0.88" transform="rotate(28 307.82 632.59)" fill="#c07a55" opacity="0.55"/><ellipse cx="280.72" cy="569.85" rx="2.09" ry="1.22" transform="rotate(38 280.72 569.85)" fill="#b86f4c" opacity="0.57"/><ellipse cx="290.72" cy="606.11" rx="3.45" ry="1.09" transform="rotate(33 290.72 606.11)" fill="#cc8a62" opacity="0.46"/><ellipse cx="209.63" cy="548.2" rx="2.6" ry="0.99" transform="rotate(19 209.63 548.2)" fill="#b86f4c" opacity="0.46"/><ellipse cx="311.58" cy="539.84" rx="1.66" ry="1.05" transform="rotate(31 311.58 539.84)" fill="#b86f4c" opacity="0.56"/><ellipse cx="271.34" cy="529.66" rx="2.66" ry="0.84" transform="rotate(30 271.34 529.66)" fill="#c07a55" opacity="0.7"/><ellipse cx="206.05" cy="570" rx="2.43" ry="1.68" transform="rotate(18 206.05 570)" fill="#b86f4c" opacity="0.37"/><ellipse cx="263.68" cy="614.04" rx="1.99" ry="0.88" transform="rotate(29 263.68 614.04)" fill="#b86f4c" opacity="0.59"/><ellipse cx="290.9" cy="595.11" rx="1.52" ry="1.44" transform="rotate(21 290.9 595.11)" fill="#cc8a62" opacity="0.36"/><ellipse cx="223.04" cy="523.12" rx="4" ry="0.84" transform="rotate(41 223.04 523.12)" fill="#b86f4c" opacity="0.35"/><ellipse cx="221.05" cy="596.69" rx="1.96" ry="1.11" transform="rotate(16 221.05 596.69)" fill="#b86f4c" opacity="0.67"/><ellipse cx="255.49" cy="525.34" rx="1.75" ry="1.2" transform="rotate(35 255.49 525.34)" fill="#b86f4c" opacity="0.56"/><ellipse cx="271.88" cy="564.14" rx="2.18" ry="1.79" transform="rotate(28 271.88 564.14)" fill="#cc8a62" opacity="0.73"/><ellipse cx="218.73" cy="583.72" rx="2.39" ry="1.22" transform="rotate(35 218.73 583.72)" fill="#cc8a62" opacity="0.43"/><ellipse cx="283.57" cy="541.63" rx="1.51" ry="1.7" transform="rotate(18 283.57 541.63)" fill="#a9684a" opacity="0.68"/><ellipse cx="233.37" cy="620.41" rx="2.65" ry="0.96" transform="rotate(16 233.37 620.41)" fill="#c07a55" opacity="0.57"/><ellipse cx="269.94" cy="623.54" rx="1.72" ry="1.42" transform="rotate(38 269.94 623.54)" fill="#cc8a62" opacity="0.55"/><ellipse cx="192.76" cy="550.86" rx="2.8" ry="1.73" transform="rotate(27 192.76 550.86)" fill="#c07a55" opacity="0.55"/><ellipse cx="295.55" cy="630.16" rx="1.99" ry="0.93" transform="rotate(44 295.55 630.16)" fill="#c07a55" opacity="0.54"/><ellipse cx="178.33" cy="625.44" rx="2.47" ry="1.7" transform="rotate(35 178.33 625.44)" fill="#b86f4c" opacity="0.66"/><ellipse cx="204.64" cy="564.92" rx="3.62" ry="1.63" transform="rotate(33 204.64 564.92)" fill="#b86f4c" opacity="0.44"/><ellipse cx="232.36" cy="578.08" rx="2.46" ry="0.92" transform="rotate(38 232.36 578.08)" fill="#b86f4c" opacity="0.68"/><ellipse cx="200.04" cy="620.53" rx="3.61" ry="1.47" transform="rotate(18 200.04 620.53)" fill="#cc8a62" opacity="0.51"/><ellipse cx="241.09" cy="616.49" rx="3.45" ry="1.45" transform="rotate(33 241.09 616.49)" fill="#cc8a62" opacity="0.45"/><ellipse cx="230.72" cy="560.62" rx="2.76" ry="0.98" transform="rotate(34 230.72 560.62)" fill="#c07a55" opacity="0.74"/><ellipse cx="242.58" cy="569.83" rx="3.05" ry="1.62" transform="rotate(40 242.58 569.83)" fill="#b86f4c" opacity="0.54"/><ellipse cx="186.7" cy="532.9" rx="2.58" ry="0.89" transform="rotate(31 186.7 532.9)" fill="#a9684a" opacity="0.55"/><ellipse cx="176.36" cy="591.83" rx="1.71" ry="1.53" transform="rotate(16 176.36 591.83)" fill="#c07a55" opacity="0.65"/><ellipse cx="309.6" cy="593.72" rx="3.46" ry="0.83" transform="rotate(34 309.6 593.72)" fill="#c07a55" opacity="0.64"/><ellipse cx="297.14" cy="540.47" rx="3.95" ry="1.29" transform="rotate(36 297.14 540.47)" fill="#b86f4c" opacity="0.67"/><ellipse cx="315.17" cy="525.6" rx="2.38" ry="1.56" transform="rotate(25 315.17 525.6)" fill="#b86f4c" opacity="0.71"/><ellipse cx="212.9" cy="612.61" rx="1.86" ry="1.3" transform="rotate(21 212.9 612.61)" fill="#a9684a" opacity="0.59"/><ellipse cx="266.08" cy="545.54" rx="2.43" ry="1" transform="rotate(20 266.08 545.54)" fill="#a9684a" opacity="0.6"/><ellipse cx="213.4" cy="556.03" rx="2.44" ry="1.59" transform="rotate(18 213.4 556.03)" fill="#cc8a62" opacity="0.66"/><ellipse cx="177.58" cy="617.56" rx="3.92" ry="1.25" transform="rotate(23 177.58 617.56)" fill="#c07a55" opacity="0.75"/><ellipse cx="268.25" cy="563.73" rx="3.49" ry="1.06" transform="rotate(33 268.25 563.73)" fill="#cc8a62" opacity="0.41"/><ellipse cx="221.61" cy="527.44" rx="2.08" ry="1.42" transform="rotate(24 221.61 527.44)" fill="#c07a55" opacity="0.68"/><ellipse cx="209.57" cy="592.15" rx="3.96" ry="1.39" transform="rotate(38 209.57 592.15)" fill="#cc8a62" opacity="0.35"/><ellipse cx="175.27" cy="535.33" rx="3.04" ry="1.23" transform="rotate(43 175.27 535.33)" fill="#cc8a62" opacity="0.37"/><ellipse cx="246.19" cy="589.05" rx="1.61" ry="0.85" transform="rotate(24 246.19 589.05)" fill="#cc8a62" opacity="0.39"/><ellipse cx="225.72" cy="544.01" rx="2.96" ry="1.39" transform="rotate(26 225.72 544.01)" fill="#b86f4c" opacity="0.6"/><ellipse cx="244.08" cy="533.63" rx="3.84" ry="1.04" transform="rotate(29 244.08 533.63)" fill="#b86f4c" opacity="0.39"/><ellipse cx="269.56" cy="619.07" rx="3.46" ry="1.2" transform="rotate(45 269.56 619.07)" fill="#cc8a62" opacity="0.35"/><ellipse cx="270.61" cy="583.23" rx="2.38" ry="1.45" transform="rotate(34 270.61 583.23)" fill="#a9684a" opacity="0.72"/><ellipse cx="284.43" cy="546.83" rx="3.76" ry="0.84" transform="rotate(27 284.43 546.83)" fill="#c07a55" opacity="0.42"/><ellipse cx="194.84" cy="623.76" rx="1.76" ry="1.41" transform="rotate(19 194.84 623.76)" fill="#b86f4c" opacity="0.52"/><ellipse cx="250.85" cy="592.55" rx="3.12" ry="1.22" transform="rotate(31 250.85 592.55)" fill="#b86f4c" opacity="0.47"/><ellipse cx="216.84" cy="523.62" rx="3.72" ry="1.58" transform="rotate(27 216.84 523.62)" fill="#c07a55" opacity="0.69"/><ellipse cx="286.25" cy="571.97" rx="3.35" ry="1.25" transform="rotate(18 286.25 571.97)" fill="#b86f4c" opacity="0.45"/><ellipse cx="270.47" cy="532.3" rx="3.73" ry="1.73" transform="rotate(37 270.47 532.3)" fill="#cc8a62" opacity="0.37"/><ellipse cx="269.2" cy="596.79" rx="3.21" ry="1.72" transform="rotate(24 269.2 596.79)" fill="#cc8a62" opacity="0.61"/><ellipse cx="320.56" cy="543.17" rx="3.7" ry="0.82" transform="rotate(43 320.56 543.17)" fill="#cc8a62" opacity="0.44"/><ellipse cx="286.05" cy="627.58" rx="3.37" ry="1.13" transform="rotate(25 286.05 627.58)" fill="#a9684a" opacity="0.59"/><ellipse cx="229.19" cy="616.82" rx="3.8" ry="1.78" transform="rotate(30 229.19 616.82)" fill="#a9684a" opacity="0.69"/><ellipse cx="278.83" cy="617.47" rx="2.59" ry="1.52" transform="rotate(40 278.83 617.47)" fill="#cc8a62" opacity="0.43"/><ellipse cx="267.13" cy="527.03" rx="3.78" ry="0.94" transform="rotate(18 267.13 527.03)" fill="#c07a55" opacity="0.39"/><ellipse cx="314.92" cy="558" rx="1.85" ry="0.83" transform="rotate(19 314.92 558)" fill="#c07a55" opacity="0.63"/><ellipse cx="268.88" cy="598.85" rx="3.34" ry="0.87" transform="rotate(21 268.88 598.85)" fill="#cc8a62" opacity="0.68"/><ellipse cx="297.85" cy="621.39" rx="1.66" ry="1.67" transform="rotate(18 297.85 621.39)" fill="#a9684a" opacity="0.45"/><ellipse cx="201.69" cy="521.93" rx="3.87" ry="1.71" transform="rotate(41 201.69 521.93)" fill="#c07a55" opacity="0.65"/><ellipse cx="268.63" cy="573.35" rx="1.83" ry="1.59" transform="rotate(24 268.63 573.35)" fill="#b86f4c" opacity="0.48"/><ellipse cx="236.11" cy="520.43" rx="2.14" ry="1.08" transform="rotate(44 236.11 520.43)" fill="#cc8a62" opacity="0.48"/><ellipse cx="320.38" cy="576.43" rx="3.63" ry="1.42" transform="rotate(40 320.38 576.43)" fill="#c07a55" opacity="0.52"/><ellipse cx="238.09" cy="607.67" rx="2.37" ry="1.5" transform="rotate(37 238.09 607.67)" fill="#b86f4c" opacity="0.69"/><ellipse cx="184.18" cy="613.1" rx="1.93" ry="0.8" transform="rotate(24 184.18 613.1)" fill="#b86f4c" opacity="0.65"/><ellipse cx="322.55" cy="518.51" rx="2.73" ry="1.29" transform="rotate(45 322.55 518.51)" fill="#b86f4c" opacity="0.55"/><ellipse cx="224.16" cy="614.49" rx="2.15" ry="1.74" transform="rotate(41 224.16 614.49)" fill="#cc8a62" opacity="0.44"/><ellipse cx="279.12" cy="575.8" rx="1.77" ry="1.44" transform="rotate(30 279.12 575.8)" fill="#c07a55" opacity="0.67"/><ellipse cx="278.76" cy="609.28" rx="3.07" ry="1.16" transform="rotate(44 278.76 609.28)" fill="#a9684a" opacity="0.51"/><ellipse cx="308.9" cy="528" rx="3.72" ry="0.83" transform="rotate(24 308.9 528)" fill="#b86f4c" opacity="0.46"/><ellipse cx="310.59" cy="576.14" rx="2.45" ry="1.68" transform="rotate(45 310.59 576.14)" fill="#b86f4c" opacity="0.53"/><ellipse cx="252.92" cy="605.52" rx="3.38" ry="1.45" transform="rotate(33 252.92 605.52)" fill="#cc8a62" opacity="0.48"/><ellipse cx="194.23" cy="615.8" rx="3.16" ry="1.54" transform="rotate(29 194.23 615.8)" fill="#b86f4c" opacity="0.53"/><ellipse cx="290.66" cy="585.18" rx="1.82" ry="1.26" transform="rotate(31 290.66 585.18)" fill="#b86f4c" opacity="0.43"/><ellipse cx="217.04" cy="599.57" rx="3.61" ry="0.95" transform="rotate(22 217.04 599.57)" fill="#b86f4c" opacity="0.64"/><ellipse cx="264.05" cy="558.44" rx="2.09" ry="1.76" transform="rotate(45 264.05 558.44)" fill="#cc8a62" opacity="0.64"/><ellipse cx="185.88" cy="629.64" rx="1.75" ry="1.18" transform="rotate(40 185.88 629.64)" fill="#b86f4c" opacity="0.47"/><ellipse cx="216.4" cy="549.76" rx="1.77" ry="1.71" transform="rotate(21 216.4 549.76)" fill="#cc8a62" opacity="0.7"/><ellipse cx="242.37" cy="519.46" rx="3.64" ry="1.24" transform="rotate(31 242.37 519.46)" fill="#b86f4c" opacity="0.74"/><ellipse cx="216.21" cy="520.57" rx="2.14" ry="1.54" transform="rotate(38 216.21 520.57)" fill="#c07a55" opacity="0.45"/><ellipse cx="303.05" cy="599.33" rx="2.97" ry="1.45" transform="rotate(36 303.05 599.33)" fill="#b86f4c" opacity="0.64"/><ellipse cx="307.29" cy="607.79" rx="3.25" ry="1.65" transform="rotate(35 307.29 607.79)" fill="#b86f4c" opacity="0.4"/><ellipse cx="237.47" cy="548.14" rx="3.25" ry="1.69" transform="rotate(40 237.47 548.14)" fill="#b86f4c" opacity="0.51"/><ellipse cx="281.17" cy="536.15" rx="3.62" ry="1.28" transform="rotate(34 281.17 536.15)" fill="#c07a55" opacity="0.69"/><ellipse cx="250.85" cy="594.69" rx="3.68" ry="1.69" transform="rotate(39 250.85 594.69)" fill="#cc8a62" opacity="0.35"/><ellipse cx="299.77" cy="623.35" rx="1.77" ry="1.05" transform="rotate(20 299.77 623.35)" fill="#b86f4c" opacity="0.64"/><ellipse cx="318.41" cy="541.18" rx="2.37" ry="1.65" transform="rotate(32 318.41 541.18)" fill="#a9684a" opacity="0.43"/><ellipse cx="244.21" cy="519.87" rx="3.48" ry="1.17" transform="rotate(28 244.21 519.87)" fill="#cc8a62" opacity="0.65"/><ellipse cx="241.28" cy="632.87" rx="1.96" ry="1.31" transform="rotate(38 241.28 632.87)" fill="#c07a55" opacity="0.74"/><ellipse cx="225.45" cy="524.57" rx="2.19" ry="1.2" transform="rotate(17 225.45 524.57)" fill="#c07a55" opacity="0.52"/><ellipse cx="235.61" cy="599" rx="2.38" ry="1.07" transform="rotate(24 235.61 599)" fill="#b86f4c" opacity="0.65"/><ellipse cx="316.63" cy="579.14" rx="2.05" ry="1.6" transform="rotate(29 316.63 579.14)" fill="#a9684a" opacity="0.43"/><ellipse cx="190.17" cy="608.09" rx="3.52" ry="1.43" transform="rotate(35 190.17 608.09)" fill="#a9684a" opacity="0.57"/><ellipse cx="205.25" cy="629.81" rx="2.38" ry="1.44" transform="rotate(29 205.25 629.81)" fill="#a9684a" opacity="0.75"/><ellipse cx="288.54" cy="593.35" rx="3.45" ry="1.27" transform="rotate(23 288.54 593.35)" fill="#b86f4c" opacity="0.63"/><ellipse cx="277.24" cy="632.02" rx="3.2" ry="1.28" transform="rotate(26 277.24 632.02)" fill="#cc8a62" opacity="0.45"/><ellipse cx="217.08" cy="573.63" rx="2.57" ry="1.44" transform="rotate(19 217.08 573.63)" fill="#cc8a62" opacity="0.72"/><ellipse cx="303.29" cy="524.62" rx="3.57" ry="1.71" transform="rotate(31 303.29 524.62)" fill="#b86f4c" opacity="0.68"/><ellipse cx="268.77" cy="519.74" rx="1.53" ry="1.75" transform="rotate(23 268.77 519.74)" fill="#cc8a62" opacity="0.59"/><ellipse cx="260.24" cy="617.08" rx="1.96" ry="1.25" transform="rotate(21 260.24 617.08)" fill="#b86f4c" opacity="0.71"/><ellipse cx="293.5" cy="537.48" rx="3.73" ry="1.41" transform="rotate(36 293.5 537.48)" fill="#c07a55" opacity="0.71"/><ellipse cx="255.57" cy="591.85" rx="2.24" ry="1.29" transform="rotate(31 255.57 591.85)" fill="#b86f4c" opacity="0.38"/><ellipse cx="300.93" cy="595.86" rx="1.79" ry="0.92" transform="rotate(22 300.93 595.86)" fill="#a9684a" opacity="0.68"/><ellipse cx="243.83" cy="582.64" rx="2.71" ry="1.71" transform="rotate(22 243.83 582.64)" fill="#a9684a" opacity="0.55"/><ellipse cx="254.17" cy="618.09" rx="1.52" ry="1.64" transform="rotate(37 254.17 618.09)" fill="#a9684a" opacity="0.58"/><ellipse cx="273.79" cy="615.51" rx="2.44" ry="1.22" transform="rotate(20 273.79 615.51)" fill="#c07a55" opacity="0.6"/><ellipse cx="269.24" cy="521.31" rx="3.02" ry="1.48" transform="rotate(40 269.24 521.31)" fill="#cc8a62" opacity="0.74"/><ellipse cx="249.66" cy="574.22" rx="3.74" ry="0.83" transform="rotate(35 249.66 574.22)" fill="#a9684a" opacity="0.4"/><ellipse cx="184.74" cy="594.45" rx="2.35" ry="1.58" transform="rotate(24 184.74 594.45)" fill="#b86f4c" opacity="0.52"/><ellipse cx="235.89" cy="582.27" rx="3.57" ry="1.09" transform="rotate(27 235.89 582.27)" fill="#a9684a" opacity="0.48"/><ellipse cx="323.55" cy="619.26" rx="2.36" ry="1" transform="rotate(40 323.55 619.26)" fill="#a9684a" opacity="0.4"/><ellipse cx="200" cy="600.73" rx="1.82" ry="1.77" transform="rotate(40 200 600.73)" fill="#c07a55" opacity="0.75"/><ellipse cx="232.23" cy="582.3" rx="2.52" ry="1.37" transform="rotate(24 232.23 582.3)" fill="#a9684a" opacity="0.39"/><ellipse cx="177.24" cy="613.35" rx="2.69" ry="1.57" transform="rotate(40 177.24 613.35)" fill="#c07a55" opacity="0.55"/><ellipse cx="254.81" cy="561.62" rx="1.87" ry="1.47" transform="rotate(21 254.81 561.62)" fill="#c07a55" opacity="0.37"/><ellipse cx="268.84" cy="590.53" rx="1.93" ry="1.46" transform="rotate(28 268.84 590.53)" fill="#c07a55" opacity="0.66"/><ellipse cx="312.6" cy="594.06" rx="2.42" ry="1.62" transform="rotate(32 312.6 594.06)" fill="#cc8a62" opacity="0.63"/><ellipse cx="304.54" cy="539.43" rx="1.59" ry="0.82" transform="rotate(30 304.54 539.43)" fill="#c07a55" opacity="0.58"/><ellipse cx="176.14" cy="531.79" rx="3.53" ry="1.38" transform="rotate(29 176.14 531.79)" fill="#a9684a" opacity="0.38"/><ellipse cx="276.07" cy="586.89" rx="3.98" ry="1.46" transform="rotate(30 276.07 586.89)" fill="#b86f4c" opacity="0.66"/><ellipse cx="255.61" cy="527.62" rx="2.68" ry="1.7" transform="rotate(28 255.61 527.62)" fill="#c07a55" opacity="0.35"/><ellipse cx="276.67" cy="532.11" rx="3.92" ry="0.89" transform="rotate(19 276.67 532.11)" fill="#c07a55" opacity="0.54"/><ellipse cx="212.97" cy="584" rx="2.63" ry="1.54" transform="rotate(26 212.97 584)" fill="#c07a55" opacity="0.66"/><ellipse cx="281.31" cy="617.24" rx="3.32" ry="0.88" transform="rotate(29 281.31 617.24)" fill="#a9684a" opacity="0.62"/><ellipse cx="308.84" cy="623.97" rx="1.63" ry="0.83" transform="rotate(15 308.84 623.97)" fill="#c07a55" opacity="0.7"/><ellipse cx="277.12" cy="589.71" rx="2.47" ry="1.11" transform="rotate(45 277.12 589.71)" fill="#b86f4c" opacity="0.69"/><ellipse cx="245.87" cy="524.93" rx="2.42" ry="1.37" transform="rotate(30 245.87 524.93)" fill="#a9684a" opacity="0.62"/><ellipse cx="192.61" cy="610.49" rx="2.41" ry="1.44" transform="rotate(30 192.61 610.49)" fill="#a9684a" opacity="0.5"/><ellipse cx="292.65" cy="627.61" rx="3.46" ry="1.37" transform="rotate(23 292.65 627.61)" fill="#cc8a62" opacity="0.37"/><ellipse cx="321.94" cy="599.58" rx="3.57" ry="1.13" transform="rotate(41 321.94 599.58)" fill="#c07a55" opacity="0.41"/><ellipse cx="299.89" cy="585.82" rx="3.94" ry="1.05" transform="rotate(36 299.89 585.82)" fill="#a9684a" opacity="0.5"/><ellipse cx="290.35" cy="545.18" rx="2.63" ry="1.49" transform="rotate(23 290.35 545.18)" fill="#cc8a62" opacity="0.46"/><ellipse cx="194.54" cy="624.79" rx="3.41" ry="1.58" transform="rotate(41 194.54 624.79)" fill="#cc8a62" opacity="0.41"/><ellipse cx="308.94" cy="633.17" rx="1.87" ry="1.78" transform="rotate(26 308.94 633.17)" fill="#a9684a" opacity="0.56"/><ellipse cx="254.24" cy="574.23" rx="2.45" ry="1.59" transform="rotate(24 254.24 574.23)" fill="#b86f4c" opacity="0.59"/><ellipse cx="275.72" cy="571.98" rx="2.02" ry="1.05" transform="rotate(40 275.72 571.98)" fill="#c07a55" opacity="0.5"/><ellipse cx="254.33" cy="580.19" rx="2.39" ry="0.86" transform="rotate(33 254.33 580.19)" fill="#a9684a" opacity="0.56"/><ellipse cx="210.49" cy="614.67" rx="2.3" ry="1.31" transform="rotate(21 210.49 614.67)" fill="#b86f4c" opacity="0.44"/><ellipse cx="184.38" cy="611.48" rx="2.22" ry="1.38" transform="rotate(27 184.38 611.48)" fill="#cc8a62" opacity="0.66"/><ellipse cx="303.68" cy="546.57" rx="3.81" ry="1.29" transform="rotate(26 303.68 546.57)" fill="#c07a55" opacity="0.6"/><ellipse cx="292.83" cy="536.11" rx="2.99" ry="1.14" transform="rotate(18 292.83 536.11)" fill="#c07a55" opacity="0.36"/><ellipse cx="324.5" cy="618.47" rx="2.72" ry="1.37" transform="rotate(44 324.5 618.47)" fill="#cc8a62" opacity="0.66"/><ellipse cx="236.45" cy="627.79" rx="3.42" ry="1.62" transform="rotate(23 236.45 627.79)" fill="#b86f4c" opacity="0.69"/><ellipse cx="222.86" cy="633.38" rx="2.45" ry="0.83" transform="rotate(32 222.86 633.38)" fill="#c07a55" opacity="0.5"/><ellipse cx="280.07" cy="574.47" rx="3.61" ry="1.69" transform="rotate(44 280.07 574.47)" fill="#a9684a" opacity="0.4"/><ellipse cx="319.65" cy="547.83" rx="2.91" ry="1.44" transform="rotate(20 319.65 547.83)" fill="#a9684a" opacity="0.53"/><ellipse cx="194.92" cy="630.03" rx="3.98" ry="1.02" transform="rotate(45 194.92 630.03)" fill="#c07a55" opacity="0.45"/><ellipse cx="224.91" cy="622.72" rx="3.76" ry="1.64" transform="rotate(23 224.91 622.72)" fill="#c07a55" opacity="0.66"/><ellipse cx="280.7" cy="593.02" rx="3.96" ry="0.86" transform="rotate(25 280.7 593.02)" fill="#b86f4c" opacity="0.65"/><ellipse cx="316.54" cy="596.52" rx="2.25" ry="1.39" transform="rotate(30 316.54 596.52)" fill="#c07a55" opacity="0.48"/><ellipse cx="210.09" cy="532.4" rx="2.7" ry="0.97" transform="rotate(40 210.09 532.4)" fill="#b86f4c" opacity="0.41"/><ellipse cx="275.71" cy="519.46" rx="3.29" ry="1" transform="rotate(20 275.71 519.46)" fill="#c07a55" opacity="0.72"/><ellipse cx="204.41" cy="626.34" rx="3.67" ry="1.69" transform="rotate(39 204.41 626.34)" fill="#b86f4c" opacity="0.53"/><ellipse cx="185.13" cy="625.74" rx="3.61" ry="1.43" transform="rotate(25 185.13 625.74)" fill="#a9684a" opacity="0.48"/><ellipse cx="206.49" cy="531.41" rx="2.42" ry="1.13" transform="rotate(20 206.49 531.41)" fill="#c07a55" opacity="0.64"/><ellipse cx="256.33" cy="534.79" rx="3.68" ry="1.07" transform="rotate(22 256.33 534.79)" fill="#a9684a" opacity="0.41"/><ellipse cx="212.29" cy="615.39" rx="2.34" ry="0.97" transform="rotate(18 212.29 615.39)" fill="#a9684a" opacity="0.48"/><ellipse cx="310.89" cy="531.24" rx="3.95" ry="0.86" transform="rotate(32 310.89 531.24)" fill="#b86f4c" opacity="0.54"/><ellipse cx="214.65" cy="547.9" rx="2" ry="1.16" transform="rotate(22 214.65 547.9)" fill="#cc8a62" opacity="0.72"/><ellipse cx="185.22" cy="551.57" rx="3.74" ry="0.86" transform="rotate(19 185.22 551.57)" fill="#cc8a62" opacity="0.74"/><ellipse cx="172.5" cy="611.61" rx="2.35" ry="0.94" transform="rotate(40 172.5 611.61)" fill="#c07a55" opacity="0.68"/><ellipse cx="252.15" cy="539.56" rx="2.59" ry="1.71" transform="rotate(23 252.15 539.56)" fill="#b86f4c" opacity="0.58"/><ellipse cx="191.54" cy="538.9" rx="3.43" ry="1.51" transform="rotate(34 191.54 538.9)" fill="#b86f4c" opacity="0.38"/><ellipse cx="183.64" cy="588.59" rx="2.74" ry="1.07" transform="rotate(19 183.64 588.59)" fill="#b86f4c" opacity="0.59"/><ellipse cx="280.41" cy="612.14" rx="2.96" ry="1" transform="rotate(37 280.41 612.14)" fill="#c07a55" opacity="0.64"/><ellipse cx="233.67" cy="601.71" rx="1.64" ry="1.61" transform="rotate(24 233.67 601.71)" fill="#cc8a62" opacity="0.69"/><ellipse cx="304.86" cy="575.19" rx="1.54" ry="1.71" transform="rotate(19 304.86 575.19)" fill="#a9684a" opacity="0.7"/><ellipse cx="211.54" cy="539.58" rx="3.58" ry="1.17" transform="rotate(37 211.54 539.58)" fill="#b86f4c" opacity="0.5"/><ellipse cx="262.8" cy="518.54" rx="2.8" ry="1.25" transform="rotate(18 262.8 518.54)" fill="#c07a55" opacity="0.49"/><ellipse cx="208.18" cy="614.29" rx="3.78" ry="1.58" transform="rotate(33 208.18 614.29)" fill="#a9684a" opacity="0.65"/><ellipse cx="179.55" cy="619.25" rx="3.89" ry="1.29" transform="rotate(31 179.55 619.25)" fill="#c07a55" opacity="0.67"/><ellipse cx="190.96" cy="546.25" rx="1.72" ry="1.42" transform="rotate(18 190.96 546.25)" fill="#b86f4c" opacity="0.47"/><ellipse cx="256.64" cy="628.82" rx="1.55" ry="1.73" transform="rotate(23 256.64 628.82)" fill="#b86f4c" opacity="0.36"/><ellipse cx="263.51" cy="584.87" rx="2.81" ry="1.5" transform="rotate(26 263.51 584.87)" fill="#c07a55" opacity="0.7"/><ellipse cx="281.87" cy="523.24" rx="1.81" ry="1.29" transform="rotate(18 281.87 523.24)" fill="#cc8a62" opacity="0.4"/><ellipse cx="233.28" cy="533.89" rx="2.98" ry="1.66" transform="rotate(36 233.28 533.89)" fill="#b86f4c" opacity="0.58"/><ellipse cx="286.47" cy="537.06" rx="3.57" ry="1.74" transform="rotate(37 286.47 537.06)" fill="#a9684a" opacity="0.52"/><ellipse cx="301" cy="578.97" rx="2.49" ry="1.74" transform="rotate(25 301 578.97)" fill="#cc8a62" opacity="0.51"/><ellipse cx="300.82" cy="601" rx="3.61" ry="1.36" transform="rotate(41 300.82 601)" fill="#cc8a62" opacity="0.51"/><ellipse cx="257.53" cy="555.69" rx="1.87" ry="1.48" transform="rotate(22 257.53 555.69)" fill="#cc8a62" opacity="0.7"/><ellipse cx="273.45" cy="519.34" rx="1.77" ry="0.99" transform="rotate(28 273.45 519.34)" fill="#cc8a62" opacity="0.43"/><ellipse cx="274.39" cy="544.16" rx="2.55" ry="1.2" transform="rotate(35 274.39 544.16)" fill="#a9684a" opacity="0.37"/><ellipse cx="322.91" cy="630.9" rx="1.6" ry="1.67" transform="rotate(44 322.91 630.9)" fill="#cc8a62" opacity="0.62"/><ellipse cx="212.66" cy="580.9" rx="3.81" ry="1.42" transform="rotate(18 212.66 580.9)" fill="#cc8a62" opacity="0.56"/><ellipse cx="237.66" cy="628.3" rx="2.22" ry="1.11" transform="rotate(18 237.66 628.3)" fill="#b86f4c" opacity="0.37"/><ellipse cx="319.62" cy="624.84" rx="3.75" ry="0.88" transform="rotate(29 319.62 624.84)" fill="#b86f4c" opacity="0.4"/><ellipse cx="190.49" cy="552.06" rx="2.52" ry="1.09" transform="rotate(38 190.49 552.06)" fill="#b86f4c" opacity="0.39"/><ellipse cx="255.23" cy="615.41" rx="3.02" ry="1.37" transform="rotate(21 255.23 615.41)" fill="#a9684a" opacity="0.57"/><ellipse cx="227.22" cy="621.45" rx="2.26" ry="1.28" transform="rotate(15 227.22 621.45)" fill="#cc8a62" opacity="0.45"/><ellipse cx="204.57" cy="577.44" rx="2.46" ry="1.39" transform="rotate(44 204.57 577.44)" fill="#c07a55" opacity="0.49"/><ellipse cx="304.45" cy="545.67" rx="2.89" ry="1.29" transform="rotate(43 304.45 545.67)" fill="#cc8a62" opacity="0.75"/><ellipse cx="216.1" cy="607.57" rx="1.9" ry="0.87" transform="rotate(29 216.1 607.57)" fill="#cc8a62" opacity="0.61"/><ellipse cx="250.65" cy="614.78" rx="2.39" ry="1.56" transform="rotate(45 250.65 614.78)" fill="#b86f4c" opacity="0.62"/><ellipse cx="315.7" cy="566.34" rx="3.17" ry="0.94" transform="rotate(34 315.7 566.34)" fill="#b86f4c" opacity="0.59"/><ellipse cx="213.17" cy="615.32" rx="1.74" ry="1.66" transform="rotate(23 213.17 615.32)" fill="#a9684a" opacity="0.66"/><ellipse cx="280.53" cy="624.11" rx="1.82" ry="1.67" transform="rotate(28 280.53 624.11)" fill="#c07a55" opacity="0.66"/><ellipse cx="261.39" cy="575.75" rx="3.91" ry="1.37" transform="rotate(42 261.39 575.75)" fill="#a9684a" opacity="0.66"/><ellipse cx="306.15" cy="588.45" rx="2.45" ry="1.25" transform="rotate(24 306.15 588.45)" fill="#a9684a" opacity="0.64"/><ellipse cx="215.7" cy="563.32" rx="2.89" ry="1.18" transform="rotate(15 215.7 563.32)" fill="#cc8a62" opacity="0.66"/><ellipse cx="302.53" cy="575.95" rx="2.61" ry="0.98" transform="rotate(40 302.53 575.95)" fill="#cc8a62" opacity="0.41"/><ellipse cx="259.77" cy="585.46" rx="1.72" ry="1.72" transform="rotate(41 259.77 585.46)" fill="#cc8a62" opacity="0.59"/><ellipse cx="207.85" cy="555.79" rx="3.93" ry="1.69" transform="rotate(15 207.85 555.79)" fill="#c07a55" opacity="0.37"/><ellipse cx="258.13" cy="575.69" rx="3.8" ry="1.57" transform="rotate(31 258.13 575.69)" fill="#a9684a" opacity="0.68"/><ellipse cx="283.43" cy="567.89" rx="2.66" ry="0.84" transform="rotate(29 283.43 567.89)" fill="#cc8a62" opacity="0.73"/></g><g fill="#6d74b8" opacity="0.75"><circle cx="275.53" cy="578.93" r="0.54"/><circle cx="228.41" cy="564.5" r="0.75"/><circle cx="259.55" cy="620.06" r="0.93"/><circle cx="245.93" cy="569.06" r="0.78"/><circle cx="325.4" cy="557.82" r="0.74"/><circle cx="297.28" cy="537.8" r="0.64"/><circle cx="322.63" cy="613.82" r="0.73"/><circle cx="187.24" cy="621.76" r="0.81"/><circle cx="298.01" cy="632.87" r="0.9"/><circle cx="235.66" cy="536.14" r="0.63"/><circle cx="249.81" cy="576.57" r="0.58"/><circle cx="198.46" cy="591.09" r="0.77"/><circle cx="225.1" cy="633.27" r="0.79"/><circle cx="176.6" cy="565.72" r="0.85"/><circle cx="217.85" cy="598.12" r="0.5"/><circle cx="217.5" cy="615.69" r="0.76"/><circle cx="274.22" cy="540.81" r="0.72"/><circle cx="256.31" cy="548.86" r="0.79"/><circle cx="252.91" cy="633.66" r="0.76"/><circle cx="234.13" cy="532.09" r="0.57"/><circle cx="288.48" cy="530.37" r="0.55"/><circle cx="196.6" cy="578.61" r="0.87"/><circle cx="265.63" cy="611.57" r="0.53"/><circle cx="171.95" cy="607.39" r="0.65"/><circle cx="281.61" cy="559.05" r="0.58"/><circle cx="211.59" cy="529.54" r="0.91"/><circle cx="260.83" cy="558.47" r="0.7"/><circle cx="230.16" cy="524.34" r="0.9"/><circle cx="260.9" cy="629.32" r="0.7"/><circle cx="266.75" cy="546.92" r="0.52"/><circle cx="315.21" cy="617.15" r="0.64"/><circle cx="310.22" cy="612.64" r="0.64"/><circle cx="264" cy="629.36" r="0.72"/><circle cx="318.15" cy="546.18" r="0.68"/><circle cx="282.08" cy="543.68" r="0.64"/><circle cx="306.55" cy="574.19" r="0.86"/><circle cx="207.97" cy="538.12" r="0.66"/><circle cx="199.1" cy="630.7" r="0.63"/><circle cx="257.6" cy="531.33" r="0.74"/><circle cx="230.15" cy="564.77" r="0.53"/><circle cx="189.23" cy="613.8" r="0.66"/><circle cx="208.21" cy="540.18" r="0.63"/><circle cx="207" cy="522.05" r="0.8"/><circle cx="223.26" cy="536.08" r="0.82"/><circle cx="184.45" cy="549.28" r="0.88"/><circle cx="189.94" cy="569.42" r="0.88"/><circle cx="295.57" cy="536.47" r="0.66"/><circle cx="282.7" cy="561.72" r="0.93"/><circle cx="202.46" cy="628.31" r="0.73"/><circle cx="205.45" cy="570.51" r="0.56"/><circle cx="280.21" cy="548.25" r="0.9"/><circle cx="261.66" cy="560.69" r="0.61"/><circle cx="264.88" cy="542.65" r="0.89"/><circle cx="189.16" cy="577.51" r="0.74"/><circle cx="212.18" cy="607.52" r="0.67"/><circle cx="272.57" cy="583.85" r="0.64"/><circle cx="230.83" cy="527.98" r="0.58"/><circle cx="302.76" cy="555.24" r="0.8"/><circle cx="187" cy="583.19" r="0.66"/><circle cx="248.06" cy="552.45" r="0.53"/><circle cx="218.56" cy="544.27" r="0.56"/><circle cx="281.8" cy="550.75" r="0.68"/><circle cx="311.79" cy="607.9" r="0.9"/><circle cx="304.36" cy="533.33" r="0.62"/><circle cx="174.61" cy="596.84" r="0.8"/><circle cx="224.82" cy="565.86" r="0.8"/><circle cx="279.08" cy="546.82" r="0.88"/><circle cx="224.93" cy="590.94" r="0.58"/><circle cx="187.98" cy="623.87" r="0.83"/><circle cx="281.16" cy="522.69" r="0.52"/><circle cx="195.27" cy="540.98" r="0.64"/><circle cx="229.4" cy="522.55" r="0.64"/><circle cx="269.58" cy="538.84" r="0.88"/><circle cx="258.95" cy="601.13" r="0.61"/><circle cx="237.85" cy="597.38" r="0.66"/><circle cx="170.15" cy="614.78" r="0.85"/><circle cx="214.67" cy="522.98" r="0.88"/><circle cx="264.75" cy="523.49" r="0.61"/><circle cx="187.35" cy="609.81" r="0.59"/><circle cx="312.66" cy="604.94" r="0.54"/><circle cx="278.37" cy="563.66" r="0.84"/><circle cx="299.28" cy="550.62" r="0.54"/><circle cx="317.63" cy="567.18" r="0.92"/><circle cx="277.89" cy="603.68" r="0.87"/><circle cx="267.98" cy="570.52" r="0.52"/><circle cx="278.93" cy="567.69" r="0.73"/><circle cx="314.79" cy="532.81" r="0.84"/><circle cx="176.82" cy="599.52" r="0.86"/><circle cx="210.75" cy="581.38" r="0.94"/><circle cx="269.45" cy="581.1" r="0.61"/><circle cx="179.26" cy="559.51" r="0.69"/><circle cx="201.42" cy="554.02" r="0.56"/><circle cx="280.29" cy="595.76" r="0.61"/><circle cx="207.71" cy="577.78" r="0.7"/><circle cx="315.99" cy="558.77" r="0.63"/><circle cx="308.01" cy="534.46" r="0.75"/><circle cx="222.04" cy="612.59" r="0.75"/><circle cx="288.64" cy="537.63" r="0.8"/><circle cx="263.39" cy="571.5" r="0.84"/><circle cx="299.66" cy="531.28" r="0.63"/><circle cx="226.24" cy="541.95" r="0.53"/><circle cx="213.82" cy="540.87" r="0.82"/><circle cx="239.89" cy="531.11" r="0.65"/><circle cx="243.11" cy="560.11" r="0.58"/><circle cx="181.2" cy="519.25" r="0.95"/><circle cx="287.07" cy="527.74" r="0.82"/><circle cx="322.91" cy="583.38" r="0.55"/><circle cx="246.26" cy="568.37" r="0.59"/><circle cx="254.72" cy="518.96" r="0.91"/><circle cx="270.54" cy="590.82" r="0.92"/><circle cx="271.81" cy="547.16" r="0.61"/><circle cx="191.63" cy="521.21" r="0.85"/><circle cx="300.97" cy="552.37" r="0.58"/><circle cx="269.54" cy="616.1" r="0.92"/><circle cx="196.28" cy="609.02" r="0.87"/><circle cx="285.8" cy="555.89" r="0.58"/><circle cx="298.75" cy="555.14" r="0.67"/><circle cx="255.98" cy="560.84" r="0.87"/><circle cx="207.34" cy="522.79" r="0.76"/><circle cx="268" cy="613.09" r="0.82"/><circle cx="311.21" cy="627.61" r="0.72"/><circle cx="247.93" cy="536.27" r="0.63"/><circle cx="260.65" cy="527.31" r="0.81"/><circle cx="195.53" cy="569.41" r="0.94"/><circle cx="183.99" cy="522.63" r="0.7"/><circle cx="199.77" cy="601.86" r="0.5"/><circle cx="301.17" cy="617.22" r="0.85"/><circle cx="236.37" cy="550.86" r="0.8"/><circle cx="250.28" cy="566.86" r="0.65"/><circle cx="238.44" cy="595.27" r="0.87"/><circle cx="311.02" cy="537.08" r="0.63"/><circle cx="239.13" cy="583.35" r="0.66"/><circle cx="200.48" cy="527.86" r="0.65"/><circle cx="241.83" cy="630.67" r="0.91"/><circle cx="305.01" cy="631.03" r="0.93"/><circle cx="266.7" cy="612.09" r="0.53"/><circle cx="275.53" cy="588.66" r="0.63"/><circle cx="259.1" cy="628.53" r="0.72"/><circle cx="270.99" cy="552.72" r="0.65"/><circle cx="308.08" cy="521.23" r="0.58"/><circle cx="275.87" cy="569.89" r="0.54"/><circle cx="273.04" cy="561.15" r="0.76"/><circle cx="234.95" cy="579.48" r="0.75"/><circle cx="231.83" cy="531.25" r="0.58"/><circle cx="308.84" cy="581.58" r="0.55"/><circle cx="304.5" cy="547.4" r="0.54"/><circle cx="252.8" cy="547.18" r="0.72"/><circle cx="256.43" cy="544.28" r="0.76"/><circle cx="187.63" cy="577.53" r="0.76"/><circle cx="182.52" cy="565.33" r="0.53"/><circle cx="238.57" cy="618.16" r="0.75"/><circle cx="281.48" cy="605.8" r="0.55"/><circle cx="324.54" cy="601.71" r="0.55"/><circle cx="299.51" cy="563.47" r="0.58"/><circle cx="319.77" cy="583.31" r="0.85"/><circle cx="191.34" cy="608.04" r="0.53"/><circle cx="206.96" cy="561.19" r="0.51"/><circle cx="262.71" cy="542.72" r="0.63"/><circle cx="280.36" cy="567.41" r="0.9"/><circle cx="266.9" cy="619.17" r="0.75"/><circle cx="313.13" cy="619.01" r="0.58"/><circle cx="286.29" cy="557.6" r="0.84"/><circle cx="276.16" cy="613.77" r="0.56"/><circle cx="228.19" cy="603.52" r="0.93"/><circle cx="282.6" cy="523.05" r="0.77"/><circle cx="185.54" cy="581.66" r="0.86"/><circle cx="187.62" cy="625.34" r="0.8"/><circle cx="209.72" cy="540.41" r="0.7"/><circle cx="300.75" cy="585.44" r="0.55"/><circle cx="173.27" cy="530.81" r="0.86"/><circle cx="198.9" cy="582.29" r="0.63"/><circle cx="277.2" cy="562.18" r="0.56"/><circle cx="306.56" cy="580.46" r="0.81"/><circle cx="296.08" cy="628.06" r="0.51"/><circle cx="223.41" cy="535.51" r="0.73"/><circle cx="306.2" cy="610.85" r="0.52"/><circle cx="198.44" cy="612.92" r="0.81"/><circle cx="231.24" cy="573.19" r="0.57"/><circle cx="301.84" cy="563.64" r="0.89"/><circle cx="265.29" cy="526.8" r="0.65"/><circle cx="203.75" cy="621.7" r="0.77"/><circle cx="176.81" cy="537.69" r="0.66"/><circle cx="242.97" cy="584.94" r="0.67"/><circle cx="225.17" cy="518.69" r="0.76"/><circle cx="222.07" cy="520.38" r="0.71"/><circle cx="323.88" cy="523.26" r="0.57"/><circle cx="274.67" cy="549.63" r="0.62"/><circle cx="248" cy="548.4" r="0.76"/><circle cx="252.39" cy="629.01" r="0.95"/><circle cx="175.32" cy="583.03" r="0.85"/><circle cx="306.09" cy="607.82" r="0.78"/><circle cx="269" cy="560.1" r="0.63"/><circle cx="294.07" cy="619.25" r="0.92"/><circle cx="276.29" cy="553.26" r="0.84"/><circle cx="285.37" cy="577.03" r="0.79"/><circle cx="224.67" cy="581.89" r="0.68"/><circle cx="179.43" cy="557.12" r="0.65"/><circle cx="324.19" cy="573.85" r="0.67"/><circle cx="207.97" cy="545.24" r="0.66"/><circle cx="191.16" cy="518.84" r="0.89"/><circle cx="240.69" cy="569.68" r="0.76"/><circle cx="217.18" cy="537.59" r="0.53"/><circle cx="217.03" cy="553.79" r="0.83"/><circle cx="256" cy="626.74" r="0.65"/><circle cx="313.71" cy="585.67" r="0.54"/><circle cx="197.88" cy="585.34" r="0.94"/><circle cx="225.69" cy="607.83" r="0.69"/><circle cx="305.46" cy="525.86" r="0.72"/><circle cx="310.26" cy="550" r="0.62"/><circle cx="173.6" cy="537.09" r="0.62"/><circle cx="279.89" cy="543.32" r="0.68"/><circle cx="201.25" cy="587.94" r="0.89"/><circle cx="271.1" cy="540.82" r="0.83"/><circle cx="320.25" cy="587.72" r="0.54"/><circle cx="296.28" cy="619.56" r="0.65"/><circle cx="191.32" cy="539.83" r="0.74"/><circle cx="306.57" cy="592.23" r="0.92"/><circle cx="203.11" cy="555.9" r="0.84"/><circle cx="271.23" cy="565.02" r="0.81"/><circle cx="222.69" cy="524.66" r="0.69"/><circle cx="177.09" cy="590.65" r="0.65"/><circle cx="247.12" cy="587.35" r="0.62"/><circle cx="242.29" cy="519.58" r="0.92"/><circle cx="258.01" cy="632.55" r="0.53"/><circle cx="265.78" cy="602" r="0.65"/><circle cx="184.58" cy="536.12" r="0.56"/><circle cx="289.68" cy="528.42" r="0.87"/><circle cx="236.02" cy="580.48" r="0.76"/><circle cx="256.58" cy="594.25" r="0.77"/><circle cx="221.61" cy="603.97" r="0.62"/><circle cx="280.98" cy="606.54" r="0.85"/><circle cx="218.24" cy="607.62" r="0.94"/><circle cx="240.69" cy="550.28" r="0.74"/><circle cx="316.79" cy="533.3" r="0.5"/><circle cx="244.22" cy="594.02" r="0.85"/><circle cx="226.55" cy="632.78" r="0.6"/><circle cx="288.03" cy="528.43" r="0.51"/><circle cx="190.93" cy="524.98" r="0.73"/><circle cx="256.62" cy="539.09" r="0.92"/><circle cx="227.04" cy="535.32" r="0.58"/><circle cx="285.09" cy="624.89" r="0.57"/><circle cx="174.53" cy="608.26" r="0.61"/><circle cx="323.24" cy="575.88" r="0.79"/><circle cx="223.7" cy="610.86" r="0.71"/><circle cx="220.52" cy="622.81" r="0.55"/><circle cx="284.41" cy="525.59" r="0.79"/><circle cx="232.69" cy="618.23" r="0.53"/><circle cx="258.02" cy="565.55" r="0.91"/><circle cx="317.41" cy="590.75" r="0.6"/><circle cx="209.3" cy="548.43" r="0.7"/><circle cx="206.1" cy="541.57" r="0.84"/><circle cx="270.26" cy="552.62" r="0.95"/><circle cx="203.79" cy="584.06" r="0.57"/><circle cx="304.64" cy="618.83" r="0.62"/><circle cx="287.24" cy="613.45" r="0.63"/><circle cx="221.72" cy="574.32" r="0.9"/><circle cx="195.21" cy="597.2" r="0.77"/><circle cx="240.68" cy="585.19" r="0.9"/><circle cx="202.73" cy="620.49" r="0.66"/><circle cx="291.65" cy="618.15" r="0.58"/><circle cx="304.78" cy="633.4" r="0.63"/><circle cx="173.81" cy="530.94" r="0.94"/><circle cx="171.47" cy="623.75" r="0.57"/><circle cx="284.82" cy="529.32" r="0.58"/><circle cx="276.51" cy="528.47" r="0.65"/><circle cx="313.29" cy="601.1" r="0.9"/><circle cx="322.83" cy="521.82" r="0.61"/><circle cx="293.57" cy="597.98" r="0.52"/><circle cx="248.75" cy="544.87" r="0.69"/><circle cx="186.36" cy="520.31" r="0.95"/><circle cx="219.37" cy="619.91" r="0.55"/><circle cx="246.03" cy="533.75" r="0.69"/><circle cx="197.92" cy="597.51" r="0.57"/><circle cx="285.16" cy="576.08" r="0.55"/><circle cx="225.16" cy="575.57" r="0.91"/><circle cx="224.51" cy="542.96" r="0.94"/><circle cx="307.77" cy="602.84" r="0.62"/><circle cx="197.65" cy="548.7" r="0.53"/><circle cx="176.74" cy="577.02" r="0.68"/><circle cx="256.83" cy="560.06" r="0.5"/><circle cx="277.35" cy="593.76" r="0.74"/><circle cx="255.61" cy="598.07" r="0.94"/><circle cx="306.36" cy="601.26" r="0.68"/><circle cx="219.65" cy="566.62" r="0.94"/><circle cx="230.38" cy="562.71" r="0.68"/><circle cx="192.32" cy="633.81" r="0.5"/><circle cx="264.82" cy="625.45" r="0.61"/><circle cx="265.3" cy="561.73" r="0.61"/><circle cx="200.95" cy="531.48" r="0.88"/><circle cx="292.3" cy="623.39" r="0.52"/><circle cx="278.29" cy="555.63" r="0.79"/><circle cx="255.64" cy="554.61" r="0.94"/><circle cx="170.15" cy="604.56" r="0.88"/><circle cx="249.58" cy="586.71" r="0.95"/><circle cx="206.57" cy="591.02" r="0.83"/><circle cx="229.1" cy="600.61" r="0.68"/><circle cx="252.1" cy="589.09" r="0.8"/><circle cx="220.25" cy="590.95" r="0.74"/><circle cx="204.83" cy="589.05" r="0.62"/><circle cx="311.76" cy="572.9" r="0.82"/><circle cx="251.44" cy="573.29" r="0.6"/><circle cx="192.17" cy="625.57" r="0.74"/><circle cx="251.73" cy="579.19" r="0.87"/><circle cx="207.23" cy="537.99" r="0.87"/><circle cx="241.81" cy="592.3" r="0.87"/><circle cx="309.47" cy="618.66" r="0.52"/><circle cx="229.48" cy="614.53" r="0.87"/><circle cx="189.19" cy="535.85" r="0.61"/><circle cx="186.04" cy="559.37" r="0.86"/><circle cx="251.33" cy="570.53" r="0.54"/><circle cx="231.71" cy="633.65" r="0.81"/><circle cx="240.09" cy="573.49" r="0.86"/><circle cx="288.37" cy="535.39" r="0.81"/><circle cx="227.24" cy="578.4" r="0.61"/><circle cx="227.84" cy="557.45" r="0.67"/><circle cx="172.77" cy="541.3" r="0.76"/><circle cx="179.01" cy="538.7" r="0.82"/><circle cx="212.84" cy="555.59" r="0.61"/><circle cx="300.13" cy="528.59" r="0.79"/><circle cx="303.99" cy="541.4" r="0.69"/><circle cx="293.6" cy="589.67" r="0.67"/><circle cx="176.85" cy="569.33" r="0.67"/><circle cx="281.16" cy="552.25" r="0.68"/><circle cx="271.12" cy="612.06" r="0.66"/><circle cx="230.12" cy="585.13" r="0.92"/><circle cx="199.89" cy="630.68" r="0.82"/><circle cx="228.09" cy="595.21" r="0.65"/><circle cx="181.04" cy="605.7" r="0.67"/><circle cx="252.03" cy="575.61" r="0.91"/><circle cx="288.1" cy="520.97" r="0.77"/><circle cx="242.16" cy="571.61" r="0.88"/><circle cx="234.72" cy="572.94" r="0.9"/><circle cx="238.61" cy="574.99" r="0.73"/><circle cx="298.65" cy="595.76" r="0.83"/><circle cx="232.66" cy="522.71" r="0.81"/><circle cx="256.4" cy="607.23" r="0.85"/><circle cx="188.43" cy="543.6" r="0.53"/><circle cx="297.53" cy="529.8" r="0.54"/><circle cx="287.52" cy="583.47" r="0.52"/><circle cx="276.23" cy="600.48" r="0.72"/><circle cx="178.55" cy="598.16" r="0.69"/><circle cx="261.1" cy="633.78" r="0.87"/><circle cx="306.02" cy="534.88" r="0.65"/><circle cx="250.84" cy="518.7" r="0.94"/><circle cx="212.85" cy="548.43" r="0.64"/><circle cx="209.78" cy="617.63" r="0.75"/><circle cx="249.71" cy="566.75" r="0.52"/><circle cx="217.5" cy="618.55" r="0.86"/><circle cx="303.64" cy="547.82" r="0.59"/><circle cx="178.13" cy="580.27" r="0.67"/><circle cx="242.42" cy="574.72" r="0.76"/><circle cx="227.05" cy="610.97" r="0.59"/><circle cx="313.42" cy="582.51" r="0.52"/><circle cx="219.03" cy="579.84" r="0.68"/><circle cx="258.13" cy="555.53" r="0.62"/><circle cx="294.19" cy="551.82" r="0.82"/><circle cx="295.18" cy="586.68" r="0.7"/><circle cx="315.84" cy="569.61" r="0.9"/><circle cx="179" cy="568.31" r="0.79"/><circle cx="177.64" cy="618.07" r="0.53"/><circle cx="263.02" cy="538.9" r="0.92"/><circle cx="257.53" cy="610.88" r="0.72"/><circle cx="275.12" cy="596.3" r="0.63"/><circle cx="202.92" cy="615.24" r="0.57"/><circle cx="313.19" cy="542" r="0.55"/><circle cx="184.86" cy="608.97" r="0.93"/><circle cx="234.69" cy="594.43" r="0.62"/><circle cx="311.32" cy="597.57" r="0.57"/><circle cx="178.84" cy="598.7" r="0.52"/><circle cx="300.44" cy="552.06" r="0.6"/><circle cx="260.8" cy="554.97" r="0.75"/><circle cx="194.02" cy="623.78" r="0.65"/><circle cx="301.24" cy="535.62" r="0.86"/><circle cx="322.9" cy="563.41" r="0.51"/><circle cx="229.28" cy="592.33" r="0.6"/><circle cx="255.13" cy="528.86" r="0.71"/><circle cx="283.61" cy="567.86" r="0.81"/><circle cx="187.84" cy="614.11" r="0.55"/><circle cx="314.04" cy="633.55" r="0.92"/><circle cx="252.11" cy="551.73" r="0.66"/><circle cx="287.06" cy="575.6" r="0.92"/><circle cx="184.51" cy="574.23" r="0.89"/><circle cx="263.25" cy="580.72" r="0.54"/><circle cx="191.79" cy="549.46" r="0.9"/><circle cx="301.88" cy="544.35" r="0.92"/><circle cx="175.06" cy="587.46" r="0.94"/><circle cx="223.71" cy="627.55" r="0.8"/><circle cx="177.81" cy="556.64" r="0.7"/><circle cx="208.59" cy="604.11" r="0.58"/><circle cx="292.89" cy="552.59" r="0.53"/><circle cx="257.23" cy="529.1" r="0.75"/><circle cx="292.93" cy="587.09" r="0.71"/><circle cx="175.26" cy="577.55" r="0.54"/><circle cx="270.9" cy="533.31" r="0.76"/><circle cx="225.05" cy="561.47" r="0.8"/><circle cx="195.57" cy="537.68" r="0.92"/><circle cx="221.73" cy="615.71" r="0.89"/><circle cx="244.92" cy="535.29" r="0.54"/><circle cx="307.13" cy="531.58" r="0.72"/><circle cx="253.61" cy="531.64" r="0.71"/><circle cx="195.59" cy="580.11" r="0.73"/><circle cx="227.24" cy="540.93" r="0.68"/><circle cx="201.74" cy="532.75" r="0.61"/><circle cx="305.96" cy="576.21" r="0.9"/><circle cx="172.36" cy="627.42" r="0.72"/><circle cx="293.4" cy="584.17" r="0.81"/><circle cx="205.76" cy="605" r="0.57"/><circle cx="211.21" cy="521.59" r="0.68"/><circle cx="250.83" cy="551.87" r="0.9"/><circle cx="183.15" cy="585.11" r="0.61"/><circle cx="262.87" cy="608.95" r="0.82"/><circle cx="179.69" cy="546.51" r="0.77"/><circle cx="323.34" cy="522.78" r="0.78"/><circle cx="277.93" cy="612.5" r="0.65"/><circle cx="296.45" cy="571.57" r="0.91"/><circle cx="171.68" cy="627.08" r="0.69"/><circle cx="233.51" cy="528.21" r="0.61"/><circle cx="284.47" cy="596.74" r="0.57"/><circle cx="223.71" cy="534.28" r="0.59"/><circle cx="204.26" cy="556.4" r="0.94"/><circle cx="325.58" cy="609.82" r="0.72"/><circle cx="247.58" cy="608.39" r="0.91"/><circle cx="287.23" cy="591.82" r="0.59"/><circle cx="267.52" cy="616.1" r="0.85"/><circle cx="184.41" cy="601.22" r="0.66"/><circle cx="195.31" cy="630.03" r="0.8"/><circle cx="286.31" cy="533.65" r="0.87"/><circle cx="316.19" cy="622.95" r="0.84"/><circle cx="299.86" cy="611.05" r="0.77"/><circle cx="237.91" cy="613.72" r="0.85"/><circle cx="305.85" cy="552.68" r="0.93"/><circle cx="252.94" cy="627.73" r="0.55"/><circle cx="321.08" cy="609.35" r="0.61"/><circle cx="300.79" cy="544.92" r="0.59"/><circle cx="241.43" cy="545.45" r="0.72"/><circle cx="311.67" cy="597.5" r="0.82"/><circle cx="231.15" cy="608.93" r="0.86"/><circle cx="276.53" cy="627.24" r="0.87"/><circle cx="233.37" cy="528.1" r="0.79"/><circle cx="300.46" cy="557.39" r="0.77"/><circle cx="300.46" cy="609.98" r="0.5"/><circle cx="246.29" cy="519.9" r="0.55"/><circle cx="296.73" cy="566.56" r="0.77"/><circle cx="241.37" cy="556.91" r="0.6"/><circle cx="225.18" cy="615.97" r="0.78"/><circle cx="215.57" cy="528.21" r="0.62"/><circle cx="279.38" cy="569.28" r="0.8"/><circle cx="295.91" cy="532" r="0.81"/><circle cx="176.48" cy="613.46" r="0.58"/><circle cx="212.35" cy="629.09" r="0.66"/><circle cx="204.98" cy="621.22" r="0.77"/><circle cx="309.45" cy="563.75" r="0.72"/><circle cx="319.1" cy="576.78" r="0.94"/><circle cx="199.55" cy="614.35" r="0.57"/><circle cx="252.24" cy="518.04" r="0.58"/><circle cx="317.42" cy="570.73" r="0.86"/><circle cx="209.13" cy="558.87" r="0.55"/><circle cx="256.22" cy="618.02" r="0.73"/><circle cx="228.76" cy="625.72" r="0.9"/><circle cx="273.94" cy="526.8" r="0.78"/><circle cx="239.28" cy="629.11" r="0.66"/><circle cx="273.14" cy="591.3" r="0.67"/><circle cx="251.46" cy="596.48" r="0.91"/><circle cx="247.71" cy="560.19" r="0.94"/><circle cx="178.89" cy="614.84" r="0.81"/><circle cx="256.96" cy="569.94" r="0.84"/><circle cx="309.01" cy="602.55" r="0.84"/><circle cx="175.48" cy="555.72" r="0.56"/><circle cx="318.66" cy="621.4" r="0.57"/><circle cx="261.66" cy="584.9" r="0.52"/><circle cx="231.19" cy="604.7" r="0.79"/><circle cx="213.82" cy="606.44" r="0.63"/><circle cx="254.91" cy="566.8" r="0.94"/><circle cx="271.21" cy="611.37" r="0.8"/><circle cx="229.36" cy="629.71" r="0.82"/><circle cx="277.77" cy="550.19" r="0.57"/><circle cx="259.73" cy="613.8" r="0.86"/><circle cx="224.17" cy="534.23" r="0.73"/><circle cx="306.87" cy="536.81" r="0.83"/><circle cx="196.63" cy="554.19" r="0.52"/><circle cx="216.43" cy="562.42" r="0.94"/><circle cx="320.09" cy="539.71" r="0.64"/><circle cx="317.22" cy="540.89" r="0.64"/><circle cx="238.37" cy="530.58" r="0.62"/><circle cx="231.46" cy="562.72" r="0.93"/><circle cx="211.63" cy="541.66" r="0.91"/><circle cx="240.24" cy="615.1" r="0.79"/><circle cx="291.47" cy="554.51" r="0.57"/><circle cx="288.1" cy="572.55" r="0.75"/><circle cx="274.61" cy="605.31" r="0.62"/><circle cx="226.59" cy="624.43" r="0.74"/><circle cx="214.99" cy="591.1" r="0.62"/><circle cx="290.33" cy="522.79" r="0.87"/><circle cx="258.37" cy="559.02" r="0.92"/><circle cx="211.42" cy="546.23" r="0.53"/><circle cx="255.57" cy="605.43" r="0.81"/><circle cx="234.39" cy="611.7" r="0.55"/><circle cx="217.88" cy="592.79" r="0.94"/><circle cx="268.89" cy="598.27" r="0.85"/><circle cx="231.54" cy="627.08" r="0.83"/><circle cx="223.31" cy="563.54" r="0.86"/><circle cx="224.56" cy="539.55" r="0.89"/><circle cx="252.96" cy="578.46" r="0.8"/><circle cx="310.64" cy="533.49" r="0.65"/><circle cx="180.29" cy="565.93" r="0.73"/><circle cx="302.9" cy="595.47" r="0.76"/><circle cx="232.97" cy="584.55" r="0.62"/><circle cx="301.79" cy="609.46" r="0.88"/><circle cx="193.58" cy="595.9" r="0.84"/><circle cx="248.09" cy="622.21" r="0.9"/><circle cx="285.91" cy="613.23" r="0.79"/><circle cx="307.07" cy="533.23" r="0.82"/><circle cx="279.79" cy="589.03" r="0.62"/><circle cx="180.5" cy="587.99" r="0.87"/><circle cx="212.59" cy="542.72" r="0.6"/><circle cx="184.64" cy="596.42" r="0.94"/><circle cx="295.13" cy="559.73" r="0.81"/><circle cx="181.26" cy="615.28" r="0.65"/><circle cx="170.53" cy="590.99" r="0.56"/><circle cx="212.91" cy="524.86" r="0.7"/><circle cx="256.57" cy="611.66" r="0.52"/><circle cx="299.07" cy="530.82" r="0.6"/><circle cx="268.19" cy="557.45" r="0.65"/><circle cx="258.68" cy="543.27" r="0.86"/><circle cx="202.6" cy="615.37" r="0.86"/><circle cx="253.78" cy="521.54" r="0.85"/><circle cx="174.43" cy="576.54" r="0.69"/><circle cx="179.84" cy="591.08" r="0.83"/><circle cx="261.25" cy="564.42" r="0.73"/><circle cx="261.85" cy="544.25" r="0.89"/><circle cx="325.33" cy="611.28" r="0.93"/><circle cx="221.39" cy="632.41" r="0.53"/><circle cx="244.55" cy="533.51" r="0.7"/><circle cx="276.5" cy="600.18" r="0.7"/><circle cx="223.3" cy="540.03" r="0.68"/><circle cx="214.08" cy="540.53" r="0.83"/><circle cx="250.53" cy="568.88" r="0.59"/><circle cx="279.78" cy="540.82" r="0.62"/><circle cx="257.4" cy="599.34" r="0.94"/><circle cx="286.63" cy="628" r="0.91"/><circle cx="282.72" cy="601.46" r="0.53"/><circle cx="202.08" cy="519.51" r="0.89"/><circle cx="282.63" cy="591.1" r="0.62"/><circle cx="225.44" cy="536.98" r="0.78"/><circle cx="324.67" cy="553.47" r="0.52"/><circle cx="197.33" cy="559.21" r="0.9"/><circle cx="295.5" cy="570.79" r="0.55"/><circle cx="186.65" cy="535.85" r="0.85"/><circle cx="243.52" cy="632.91" r="0.91"/><circle cx="293.98" cy="573.24" r="0.87"/><circle cx="190.02" cy="530.63" r="0.75"/><circle cx="249.24" cy="542.28" r="0.61"/><circle cx="173.31" cy="623.43" r="0.82"/><circle cx="317.47" cy="631.74" r="0.7"/><circle cx="284.26" cy="562.56" r="0.87"/><circle cx="301.25" cy="533.52" r="0.51"/><circle cx="203.39" cy="585.9" r="0.67"/><circle cx="171.42" cy="614.32" r="0.85"/><circle cx="242.34" cy="523.02" r="0.9"/><circle cx="253.33" cy="526.23" r="0.65"/><circle cx="267.43" cy="620.7" r="0.72"/><circle cx="269.76" cy="541.86" r="0.61"/><circle cx="311.3" cy="562.38" r="0.55"/><circle cx="262.23" cy="532.64" r="0.59"/><circle cx="241.2" cy="585.92" r="0.79"/><circle cx="280.29" cy="569" r="0.53"/><circle cx="283.02" cy="524.24" r="0.71"/><circle cx="232.43" cy="596.06" r="0.82"/><circle cx="207.41" cy="593.35" r="0.81"/><circle cx="243.59" cy="534.45" r="0.91"/><circle cx="263.46" cy="525.28" r="0.61"/><circle cx="323.95" cy="544.53" r="0.68"/><circle cx="292.94" cy="613.56" r="0.79"/><circle cx="285.69" cy="522.44" r="0.54"/><circle cx="322.28" cy="611.12" r="0.52"/><circle cx="177.59" cy="545.89" r="0.92"/><circle cx="204.26" cy="595.94" r="0.92"/><circle cx="269.63" cy="624.64" r="0.62"/><circle cx="193.93" cy="520.11" r="0.84"/><circle cx="186.2" cy="630.89" r="0.82"/><circle cx="199.16" cy="611.62" r="0.57"/><circle cx="249.89" cy="530.27" r="0.85"/><circle cx="308.79" cy="624.3" r="0.5"/><circle cx="302.82" cy="582.48" r="0.87"/><circle cx="248.39" cy="589.9" r="0.77"/><circle cx="294.72" cy="527" r="0.52"/><circle cx="255.09" cy="551.75" r="0.68"/><circle cx="171.19" cy="604.42" r="0.51"/><circle cx="299.43" cy="612.14" r="0.71"/><circle cx="189.06" cy="593.41" r="0.59"/><circle cx="236.93" cy="530.81" r="0.94"/><circle cx="255.19" cy="558.89" r="0.54"/><circle cx="283.91" cy="616.57" r="0.88"/><circle cx="185.82" cy="560.64" r="0.64"/><circle cx="288.94" cy="535.15" r="0.77"/><circle cx="322.66" cy="607.18" r="0.5"/><circle cx="181.7" cy="531.19" r="0.81"/><circle cx="263.41" cy="578.33" r="0.71"/><circle cx="233.55" cy="588.88" r="0.79"/><circle cx="312.96" cy="602.99" r="0.86"/><circle cx="312.41" cy="615.11" r="0.82"/><circle cx="174.78" cy="596.98" r="0.88"/><circle cx="237.2" cy="619.86" r="0.58"/><circle cx="317.07" cy="569.24" r="0.82"/><circle cx="209.41" cy="552.86" r="0.66"/><circle cx="220.61" cy="528.99" r="0.7"/><circle cx="323.02" cy="593.87" r="0.92"/><circle cx="288.92" cy="615.07" r="0.95"/><circle cx="287.42" cy="549.81" r="0.61"/><circle cx="234.34" cy="520.43" r="0.6"/><circle cx="308.26" cy="624.82" r="0.65"/><circle cx="290.19" cy="607.9" r="0.9"/><circle cx="293.96" cy="579.71" r="0.55"/><circle cx="298.77" cy="554.39" r="0.78"/><circle cx="227.27" cy="580.32" r="0.93"/><circle cx="195.13" cy="579.59" r="0.79"/><circle cx="253.99" cy="626.8" r="0.68"/><circle cx="312.55" cy="598.02" r="0.94"/><circle cx="183.98" cy="542.64" r="0.63"/><circle cx="311.42" cy="519.58" r="0.62"/><circle cx="281.67" cy="632.81" r="0.58"/><circle cx="238.33" cy="597.68" r="0.81"/><circle cx="286.38" cy="605.36" r="0.61"/><circle cx="210.11" cy="521.21" r="0.81"/><circle cx="202.64" cy="548.1" r="0.93"/><circle cx="270.35" cy="586.57" r="0.8"/><circle cx="263.27" cy="598.61" r="0.64"/><circle cx="179.97" cy="525.76" r="0.51"/><circle cx="226.39" cy="534.5" r="0.55"/><circle cx="247.02" cy="630.47" r="0.81"/><circle cx="212.66" cy="607.25" r="0.58"/><circle cx="185.61" cy="553.17" r="0.68"/><circle cx="277.57" cy="569.61" r="0.83"/><circle cx="184.8" cy="626.15" r="0.65"/><circle cx="299.84" cy="521.56" r="0.87"/><circle cx="205.3" cy="617.18" r="0.86"/><circle cx="274.63" cy="550.21" r="0.5"/><circle cx="199.63" cy="622.97" r="0.57"/><circle cx="272.84" cy="586.09" r="0.8"/><circle cx="198.17" cy="534.66" r="0.54"/><circle cx="323.3" cy="562.43" r="0.79"/><circle cx="258.86" cy="543.9" r="0.53"/><circle cx="172.31" cy="616.9" r="0.56"/><circle cx="320.24" cy="560.18" r="0.83"/><circle cx="191.58" cy="609.41" r="0.61"/><circle cx="227.13" cy="578.67" r="0.55"/><circle cx="208.73" cy="610.33" r="0.63"/><circle cx="229.4" cy="606.72" r="0.6"/><circle cx="200.25" cy="543.41" r="0.67"/><circle cx="226.99" cy="592.41" r="0.71"/><circle cx="305.67" cy="523.87" r="0.8"/><circle cx="300.48" cy="545.24" r="0.51"/><circle cx="238.38" cy="531.44" r="0.71"/><circle cx="281" cy="528.87" r="0.55"/><circle cx="244.81" cy="538.16" r="0.6"/><circle cx="238.68" cy="531.72" r="0.53"/><circle cx="226.34" cy="572.42" r="0.92"/><circle cx="256.55" cy="526.3" r="0.6"/><circle cx="286.1" cy="583.29" r="0.89"/><circle cx="320.14" cy="617.52" r="0.55"/><circle cx="317.22" cy="578.88" r="0.61"/><circle cx="196.62" cy="618.3" r="0.6"/><circle cx="182.96" cy="548.78" r="0.92"/><circle cx="241.91" cy="602.83" r="0.53"/><circle cx="240.67" cy="554.87" r="0.59"/><circle cx="273.42" cy="559.9" r="0.55"/><circle cx="323.53" cy="573.86" r="0.58"/><circle cx="171.7" cy="593.74" r="0.73"/><circle cx="173.82" cy="572.56" r="0.83"/><circle cx="253.79" cy="545.15" r="0.72"/><circle cx="264.37" cy="593.53" r="0.57"/><circle cx="295.37" cy="627.69" r="0.83"/><circle cx="303.74" cy="560.66" r="0.91"/><circle cx="198.35" cy="544.32" r="0.77"/><circle cx="310.65" cy="527.51" r="0.6"/><circle cx="175.6" cy="568.93" r="0.56"/><circle cx="199.88" cy="604.88" r="0.76"/><circle cx="316.55" cy="564.63" r="0.81"/><circle cx="171.97" cy="628.01" r="0.6"/><circle cx="244.42" cy="577.35" r="0.93"/><circle cx="246.77" cy="633.05" r="0.78"/><circle cx="203.76" cy="614.73" r="0.59"/><circle cx="325.93" cy="570.96" r="0.6"/><circle cx="319.95" cy="555.33" r="0.68"/><circle cx="223.53" cy="595.57" r="0.51"/><circle cx="228.34" cy="536.8" r="0.87"/><circle cx="170.02" cy="588.47" r="0.62"/><circle cx="240.85" cy="583.18" r="0.82"/><circle cx="191.48" cy="545.89" r="0.55"/><circle cx="319.8" cy="535.3" r="0.56"/><circle cx="251.46" cy="585.44" r="0.9"/><circle cx="178.88" cy="545.18" r="0.58"/><circle cx="261.35" cy="570.48" r="0.68"/><circle cx="308.59" cy="594.76" r="0.89"/><circle cx="319.28" cy="549.2" r="0.92"/><circle cx="233.61" cy="523.98" r="0.91"/><circle cx="186.24" cy="520.03" r="0.63"/><circle cx="215.08" cy="630.16" r="0.89"/><circle cx="235.53" cy="579.41" r="0.88"/><circle cx="295.9" cy="593.8" r="0.73"/><circle cx="188.19" cy="546.27" r="0.8"/><circle cx="261.46" cy="610.92" r="0.9"/><circle cx="320.13" cy="540.35" r="0.53"/><circle cx="310.02" cy="584.16" r="0.58"/><circle cx="277.97" cy="547.66" r="0.61"/><circle cx="227.14" cy="578.77" r="0.8"/><circle cx="181.45" cy="603.99" r="0.78"/><circle cx="243.58" cy="595.96" r="0.86"/><circle cx="171.5" cy="573.14" r="0.81"/><circle cx="280.62" cy="593.11" r="0.58"/><circle cx="319.52" cy="609.14" r="0.6"/><circle cx="237.18" cy="629.12" r="0.59"/><circle cx="233.82" cy="629.54" r="0.91"/><circle cx="206.27" cy="603.29" r="0.66"/><circle cx="273.48" cy="606.96" r="0.56"/><circle cx="204.72" cy="542.93" r="0.62"/><circle cx="175.56" cy="533.78" r="0.68"/><circle cx="235.64" cy="527.02" r="0.76"/><circle cx="317.01" cy="584.93" r="0.66"/><circle cx="279.89" cy="568.72" r="0.58"/><circle cx="245.15" cy="520.04" r="0.8"/><circle cx="195.11" cy="560.89" r="0.93"/><circle cx="289.62" cy="614.92" r="0.79"/><circle cx="269" cy="599.77" r="0.93"/><circle cx="200.62" cy="606.88" r="0.64"/><circle cx="209.9" cy="613.3" r="0.77"/><circle cx="302.55" cy="619.52" r="0.76"/><circle cx="200.94" cy="519.74" r="0.74"/><circle cx="283.2" cy="549.6" r="0.53"/><circle cx="170.74" cy="538.09" r="0.81"/><circle cx="170.61" cy="544.68" r="0.62"/><circle cx="280.93" cy="632.52" r="0.51"/><circle cx="187.82" cy="626.41" r="0.94"/><circle cx="193.18" cy="556.9" r="0.74"/><circle cx="219.94" cy="566.42" r="0.72"/><circle cx="210.33" cy="524.38" r="0.54"/><circle cx="195.34" cy="528.6" r="0.78"/><circle cx="278.67" cy="548.5" r="0.86"/><circle cx="283.69" cy="557.64" r="0.72"/><circle cx="199.39" cy="625.76" r="0.75"/><circle cx="178" cy="535.85" r="0.81"/><circle cx="230.1" cy="601.17" r="0.6"/><circle cx="294.36" cy="611.03" r="0.54"/><circle cx="261.45" cy="540.19" r="0.82"/><circle cx="295.43" cy="609.79" r="0.6"/><circle cx="184.56" cy="594.96" r="0.75"/><circle cx="191.56" cy="540.36" r="0.76"/><circle cx="186.83" cy="591.54" r="0.61"/><circle cx="210.33" cy="567.12" r="0.74"/><circle cx="283.01" cy="521.58" r="0.83"/><circle cx="204.47" cy="551.73" r="0.79"/><circle cx="277.83" cy="589.31" r="0.91"/><circle cx="201.92" cy="554.09" r="0.8"/><circle cx="210.68" cy="536.25" r="0.6"/><circle cx="290.33" cy="613.93" r="0.82"/><circle cx="319.56" cy="610.15" r="0.64"/><circle cx="219.21" cy="601.66" r="0.53"/><circle cx="265.04" cy="528.34" r="0.52"/><circle cx="250.14" cy="535.55" r="0.92"/><circle cx="306.86" cy="571.56" r="0.59"/><circle cx="188.66" cy="576.79" r="0.73"/><circle cx="226.6" cy="601.09" r="0.74"/><circle cx="290.97" cy="530.32" r="0.53"/><circle cx="230.38" cy="574.09" r="0.61"/><circle cx="274.29" cy="543.74" r="0.64"/><circle cx="244.4" cy="600.63" r="0.85"/><circle cx="227.98" cy="569.83" r="0.92"/><circle cx="315.69" cy="589.77" r="0.55"/><circle cx="241.09" cy="591.87" r="0.63"/><circle cx="175.83" cy="631.81" r="0.91"/><circle cx="190.12" cy="572.04" r="0.78"/><circle cx="216.8" cy="525.95" r="0.84"/><circle cx="290.24" cy="568.73" r="0.54"/><circle cx="231.44" cy="528.91" r="0.93"/><circle cx="177.99" cy="551.41" r="0.85"/><circle cx="191.07" cy="530.36" r="0.53"/><circle cx="195.58" cy="579.7" r="0.87"/><circle cx="196.38" cy="538.15" r="0.84"/><circle cx="236.42" cy="557.21" r="0.56"/><circle cx="207.88" cy="630.72" r="0.55"/><circle cx="210.49" cy="603.92" r="0.9"/><circle cx="311.06" cy="572.84" r="0.93"/><circle cx="264.23" cy="551.49" r="0.71"/><circle cx="281.7" cy="603.14" r="0.56"/><circle cx="200.21" cy="629.16" r="0.55"/><circle cx="296.89" cy="557.31" r="0.61"/><circle cx="209.8" cy="572.43" r="0.95"/><circle cx="193.17" cy="617.13" r="0.64"/><circle cx="196.96" cy="604.39" r="0.65"/><circle cx="199.25" cy="566.54" r="0.87"/><circle cx="304.64" cy="584.69" r="0.5"/><circle cx="289.09" cy="588.36" r="0.9"/><circle cx="318.52" cy="555.94" r="0.88"/><circle cx="297.75" cy="548.85" r="0.66"/><circle cx="228.45" cy="558.93" r="0.67"/><circle cx="187.2" cy="544.35" r="0.91"/><circle cx="234.05" cy="591.75" r="0.9"/><circle cx="287.87" cy="546.35" r="0.91"/><circle cx="295.45" cy="632.91" r="0.83"/><circle cx="287.76" cy="612.31" r="0.61"/><circle cx="272.33" cy="562.16" r="0.88"/><circle cx="190.84" cy="580.54" r="0.65"/><circle cx="298.02" cy="558.05" r="0.88"/><circle cx="302.27" cy="619.95" r="0.56"/><circle cx="316.37" cy="604.33" r="0.8"/><circle cx="271.78" cy="523.57" r="0.89"/><circle cx="255.45" cy="570.86" r="0.65"/><circle cx="292.13" cy="608.74" r="0.89"/><circle cx="203.4" cy="557.49" r="0.61"/><circle cx="185.66" cy="555.95" r="0.51"/><circle cx="294.26" cy="544.34" r="0.53"/><circle cx="180.56" cy="603.97" r="0.59"/><circle cx="242.08" cy="564.61" r="0.86"/><circle cx="318.83" cy="553.95" r="0.78"/><circle cx="309.58" cy="572.57" r="0.9"/><circle cx="284.46" cy="554.14" r="0.89"/><circle cx="259.43" cy="530.28" r="0.76"/><circle cx="299.36" cy="578.15" r="0.72"/><circle cx="234.96" cy="620.13" r="0.8"/><circle cx="202.44" cy="560.03" r="0.66"/><circle cx="319.55" cy="598.72" r="0.56"/><circle cx="312.64" cy="522.05" r="0.77"/><circle cx="237.45" cy="601.23" r="0.69"/><circle cx="184.4" cy="578.75" r="0.87"/><circle cx="293.06" cy="559.37" r="0.6"/><circle cx="286.19" cy="611" r="0.6"/><circle cx="307.77" cy="633.12" r="0.7"/><circle cx="229.37" cy="600.34" r="0.92"/><circle cx="201.47" cy="553" r="0.65"/><circle cx="284.22" cy="539.67" r="0.75"/><circle cx="248.05" cy="595.54" r="0.56"/><circle cx="319.24" cy="634" r="0.75"/><circle cx="294.05" cy="539.27" r="0.91"/><circle cx="256.02" cy="606.1" r="0.89"/><circle cx="226.43" cy="625.18" r="0.59"/><circle cx="173.65" cy="576.28" r="0.9"/><circle cx="310.47" cy="628.78" r="0.73"/><circle cx="315.49" cy="582.96" r="0.56"/><circle cx="268.45" cy="611.2" r="0.69"/><circle cx="263.93" cy="548.06" r="0.62"/><circle cx="235.56" cy="577.53" r="0.71"/><circle cx="184.41" cy="518.66" r="0.65"/><circle cx="281.84" cy="604.81" r="0.61"/><circle cx="209.88" cy="577.93" r="0.58"/><circle cx="264.06" cy="622.88" r="0.59"/><circle cx="261.34" cy="601.61" r="0.84"/><circle cx="281.09" cy="600.43" r="0.62"/><circle cx="300.78" cy="625.31" r="0.52"/><circle cx="317.28" cy="569.34" r="0.54"/><circle cx="180.86" cy="610.44" r="0.8"/><circle cx="192.17" cy="571.36" r="0.79"/><circle cx="325.63" cy="556.98" r="0.84"/><circle cx="208.24" cy="541.07" r="0.57"/><circle cx="233.98" cy="589.71" r="0.64"/><circle cx="195.26" cy="543.35" r="0.54"/><circle cx="200.13" cy="554.63" r="0.73"/><circle cx="198.64" cy="573.65" r="0.7"/><circle cx="321.79" cy="574.4" r="0.93"/><circle cx="243.54" cy="540.96" r="0.77"/><circle cx="192.57" cy="537.63" r="0.53"/><circle cx="279.41" cy="630.17" r="0.68"/><circle cx="225.24" cy="567.32" r="0.66"/><circle cx="277.75" cy="563.46" r="0.57"/><circle cx="304.84" cy="584.42" r="0.5"/><circle cx="302.52" cy="602.5" r="0.66"/><circle cx="268.27" cy="624.75" r="0.68"/><circle cx="237.48" cy="552.59" r="0.75"/><circle cx="273.39" cy="603.27" r="0.93"/><circle cx="192.67" cy="560.44" r="0.88"/><circle cx="293.4" cy="586.44" r="0.8"/><circle cx="223.05" cy="627.6" r="0.75"/><circle cx="232.79" cy="539.16" r="0.55"/><circle cx="310.01" cy="610.86" r="0.51"/><circle cx="220.42" cy="573.64" r="0.72"/><circle cx="226.7" cy="621.84" r="0.66"/><circle cx="252.99" cy="625.81" r="0.79"/><circle cx="244.4" cy="556.58" r="0.67"/><circle cx="265.03" cy="609.17" r="0.62"/><circle cx="227.8" cy="562.97" r="0.66"/><circle cx="312.42" cy="580.52" r="0.62"/><circle cx="221.85" cy="613.29" r="0.57"/><circle cx="277.63" cy="520.52" r="0.59"/><circle cx="179.28" cy="611.45" r="0.57"/><circle cx="205.57" cy="524.68" r="0.62"/><circle cx="284.41" cy="601.54" r="0.91"/><circle cx="317.72" cy="581.9" r="0.91"/><circle cx="183.98" cy="625.31" r="0.7"/><circle cx="200.1" cy="604.77" r="0.89"/><circle cx="230.18" cy="528.81" r="0.89"/><circle cx="287.55" cy="587.25" r="0.94"/><circle cx="175.94" cy="524.49" r="0.56"/><circle cx="173.4" cy="600.16" r="0.78"/><circle cx="187.52" cy="536.8" r="0.58"/><circle cx="265.04" cy="596.01" r="0.94"/><circle cx="226.26" cy="631.57" r="0.7"/><circle cx="230.98" cy="547.38" r="0.6"/><circle cx="322.04" cy="633.41" r="0.82"/><circle cx="197.32" cy="538.87" r="0.57"/><circle cx="224.76" cy="603.51" r="0.53"/><circle cx="252.71" cy="596.96" r="0.52"/><circle cx="238.57" cy="609.75" r="0.76"/><circle cx="240.45" cy="620.24" r="0.77"/><circle cx="222.57" cy="563.93" r="0.92"/><circle cx="304.07" cy="624.12" r="0.75"/><circle cx="192.23" cy="538.31" r="0.67"/><circle cx="277.75" cy="518.53" r="0.86"/><circle cx="292.61" cy="577.72" r="0.5"/><circle cx="294.5" cy="566.04" r="0.8"/><circle cx="258.9" cy="602.49" r="0.68"/><circle cx="319.75" cy="628.84" r="0.92"/><circle cx="265.97" cy="554.7" r="0.67"/><circle cx="211.96" cy="622.84" r="0.86"/><circle cx="292.95" cy="613.26" r="0.95"/><circle cx="277.33" cy="554.92" r="0.84"/><circle cx="210.92" cy="588.86" r="0.57"/><circle cx="303.8" cy="574.69" r="0.62"/><circle cx="313.97" cy="527.62" r="0.92"/><circle cx="288.08" cy="535.29" r="0.84"/><circle cx="259.44" cy="623.24" r="0.76"/><circle cx="236.66" cy="626.27" r="0.54"/><circle cx="291.22" cy="529.94" r="0.62"/><circle cx="187.74" cy="619.07" r="0.7"/><circle cx="283.31" cy="547.77" r="0.83"/><circle cx="271.2" cy="529.32" r="0.72"/><circle cx="282.6" cy="542.88" r="0.79"/><circle cx="213.35" cy="560.98" r="0.91"/><circle cx="317.12" cy="633.76" r="0.69"/><circle cx="259.19" cy="611.78" r="0.84"/><circle cx="241.17" cy="618.18" r="0.68"/><circle cx="318.2" cy="572.84" r="0.55"/><circle cx="286.86" cy="534.81" r="0.81"/><circle cx="178.35" cy="632.64" r="0.74"/><circle cx="285.5" cy="533.21" r="0.79"/><circle cx="228.74" cy="546.9" r="0.87"/><circle cx="175.19" cy="573.44" r="0.54"/><circle cx="302.82" cy="621.62" r="0.52"/><circle cx="242.47" cy="572.41" r="0.82"/><circle cx="283.75" cy="557.81" r="0.92"/><circle cx="198.91" cy="533.85" r="0.87"/><circle cx="188.73" cy="539.57" r="0.73"/><circle cx="222.47" cy="537" r="0.92"/><circle cx="243.93" cy="609.16" r="0.61"/><circle cx="312.37" cy="543.65" r="0.91"/><circle cx="265.61" cy="630.64" r="0.85"/><circle cx="268.41" cy="579.82" r="0.88"/><circle cx="239.19" cy="529.41" r="0.91"/><circle cx="295.67" cy="597.11" r="0.84"/><circle cx="206.2" cy="571.75" r="0.87"/><circle cx="320.07" cy="625.09" r="0.57"/><circle cx="276.68" cy="582.28" r="0.68"/><circle cx="196.17" cy="533.9" r="0.71"/><circle cx="246.93" cy="549.07" r="0.67"/><circle cx="256.43" cy="606.38" r="0.77"/><circle cx="195.29" cy="620.79" r="0.67"/><circle cx="319.73" cy="631.87" r="0.56"/><circle cx="260.84" cy="630.15" r="0.67"/><circle cx="255.41" cy="554.41" r="0.51"/><circle cx="201.91" cy="532.38" r="0.63"/><circle cx="268.2" cy="583.31" r="0.93"/><circle cx="276.93" cy="560.03" r="0.93"/><circle cx="268.91" cy="581.02" r="0.89"/><circle cx="274.5" cy="559.8" r="0.77"/><circle cx="216.84" cy="630.43" r="0.61"/><circle cx="321.77" cy="525.47" r="0.5"/><circle cx="256.29" cy="541.87" r="0.73"/><circle cx="188.43" cy="615.07" r="0.8"/><circle cx="276.74" cy="625.49" r="0.95"/><circle cx="275.8" cy="600.73" r="0.5"/><circle cx="177.68" cy="567.48" r="0.94"/><circle cx="218.83" cy="583.94" r="0.5"/><circle cx="234.86" cy="622.69" r="0.77"/><circle cx="298.6" cy="519.52" r="0.59"/><circle cx="197.96" cy="614.55" r="0.55"/><circle cx="315.4" cy="549.02" r="0.9"/><circle cx="250.43" cy="555.52" r="0.93"/><circle cx="233.19" cy="598.9" r="0.53"/><circle cx="299.54" cy="631.82" r="0.55"/><circle cx="286.41" cy="549.37" r="0.57"/><circle cx="226.82" cy="594.77" r="0.93"/><circle cx="325.05" cy="633.26" r="0.78"/><circle cx="271.94" cy="536.69" r="0.83"/><circle cx="256" cy="559.64" r="0.91"/><circle cx="209.79" cy="534.43" r="0.57"/><circle cx="193.3" cy="586.27" r="0.86"/><circle cx="194.97" cy="576.33" r="0.76"/><circle cx="257.43" cy="565.87" r="0.74"/><circle cx="172.36" cy="524.74" r="0.69"/><circle cx="206.93" cy="605.79" r="0.61"/><circle cx="298.54" cy="546.01" r="0.54"/><circle cx="244.48" cy="562.95" r="0.65"/><circle cx="289.36" cy="543.79" r="0.8"/><circle cx="300.22" cy="570.5" r="0.73"/><circle cx="314.09" cy="588.07" r="0.58"/><circle cx="180.84" cy="527.53" r="0.65"/><circle cx="183.86" cy="593.26" r="0.69"/><circle cx="218.13" cy="577.41" r="0.92"/><circle cx="208.12" cy="535.94" r="0.64"/><circle cx="220.59" cy="623.55" r="0.82"/><circle cx="236.9" cy="537.25" r="0.52"/><circle cx="189.1" cy="616.31" r="0.79"/></g></g>
<path d="M245 633.2 Q262 616 288 610 Q306 614 316 627 L316 633.2 Z" fill="#efedea" opacity="0.7" filter="url(#soft)"/>
<rect x="170.5" y="586" width="63.3" height="47.2" fill="#f1ece8" stroke="none" stroke-width="1"/>
<g clip-path="url(#clipKi2)" filter="url(#soft05)"><ellipse cx="196.07" cy="595.44" rx="4.89" ry="2.44" transform="rotate(74 196.07 595.44)" fill="#dba57c" opacity="0.38"/><ellipse cx="194.75" cy="618.3" rx="6.69" ry="5.19" transform="rotate(65 194.75 618.3)" fill="#dba57c" opacity="0.43"/><ellipse cx="209.32" cy="596.23" rx="8.51" ry="4.68" transform="rotate(62 209.32 596.23)" fill="#cf9268" opacity="0.36"/><ellipse cx="199.71" cy="594.45" rx="6.83" ry="2.96" transform="rotate(72 199.71 594.45)" fill="#cf9268" opacity="0.5"/><ellipse cx="176.06" cy="600.93" rx="4.21" ry="2.63" transform="rotate(63 176.06 600.93)" fill="#dba57c" opacity="0.41"/><ellipse cx="229.57" cy="589.81" rx="6.59" ry="3.16" transform="rotate(64 229.57 589.81)" fill="#dba57c" opacity="0.41"/><ellipse cx="184.16" cy="629.46" rx="4.8" ry="3.44" transform="rotate(69 184.16 629.46)" fill="#dba57c" opacity="0.58"/><ellipse cx="212.3" cy="587.75" rx="4.12" ry="2.43" transform="rotate(76 212.3 587.75)" fill="#e0b08a" opacity="0.32"/><ellipse cx="197.43" cy="590.06" rx="5.55" ry="2.23" transform="rotate(60 197.43 590.06)" fill="#dba57c" opacity="0.46"/><ellipse cx="183.21" cy="623.16" rx="4.28" ry="2.07" transform="rotate(58 183.21 623.16)" fill="#cf9268" opacity="0.42"/><ellipse cx="218.85" cy="602.7" rx="7.47" ry="5.75" transform="rotate(54 218.85 602.7)" fill="#cf9268" opacity="0.56"/><ellipse cx="208.46" cy="621.27" rx="7.04" ry="3.97" transform="rotate(53 208.46 621.27)" fill="#dba57c" opacity="0.34"/><ellipse cx="181.52" cy="594.38" rx="4.73" ry="2.28" transform="rotate(67 181.52 594.38)" fill="#e0b08a" opacity="0.53"/><ellipse cx="221.01" cy="625.94" rx="4.59" ry="3.34" transform="rotate(55 221.01 625.94)" fill="#cf9268" opacity="0.32"/><ellipse cx="188.71" cy="613.64" rx="4.24" ry="2.06" transform="rotate(62 188.71 613.64)" fill="#e0b08a" opacity="0.55"/><ellipse cx="195.78" cy="605.54" rx="5.85" ry="2.56" transform="rotate(78 195.78 605.54)" fill="#dba57c" opacity="0.58"/><ellipse cx="216.18" cy="604.81" rx="6.22" ry="3.26" transform="rotate(70 216.18 604.81)" fill="#dba57c" opacity="0.5"/><ellipse cx="190.16" cy="627.26" rx="7.6" ry="3.71" transform="rotate(75 190.16 627.26)" fill="#cf9268" opacity="0.5"/><ellipse cx="186.31" cy="599.99" rx="7.76" ry="3.35" transform="rotate(64 186.31 599.99)" fill="#e0b08a" opacity="0.59"/><ellipse cx="186.72" cy="609.75" rx="8.54" ry="6.4" transform="rotate(75 186.72 609.75)" fill="#e0b08a" opacity="0.46"/><ellipse cx="229.36" cy="598.12" rx="8.41" ry="4.74" transform="rotate(71 229.36 598.12)" fill="#cf9268" opacity="0.35"/><ellipse cx="194.49" cy="618.02" rx="8.31" ry="5.38" transform="rotate(72 194.49 618.02)" fill="#e0b08a" opacity="0.36"/><ellipse cx="191.82" cy="595.33" rx="4.02" ry="2.18" transform="rotate(59 191.82 595.33)" fill="#dba57c" opacity="0.57"/><ellipse cx="212.77" cy="623.26" rx="5.3" ry="3.01" transform="rotate(74 212.77 623.26)" fill="#cf9268" opacity="0.37"/><ellipse cx="224.97" cy="602.31" rx="6" ry="2.67" transform="rotate(67 224.97 602.31)" fill="#dba57c" opacity="0.3"/><ellipse cx="190.16" cy="617.73" rx="7.74" ry="3.61" transform="rotate(75 190.16 617.73)" fill="#e0b08a" opacity="0.58"/><ellipse cx="187.21" cy="626.19" rx="6.08" ry="3.8" transform="rotate(70 187.21 626.19)" fill="#cf9268" opacity="0.53"/><ellipse cx="223.07" cy="614.6" rx="5.44" ry="3.78" transform="rotate(53 223.07 614.6)" fill="#e0b08a" opacity="0.32"/><ellipse cx="172.52" cy="588.75" rx="5.5" ry="4.33" transform="rotate(70 172.52 588.75)" fill="#cf9268" opacity="0.48"/><ellipse cx="189.18" cy="621.71" rx="8.96" ry="6.43" transform="rotate(62 189.18 621.71)" fill="#dba57c" opacity="0.38"/><ellipse cx="192.01" cy="625.92" rx="3.88" ry="2.61" transform="rotate(104 192.01 625.92)" fill="#8d90c6" opacity="0.8"/><ellipse cx="205.82" cy="618.89" rx="3.23" ry="1.75" transform="rotate(89 205.82 618.89)" fill="#8d90c6" opacity="0.91"/><ellipse cx="214" cy="595.93" rx="3.9" ry="2.73" transform="rotate(96 214 595.93)" fill="#8d90c6" opacity="0.92"/><ellipse cx="200.75" cy="595.32" rx="2.89" ry="1.58" transform="rotate(89 200.75 595.32)" fill="#8d90c6" opacity="0.7"/><ellipse cx="192.05" cy="609.35" rx="3.2" ry="2.07" transform="rotate(96 192.05 609.35)" fill="#8d90c6" opacity="0.83"/><ellipse cx="210.07" cy="613.18" rx="3.3" ry="1.76" transform="rotate(97 210.07 613.18)" fill="#7b82c0" opacity="0.8"/><ellipse cx="175.33" cy="610.09" rx="3.47" ry="1.94" transform="rotate(88 175.33 610.09)" fill="#7b82c0" opacity="0.87"/><ellipse cx="197.27" cy="622.79" rx="2.94" ry="1.57" transform="rotate(77 197.27 622.79)" fill="#8d90c6" opacity="0.79"/><ellipse cx="205.69" cy="596.56" rx="3.47" ry="2.22" transform="rotate(101 205.69 596.56)" fill="#8d90c6" opacity="0.72"/><ellipse cx="212.7" cy="619.31" rx="3.79" ry="2.01" transform="rotate(65 212.7 619.31)" fill="#7b82c0" opacity="0.89"/><ellipse cx="210.84" cy="595.2" rx="3.85" ry="2.47" transform="rotate(99 210.84 595.2)" fill="#8d90c6" opacity="0.89"/><ellipse cx="208.74" cy="602.69" rx="2.86" ry="1.63" transform="rotate(100 208.74 602.69)" fill="#6a72b5" opacity="0.75"/><ellipse cx="183.15" cy="592.8" rx="3.4" ry="2.35" transform="rotate(106 183.15 592.8)" fill="#7b82c0" opacity="0.76"/><ellipse cx="226.87" cy="622.27" rx="3.74" ry="2.61" transform="rotate(96 226.87 622.27)" fill="#6a72b5" opacity="0.88"/><ellipse cx="208.23" cy="626.46" rx="3.85" ry="2.05" transform="rotate(70 208.23 626.46)" fill="#6a72b5" opacity="0.79"/><ellipse cx="191.08" cy="589.97" rx="3.28" ry="1.83" transform="rotate(70 191.08 589.97)" fill="#7b82c0" opacity="0.94"/><ellipse cx="224.74" cy="622.98" rx="3.15" ry="1.66" transform="rotate(87 224.74 622.98)" fill="#7b82c0" opacity="0.71"/><ellipse cx="182.22" cy="617.53" rx="3.82" ry="2.41" transform="rotate(62 182.22 617.53)" fill="#6a72b5" opacity="0.9"/><ellipse cx="208.69" cy="611.67" rx="3.63" ry="1.83" transform="rotate(78 208.69 611.67)" fill="#8d90c6" opacity="0.8"/><ellipse cx="202.88" cy="626.93" rx="3.07" ry="1.86" transform="rotate(63 202.88 626.93)" fill="#7b82c0" opacity="0.76"/><ellipse cx="187.91" cy="624.44" rx="2.91" ry="1.46" transform="rotate(61 187.91 624.44)" fill="#7b82c0" opacity="0.73"/><ellipse cx="229.03" cy="615.18" rx="2.87" ry="1.94" transform="rotate(71 229.03 615.18)" fill="#8d90c6" opacity="0.89"/><ellipse cx="181.33" cy="628.29" rx="2.84" ry="1.65" transform="rotate(88 181.33 628.29)" fill="#7b82c0" opacity="0.74"/><ellipse cx="186.34" cy="606.78" rx="3.37" ry="2.1" transform="rotate(83 186.34 606.78)" fill="#8d90c6" opacity="0.74"/><ellipse cx="216" cy="608.94" rx="3.66" ry="1.9" transform="rotate(99 216 608.94)" fill="#7b82c0" opacity="0.93"/><ellipse cx="182.79" cy="608.54" rx="3.88" ry="2.07" transform="rotate(103 182.79 608.54)" fill="#6a72b5" opacity="0.74"/></g>
<rect x="170.5" y="586" width="63.3" height="47.2" fill="none" stroke="#222" stroke-width="1"/>
<line x1="224" y1="630.3" x2="233" y2="630.3" stroke="#e02020" stroke-width="1.4"/>
<rect x="170.5" y="511.6" width="155.3" height="121.6" fill="none" stroke="#444" stroke-width="0.9"/>
<text x="88.3" y="654.63" font-size="12.2" text-anchor="middle" fill="#000">Responder</text>
<text x="248.1" y="654.63" font-size="12.2" text-anchor="middle" fill="#000">Non responder</text>
<text x="338" y="509.89" font-size="18" text-anchor="middle" fill="#000">l</text>
<rect x="364.2" y="512.9" width="137.9" height="117.4" fill="none" stroke="#222" stroke-width="1.2"/>
<line x1="361.2" y1="518.7" x2="364.2" y2="518.7" stroke="#222" stroke-width="1.1"/>
<text x="362.7" y="523.33" font-size="12.2" text-anchor="end" fill="#000" textLength="18.3" lengthAdjust="spacingAndGlyphs">1.0</text>
<line x1="361.2" y1="539.7" x2="364.2" y2="539.7" stroke="#222" stroke-width="1.1"/>
<text x="362.7" y="544.33" font-size="12.2" text-anchor="end" fill="#000" textLength="18.3" lengthAdjust="spacingAndGlyphs">0.8</text>
<line x1="361.2" y1="560.7" x2="364.2" y2="560.7" stroke="#222" stroke-width="1.1"/>
<text x="362.7" y="565.33" font-size="12.2" text-anchor="end" fill="#000" textLength="18.3" lengthAdjust="spacingAndGlyphs">0.6</text>
<line x1="361.2" y1="581.7" x2="364.2" y2="581.7" stroke="#222" stroke-width="1.1"/>
<text x="362.7" y="586.33" font-size="12.2" text-anchor="end" fill="#000" textLength="18.3" lengthAdjust="spacingAndGlyphs">0.4</text>
<line x1="361.2" y1="602.7" x2="364.2" y2="602.7" stroke="#222" stroke-width="1.1"/>
<text x="362.7" y="607.33" font-size="12.2" text-anchor="end" fill="#000" textLength="18.3" lengthAdjust="spacingAndGlyphs">0.2</text>
<line x1="361.2" y1="623.7" x2="364.2" y2="623.7" stroke="#222" stroke-width="1.1"/>
<text x="362.7" y="628.33" font-size="12.2" text-anchor="end" fill="#000" textLength="18.3" lengthAdjust="spacingAndGlyphs">0.0</text>
<line x1="371.4" y1="630.3" x2="371.4" y2="633.3" stroke="#222" stroke-width="1.1"/>
<text x="371.4" y="642.32" font-size="11.6" text-anchor="middle" fill="#000">0</text>
<line x1="396.1" y1="630.3" x2="396.1" y2="633.3" stroke="#222" stroke-width="1.1"/>
<text x="397.2" y="642.32" font-size="11.6" text-anchor="middle" fill="#000">10</text>
<line x1="420.2" y1="630.3" x2="420.2" y2="633.3" stroke="#222" stroke-width="1.1"/>
<text x="424.6" y="642.32" font-size="11.6" text-anchor="middle" fill="#000">20</text>
<line x1="445" y1="630.3" x2="445" y2="633.3" stroke="#222" stroke-width="1.1"/>
<text x="449.3" y="642.32" font-size="11.6" text-anchor="middle" fill="#000">30</text>
<line x1="469.5" y1="630.3" x2="469.5" y2="633.3" stroke="#222" stroke-width="1.1"/>
<text x="473.9" y="642.32" font-size="11.6" text-anchor="middle" fill="#000">40</text>
<line x1="494" y1="630.3" x2="494" y2="633.3" stroke="#222" stroke-width="1.1"/>
<text x="492.5" y="642.32" font-size="11.6" text-anchor="middle" fill="#000">50</text>
<text x="432.65" y="654.8" font-size="12.1" text-anchor="middle" fill="#000">Time (Months)</text>
<text x="337.9" y="575.46" font-size="12" text-anchor="middle" fill="#000" transform="rotate(-90 337.9 571.2)">PFS Survival</text>
<text x="389" y="526.93" font-size="12.2" text-anchor="start" fill="#000">All patients</text>
<line x1="427.2" y1="536.3" x2="445.6" y2="536.3" stroke="#117a3c" stroke-width="3"/>
<line x1="427.2" y1="552" x2="445.6" y2="552" stroke="#e3242b" stroke-width="3"/>
<text x="498.4" y="539.6" font-size="9.3" text-anchor="end" fill="#000" textLength="46.8" lengthAdjust="spacingAndGlyphs">LRPPRC low</text>
<text x="498.4" y="555.3" font-size="9.3" text-anchor="end" fill="#000" textLength="49.4" lengthAdjust="spacingAndGlyphs">LRPPRC high</text>
<text x="498.6" y="568.7" font-size="9.3" text-anchor="end" textLength="70" lengthAdjust="spacingAndGlyphs">Log Rank <tspan font-style="italic">P</tspan>=0.0015</text>
<text x="498.6" y="580.3" font-size="9.3" text-anchor="end" textLength="31.5" lengthAdjust="spacingAndGlyphs"><tspan font-style="italic">HR</tspan>=3.03</text>
<rect x="537.8" y="512.9" width="138" height="117.4" fill="none" stroke="#222" stroke-width="1.2"/>
<line x1="534.8" y1="518.7" x2="537.8" y2="518.7" stroke="#222" stroke-width="1.1"/>
<text x="536.3" y="523.33" font-size="12.2" text-anchor="end" fill="#000" textLength="18.3" lengthAdjust="spacingAndGlyphs">1.0</text>
<line x1="534.8" y1="539.7" x2="537.8" y2="539.7" stroke="#222" stroke-width="1.1"/>
<text x="536.3" y="544.33" font-size="12.2" text-anchor="end" fill="#000" textLength="18.3" lengthAdjust="spacingAndGlyphs">0.8</text>
<line x1="534.8" y1="560.7" x2="537.8" y2="560.7" stroke="#222" stroke-width="1.1"/>
<text x="536.3" y="565.33" font-size="12.2" text-anchor="end" fill="#000" textLength="18.3" lengthAdjust="spacingAndGlyphs">0.6</text>
<line x1="534.8" y1="581.7" x2="537.8" y2="581.7" stroke="#222" stroke-width="1.1"/>
<text x="536.3" y="586.33" font-size="12.2" text-anchor="end" fill="#000" textLength="18.3" lengthAdjust="spacingAndGlyphs">0.4</text>
<line x1="534.8" y1="602.7" x2="537.8" y2="602.7" stroke="#222" stroke-width="1.1"/>
<text x="536.3" y="607.33" font-size="12.2" text-anchor="end" fill="#000" textLength="18.3" lengthAdjust="spacingAndGlyphs">0.2</text>
<line x1="534.8" y1="623.7" x2="537.8" y2="623.7" stroke="#222" stroke-width="1.1"/>
<text x="536.3" y="628.33" font-size="12.2" text-anchor="end" fill="#000" textLength="18.3" lengthAdjust="spacingAndGlyphs">0.0</text>
<line x1="544.2" y1="630.3" x2="544.2" y2="633.3" stroke="#222" stroke-width="1.1"/>
<text x="543.1" y="642.32" font-size="11.6" text-anchor="middle" fill="#000">0</text>
<line x1="568.9" y1="630.3" x2="568.9" y2="633.3" stroke="#222" stroke-width="1.1"/>
<text x="568.3" y="642.32" font-size="11.6" text-anchor="middle" fill="#000">10</text>
<line x1="594.6" y1="630.3" x2="594.6" y2="633.3" stroke="#222" stroke-width="1.1"/>
<text x="595.2" y="642.32" font-size="11.6" text-anchor="middle" fill="#000">20</text>
<line x1="620" y1="630.3" x2="620" y2="633.3" stroke="#222" stroke-width="1.1"/>
<text x="620.8" y="642.32" font-size="11.6" text-anchor="middle" fill="#000">30</text>
<line x1="645.6" y1="630.3" x2="645.6" y2="633.3" stroke="#222" stroke-width="1.1"/>
<text x="645.6" y="642.32" font-size="11.6" text-anchor="middle" fill="#000">40</text>
<line x1="670.8" y1="630.3" x2="670.8" y2="633.3" stroke="#222" stroke-width="1.1"/>
<text x="667.5" y="642.32" font-size="11.6" text-anchor="middle" fill="#000">50</text>
<text x="606.3" y="654.8" font-size="12.1" text-anchor="middle" fill="#000">Time (Months)</text>
<text x="511.5" y="575.46" font-size="12" text-anchor="middle" fill="#000" transform="rotate(-90 511.5 571.2)">PFS Survival</text>
<text x="573.8" y="526.93" font-size="12.2" text-anchor="start" fill="#000">First line patients</text>
<line x1="600.8" y1="536.3" x2="619.2" y2="536.3" stroke="#117a3c" stroke-width="3"/>
<line x1="600.8" y1="552" x2="619.2" y2="552" stroke="#e3242b" stroke-width="3"/>
<text x="672.1" y="539.6" font-size="9.3" text-anchor="end" fill="#000" textLength="46.8" lengthAdjust="spacingAndGlyphs">LRPPRC low</text>
<text x="672.1" y="555.3" font-size="9.3" text-anchor="end" fill="#000" textLength="49.4" lengthAdjust="spacingAndGlyphs">LRPPRC high</text>
<text x="672.3" y="568.7" font-size="9.3" text-anchor="end" textLength="70" lengthAdjust="spacingAndGlyphs">Log Rank <tspan font-style="italic">P</tspan>&lt;0.0015</text>
<text x="667.3" y="582.3" font-size="9.3" text-anchor="end" textLength="31.5" lengthAdjust="spacingAndGlyphs"><tspan font-style="italic">HR</tspan>=3.98</text>
<polyline points="371.5,518.5 380.2,518.5 380.2,525.8 385,525.8 385.3,538.8 387,538.8 387.5,546.5 390,546.5 390.3,554 391.8,554 393.3,567.8 399.8,567.8 399.8,574.6 403.4,574.6 403.4,582.3 417.9,582.3 417.9,588.8 421.5,588.8 421.5,596 454.8,596 454.8,602.7 462.2,602.7 462.2,610.1 481,610.1" fill="none" stroke="#33a055" stroke-width="1.1"/>
<polyline points="371.5,518.5 373.3,518.5 373.3,534.5 375.1,534.5 375.1,542.7 377.3,542.7 378.3,575 380.2,575 380.2,583 392.2,583 393,607.7 397.2,607.7 397.2,615.6 402,615.6 402,623.9" fill="none" stroke="#e8474c" stroke-width="1.1"/>
<polyline points="545,518.5 567,518.5 567,536.2 577.1,536.2 577.1,553.6 591.6,553.6 591.6,571.1 628.5,571.1 628.5,588.3 635.8,588.3 635.8,606.1 652.9,606.1" fill="none" stroke="#33a055" stroke-width="1.1"/>
<polyline points="545,518.5 549.6,518.5 549.6,534.7 551.5,534.7 552.2,578.7 554.2,578.7 554.2,593.4 566.6,593.4 566.6,623.6" fill="none" stroke="#e8474c" stroke-width="1.1"/>
<line x1="478.5" y1="610.1" x2="478.5" y2="611.9" stroke="#5577cc" stroke-width="0.8"/>
<line x1="480.5" y1="610.1" x2="480.5" y2="611.9" stroke="#5577cc" stroke-width="0.8"/>
<line x1="652.6" y1="606.2" x2="652.6" y2="607.8" stroke="#5577cc" stroke-width="0.8"/>
<text x="8.5" y="687.39" font-size="18" text-anchor="middle" fill="#000">m</text>
<text x="134.9" y="696.5" font-size="12.1" text-anchor="middle" fill="#000">A549 (sg-NC)</text>
<text x="380.7" y="696.5" font-size="12.1" text-anchor="middle" fill="#000">A549 (KO-1)</text>
<line x1="17.5" y1="698.6" x2="252.8" y2="698.6" stroke="#000" stroke-width="1.2"/>
<line x1="263.3" y1="698.8" x2="498.7" y2="698.8" stroke="#000" stroke-width="1.2"/>
<text x="75.3" y="718.37" font-size="12.3" text-anchor="middle" fill="#000">DMSO</text>
<text x="194.5" y="718.37" font-size="12.3" text-anchor="middle" fill="#000">GAA (5.0 μM)</text>
<text x="321.8" y="718.37" font-size="12.3" text-anchor="middle" fill="#000">DMSO</text>
<text x="441.8" y="718.37" font-size="12.3" text-anchor="middle" fill="#000">GAA (5.0 μM)</text>
<rect x="16.8" y="723.8" width="116.3" height="100.2" fill="#80959a" stroke="none" stroke-width="1"/>
<rect x="16.8" y="723.8" width="116.3" height="100.2" fill="#000" filter="url(#cellA)"/>
<g fill="#eef0d8"><circle cx="34.45" cy="769.47" r="1.22" opacity="0.72"/><circle cx="101.46" cy="767.37" r="1.24" opacity="0.64"/><circle cx="26.96" cy="769.57" r="0.64" opacity="0.82"/><circle cx="126.05" cy="757.73" r="0.85" opacity="0.75"/><circle cx="41.1" cy="742.32" r="0.75" opacity="0.56"/><circle cx="89.39" cy="819.4" r="0.77" opacity="0.83"/><circle cx="81.28" cy="813.29" r="1.25" opacity="0.47"/><circle cx="91.93" cy="736.99" r="0.6" opacity="0.58"/><circle cx="106.21" cy="780.4" r="0.75" opacity="0.78"/><circle cx="122.24" cy="748.1" r="0.96" opacity="0.69"/><circle cx="120.94" cy="737.23" r="1.04" opacity="0.84"/><circle cx="87.42" cy="795.24" r="1.22" opacity="0.63"/><circle cx="50.93" cy="782.77" r="1.02" opacity="0.55"/><circle cx="115.43" cy="760.45" r="0.99" opacity="0.74"/><circle cx="110.82" cy="812.24" r="1.12" opacity="0.51"/><circle cx="114.65" cy="814.09" r="1.17" opacity="0.75"/><circle cx="76.5" cy="773.26" r="1.07" opacity="0.47"/><circle cx="95.06" cy="809.38" r="0.73" opacity="0.74"/><circle cx="98.52" cy="736.68" r="0.64" opacity="0.67"/><circle cx="42.85" cy="755.23" r="1.1" opacity="0.69"/><circle cx="103.38" cy="780.6" r="0.87" opacity="0.41"/><circle cx="30.83" cy="743.74" r="1.02" opacity="0.72"/><circle cx="41.71" cy="763.08" r="1.35" opacity="0.58"/><circle cx="99.32" cy="785.54" r="1.13" opacity="0.61"/><circle cx="80.1" cy="793.62" r="0.73" opacity="0.76"/><circle cx="117.57" cy="729.43" r="0.76" opacity="0.51"/><circle cx="28.58" cy="738.55" r="1.11" opacity="0.46"/><circle cx="25.44" cy="817.68" r="0.92" opacity="0.64"/><circle cx="71.99" cy="758.55" r="0.96" opacity="0.49"/><circle cx="84.06" cy="749.47" r="0.72" opacity="0.49"/><circle cx="64.97" cy="816.16" r="1.08" opacity="0.84"/><circle cx="63.61" cy="750.38" r="1.17" opacity="0.49"/><circle cx="131.88" cy="763.15" r="0.82" opacity="0.52"/><circle cx="52.6" cy="816.78" r="1.39" opacity="0.65"/><circle cx="44.32" cy="725.76" r="0.66" opacity="0.53"/><circle cx="91.27" cy="786.31" r="1.28" opacity="0.77"/><circle cx="58.1" cy="790.97" r="0.96" opacity="0.73"/><circle cx="38.86" cy="820.69" r="0.62" opacity="0.68"/><circle cx="58.09" cy="803.43" r="0.71" opacity="0.8"/><circle cx="18.17" cy="797" r="1.16" opacity="0.63"/><circle cx="37.74" cy="762.33" r="0.96" opacity="0.5"/><circle cx="36.2" cy="807.53" r="1.04" opacity="0.52"/><circle cx="89.29" cy="786.96" r="0.71" opacity="0.66"/><circle cx="84.6" cy="735.7" r="0.84" opacity="0.79"/><circle cx="83.98" cy="746.71" r="0.91" opacity="0.61"/><circle cx="98.75" cy="809.33" r="0.67" opacity="0.42"/><circle cx="68.27" cy="726.76" r="0.72" opacity="0.45"/><circle cx="27.92" cy="786.21" r="0.68" opacity="0.65"/><circle cx="128.23" cy="738.59" r="1.21" opacity="0.66"/><circle cx="37.25" cy="818.08" r="1.19" opacity="0.57"/><circle cx="119.34" cy="735.03" r="1.27" opacity="0.78"/><circle cx="31.06" cy="814.69" r="1.23" opacity="0.81"/><circle cx="49.98" cy="797.31" r="1.22" opacity="0.56"/><circle cx="21.8" cy="726.19" r="1.01" opacity="0.65"/><circle cx="32.09" cy="786.76" r="0.64" opacity="0.62"/><circle cx="76.16" cy="744.79" r="0.64" opacity="0.81"/><circle cx="115.23" cy="782.55" r="0.62" opacity="0.64"/><circle cx="127.87" cy="800.12" r="1.15" opacity="0.42"/><circle cx="83.9" cy="747.65" r="1.39" opacity="0.4"/><circle cx="43.26" cy="811.21" r="0.7" opacity="0.54"/></g>
<line x1="124.1" y1="819.8" x2="130.6" y2="819.8" stroke="#000" stroke-width="2"/>
<rect x="136" y="723.8" width="115.7" height="100.2" fill="#80959a" stroke="none" stroke-width="1"/>
<rect x="136" y="723.8" width="115.7" height="100.2" fill="#000" filter="url(#cellB)"/>
<g fill="#eef0d8"><circle cx="203.08" cy="743.92" r="1.37" opacity="0.82"/><circle cx="190.11" cy="789.95" r="0.77" opacity="0.5"/><circle cx="169.81" cy="792.8" r="0.77" opacity="0.84"/><circle cx="145" cy="743.78" r="0.67" opacity="0.75"/><circle cx="178.67" cy="771.12" r="0.86" opacity="0.69"/><circle cx="182.92" cy="745.25" r="0.94" opacity="0.54"/><circle cx="149.6" cy="805.66" r="1.14" opacity="0.7"/><circle cx="237.33" cy="763.55" r="0.9" opacity="0.59"/><circle cx="183" cy="790.49" r="0.61" opacity="0.61"/><circle cx="197.84" cy="758.73" r="0.62" opacity="0.72"/><circle cx="138.07" cy="780.23" r="0.72" opacity="0.42"/><circle cx="157.56" cy="731.26" r="0.72" opacity="0.71"/><circle cx="219.81" cy="760.43" r="1.12" opacity="0.61"/><circle cx="193.67" cy="810.81" r="0.85" opacity="0.79"/><circle cx="215.58" cy="791.92" r="0.6" opacity="0.44"/><circle cx="140.64" cy="758.75" r="1.36" opacity="0.79"/><circle cx="232.35" cy="736.47" r="1.16" opacity="0.75"/><circle cx="229.01" cy="802.6" r="0.71" opacity="0.48"/><circle cx="227.11" cy="797.29" r="1.31" opacity="0.6"/><circle cx="238.14" cy="738.49" r="1.37" opacity="0.8"/><circle cx="175.38" cy="731.43" r="1.04" opacity="0.71"/><circle cx="176.84" cy="730.45" r="0.82" opacity="0.77"/><circle cx="147.3" cy="816.84" r="0.8" opacity="0.49"/><circle cx="149.76" cy="821.14" r="1.32" opacity="0.54"/><circle cx="147.87" cy="788.96" r="1.31" opacity="0.41"/><circle cx="208.98" cy="808.93" r="0.97" opacity="0.66"/><circle cx="228.45" cy="748.22" r="0.82" opacity="0.7"/><circle cx="199.8" cy="777.37" r="0.87" opacity="0.82"/><circle cx="169.76" cy="791.47" r="1.32" opacity="0.58"/><circle cx="143.18" cy="746.44" r="0.65" opacity="0.47"/><circle cx="150.69" cy="758.43" r="0.9" opacity="0.6"/><circle cx="212.62" cy="791.25" r="1.15" opacity="0.56"/><circle cx="212.37" cy="778.79" r="0.7" opacity="0.65"/><circle cx="173.2" cy="791.17" r="1.19" opacity="0.51"/><circle cx="186.47" cy="769.47" r="0.84" opacity="0.42"/><circle cx="142.64" cy="822.29" r="1.19" opacity="0.6"/><circle cx="212.8" cy="751.21" r="1.17" opacity="0.83"/><circle cx="224.91" cy="770.48" r="1.39" opacity="0.81"/><circle cx="143.62" cy="765.24" r="0.96" opacity="0.52"/><circle cx="207.09" cy="738.89" r="1.2" opacity="0.79"/><circle cx="144" cy="792.77" r="0.81" opacity="0.69"/><circle cx="215.59" cy="820.71" r="1.24" opacity="0.55"/><circle cx="220" cy="739.22" r="1.17" opacity="0.59"/><circle cx="167.15" cy="748.22" r="0.77" opacity="0.76"/><circle cx="147.93" cy="747.62" r="0.75" opacity="0.47"/></g>
<line x1="242.7" y1="819.8" x2="249.2" y2="819.8" stroke="#000" stroke-width="2"/>
<rect x="263.3" y="723.8" width="116.7" height="100.2" fill="#80959a" stroke="none" stroke-width="1"/>
<rect x="263.3" y="723.8" width="116.7" height="100.2" fill="#000" filter="url(#cellA)"/>
<g fill="#eef0d8"><circle cx="281.3" cy="785.29" r="0.74" opacity="0.72"/><circle cx="334.02" cy="762.54" r="1.09" opacity="0.65"/><circle cx="269.26" cy="776.86" r="1.1" opacity="0.63"/><circle cx="365.17" cy="797.01" r="0.9" opacity="0.5"/><circle cx="278.99" cy="804.36" r="1.15" opacity="0.67"/><circle cx="314.97" cy="774" r="0.78" opacity="0.64"/><circle cx="280.97" cy="785.79" r="1.1" opacity="0.7"/><circle cx="292.57" cy="733.83" r="0.87" opacity="0.71"/><circle cx="322.79" cy="798.22" r="0.94" opacity="0.58"/><circle cx="368.4" cy="741.2" r="0.77" opacity="0.66"/><circle cx="336.72" cy="767.3" r="1.05" opacity="0.6"/><circle cx="341" cy="812.08" r="1.26" opacity="0.69"/><circle cx="318.22" cy="817.85" r="0.96" opacity="0.68"/><circle cx="363.91" cy="791.91" r="0.91" opacity="0.73"/><circle cx="333.15" cy="814.65" r="1.1" opacity="0.64"/><circle cx="376.02" cy="776.61" r="0.92" opacity="0.82"/><circle cx="372.59" cy="741.69" r="0.66" opacity="0.79"/><circle cx="365.55" cy="762.56" r="0.8" opacity="0.71"/><circle cx="372.13" cy="745.73" r="0.96" opacity="0.7"/><circle cx="289.63" cy="765.54" r="0.71" opacity="0.62"/><circle cx="290.67" cy="732.72" r="0.91" opacity="0.47"/><circle cx="277.93" cy="739.59" r="0.93" opacity="0.54"/><circle cx="347.84" cy="765.49" r="0.79" opacity="0.48"/><circle cx="298.38" cy="797.79" r="0.76" opacity="0.61"/><circle cx="356.83" cy="806.28" r="0.97" opacity="0.78"/><circle cx="337.98" cy="747.08" r="0.67" opacity="0.48"/><circle cx="354.93" cy="763.06" r="1.27" opacity="0.84"/><circle cx="369.75" cy="770.88" r="0.61" opacity="0.52"/><circle cx="289.41" cy="788.54" r="1.16" opacity="0.81"/><circle cx="345.18" cy="819.04" r="1.11" opacity="0.61"/><circle cx="360.28" cy="751.71" r="1.22" opacity="0.73"/><circle cx="363.73" cy="730.73" r="0.75" opacity="0.83"/><circle cx="280.6" cy="769.11" r="1.08" opacity="0.62"/><circle cx="365.15" cy="818.62" r="0.87" opacity="0.46"/><circle cx="369.19" cy="769.34" r="0.8" opacity="0.46"/><circle cx="265.34" cy="782.02" r="0.82" opacity="0.65"/><circle cx="370.32" cy="772.36" r="1.36" opacity="0.43"/><circle cx="351.25" cy="798.91" r="1.37" opacity="0.41"/><circle cx="322.41" cy="779.44" r="1.08" opacity="0.61"/><circle cx="295.6" cy="813.46" r="1.3" opacity="0.72"/></g>
<line x1="371" y1="819.8" x2="377.5" y2="819.8" stroke="#000" stroke-width="2"/>
<rect x="384.2" y="723.8" width="115.6" height="100.2" fill="#80959a" stroke="none" stroke-width="1"/>
<rect x="384.2" y="723.8" width="115.6" height="100.2" fill="#000" filter="url(#cellC)"/>
<g fill="#eef0d8"><circle cx="496.42" cy="769.61" r="1.18" opacity="0.73"/><circle cx="409.61" cy="732.46" r="1.08" opacity="0.45"/><circle cx="428.62" cy="812.17" r="1.3" opacity="0.45"/><circle cx="394.54" cy="746.65" r="1.26" opacity="0.41"/><circle cx="410.78" cy="735.33" r="0.7" opacity="0.64"/><circle cx="406.04" cy="765.01" r="1.19" opacity="0.73"/><circle cx="432.35" cy="802" r="1.06" opacity="0.77"/><circle cx="413.47" cy="761.05" r="1.06" opacity="0.83"/><circle cx="455.44" cy="771.42" r="0.8" opacity="0.53"/><circle cx="409.71" cy="821.66" r="1.31" opacity="0.8"/><circle cx="445.25" cy="794.36" r="0.84" opacity="0.62"/><circle cx="401.73" cy="766.06" r="0.8" opacity="0.44"/><circle cx="489.65" cy="734.29" r="1.25" opacity="0.71"/><circle cx="395.43" cy="772.44" r="1.4" opacity="0.84"/><circle cx="449.19" cy="800.59" r="1.17" opacity="0.53"/><circle cx="447.67" cy="783.42" r="0.92" opacity="0.77"/><circle cx="435.66" cy="798.4" r="0.65" opacity="0.6"/><circle cx="390.25" cy="788.32" r="1.3" opacity="0.64"/><circle cx="449.43" cy="785.93" r="0.78" opacity="0.57"/><circle cx="450.92" cy="788.26" r="0.9" opacity="0.61"/><circle cx="422.78" cy="779.23" r="1.14" opacity="0.55"/><circle cx="463.02" cy="808.17" r="1.03" opacity="0.84"/><circle cx="420.36" cy="815.1" r="0.75" opacity="0.56"/><circle cx="477.99" cy="728" r="1.09" opacity="0.79"/><circle cx="492.44" cy="791.79" r="0.88" opacity="0.55"/><circle cx="456.9" cy="731.35" r="0.62" opacity="0.8"/><circle cx="456.42" cy="740.79" r="0.94" opacity="0.53"/><circle cx="483.95" cy="752.91" r="1.18" opacity="0.73"/><circle cx="421.41" cy="749.56" r="1.02" opacity="0.58"/><circle cx="452.68" cy="757.03" r="1.24" opacity="0.59"/><circle cx="400.67" cy="800.86" r="1.32" opacity="0.71"/><circle cx="447.28" cy="810.41" r="1.35" opacity="0.4"/><circle cx="440.6" cy="726.66" r="0.87" opacity="0.51"/><circle cx="437.61" cy="791.31" r="1.29" opacity="0.52"/><circle cx="386.53" cy="822.91" r="1.23" opacity="0.65"/><circle cx="397.97" cy="729.94" r="1.35" opacity="0.64"/><circle cx="482.9" cy="801.76" r="1.2" opacity="0.76"/><circle cx="413.98" cy="748.97" r="0.95" opacity="0.75"/><circle cx="475.43" cy="799.18" r="1.06" opacity="0.61"/><circle cx="407.27" cy="790.26" r="1.12" opacity="0.63"/><circle cx="467.76" cy="820.97" r="1.35" opacity="0.45"/><circle cx="417.86" cy="784.99" r="1.15" opacity="0.53"/><circle cx="490.94" cy="770.06" r="1.21" opacity="0.42"/><circle cx="416.91" cy="727.01" r="1.23" opacity="0.63"/><circle cx="493.44" cy="784.39" r="0.86" opacity="0.56"/></g>
<line x1="490.8" y1="819.8" x2="497.3" y2="819.8" stroke="#000" stroke-width="2"/>
<text x="508" y="687.39" font-size="18" text-anchor="middle" fill="#000">n</text>
<line x1="547.8" y1="699.4" x2="547.8" y2="797.2" stroke="#000" stroke-width="1.2"/>
<line x1="547.8" y1="797.2" x2="679.7" y2="797.2" stroke="#000" stroke-width="1.2"/>
<line x1="544.8" y1="699.64" x2="547.8" y2="699.64" stroke="#000" stroke-width="1.1"/>
<text x="542.3" y="703.58" font-size="12.5" text-anchor="end" fill="#000">1.2</text>
<line x1="544.8" y1="715.9" x2="547.8" y2="715.9" stroke="#000" stroke-width="1.1"/>
<text x="542.3" y="719.84" font-size="12.5" text-anchor="end" fill="#000">1.0</text>
<line x1="544.8" y1="732.16" x2="547.8" y2="732.16" stroke="#000" stroke-width="1.1"/>
<text x="542.3" y="736.1" font-size="12.5" text-anchor="end" fill="#000">0.8</text>
<line x1="544.8" y1="748.42" x2="547.8" y2="748.42" stroke="#000" stroke-width="1.1"/>
<text x="542.3" y="752.36" font-size="12.5" text-anchor="end" fill="#000">0.6</text>
<line x1="544.8" y1="764.68" x2="547.8" y2="764.68" stroke="#000" stroke-width="1.1"/>
<text x="542.3" y="768.62" font-size="12.5" text-anchor="end" fill="#000">0.4</text>
<line x1="544.8" y1="780.94" x2="547.8" y2="780.94" stroke="#000" stroke-width="1.1"/>
<text x="542.3" y="784.88" font-size="12.5" text-anchor="end" fill="#000">0.2</text>
<line x1="544.8" y1="797.2" x2="547.8" y2="797.2" stroke="#000" stroke-width="1.1"/>
<text x="542.3" y="801.14" font-size="12.5" text-anchor="end" fill="#000">0</text>
<line x1="548.4" y1="797.2" x2="548.4" y2="800.2" stroke="#000" stroke-width="1.1"/>
<text x="548.4" y="814.74" font-size="12.5" text-anchor="middle" fill="#000">0</text>
<line x1="581.2" y1="797.2" x2="581.2" y2="800.2" stroke="#000" stroke-width="1.1"/>
<text x="581.2" y="814.74" font-size="12.5" text-anchor="middle" fill="#000">5</text>
<line x1="614" y1="797.2" x2="614" y2="800.2" stroke="#000" stroke-width="1.1"/>
<text x="614" y="814.74" font-size="12.5" text-anchor="middle" fill="#000">10</text>
<line x1="646.8" y1="797.2" x2="646.8" y2="800.2" stroke="#000" stroke-width="1.1"/>
<text x="646.8" y="814.74" font-size="12.5" text-anchor="middle" fill="#000">15</text>
<line x1="679.6" y1="797.2" x2="679.6" y2="800.2" stroke="#000" stroke-width="1.1"/>
<text x="679.6" y="814.74" font-size="12.5" text-anchor="middle" fill="#000">20</text>
<text x="612.7" y="823.76" font-size="12" text-anchor="middle" fill="#000">Ribo (μM)</text>
<text x="519.5" y="753.26" font-size="12" text-anchor="middle" fill="#000" transform="rotate(-90 519.5 749)">Relative cell viability</text>
<line x1="583.8" y1="689.4" x2="590.4" y2="689.4" stroke="#8a8a8a" stroke-width="2"/>
<text x="590.4" y="693.52" font-size="11.6" text-anchor="start" fill="#000">sg-NC</text>
<line x1="583.8" y1="701.5" x2="590.4" y2="701.5" stroke="#e06666" stroke-width="2"/>
<text x="590.4" y="705.62" font-size="11.6" text-anchor="start" fill="#000">sg-NC+GAA</text>
<line x1="583.8" y1="713.9" x2="590.4" y2="713.9" stroke="#7091cf" stroke-width="2"/>
<text x="590.4" y="718.02" font-size="11.6" text-anchor="start" fill="#000">KO-1</text>
<line x1="583.8" y1="726.5" x2="590.4" y2="726.5" stroke="#f4b072" stroke-width="2"/>
<text x="590.4" y="730.62" font-size="11.6" text-anchor="start" fill="#000">KO-1+GAA</text>
<polyline points="548.4,715.9 549.06,721.98 549.71,727.52 550.37,732.59 551.02,737.21 551.68,741.44 552.34,745.3 552.99,748.82 553.65,752.03 554.3,754.97 554.96,757.65 555.62,760.1 556.27,762.33 556.93,764.37 557.58,766.24 558.24,767.94 558.9,769.49 559.55,770.91 560.21,772.21 560.86,773.39 561.52,774.47 562.18,775.46 562.83,776.36 563.49,777.18 564.14,777.93 564.8,778.61 565.46,779.24 566.11,779.81 566.77,780.33 567.42,780.81 568.08,781.25 568.74,781.64 569.39,782.01 570.05,782.34 570.7,782.64 571.36,782.92 572.02,783.17 572.67,783.4 573.33,783.61 573.98,783.8 574.64,783.98 575.3,784.14 575.95,784.28 576.61,784.42 577.26,784.54 577.92,784.65 578.58,784.75 579.23,784.84 579.89,784.93 580.54,785.01 581.2,785.08 581.86,785.14 582.51,785.2 583.17,785.25 583.82,785.3 584.48,785.35 585.14,785.39 585.79,785.43 586.45,785.46 587.1,785.49 587.76,785.52 588.42,785.54 589.07,785.57 589.73,785.59 590.38,785.61 591.04,785.63 591.7,785.64 592.35,785.66 593.01,785.67 593.66,785.69 594.32,785.7 594.98,785.71 595.63,785.72 596.29,785.73 596.94,785.73 597.6,785.74 598.26,785.75 598.91,785.75 599.57,785.76 600.22,785.76 600.88,785.77 601.54,785.77 602.19,785.78 602.85,785.78 603.5,785.78 604.16,785.79 604.82,785.79 605.47,785.79 606.13,785.79 606.78,785.8 607.44,785.8 608.1,785.8 608.75,785.8 609.41,785.8 610.06,785.8 610.72,785.81 611.38,785.81 612.03,785.81 612.69,785.81 613.34,785.81 614,785.81 614.66,785.81 615.31,785.81 615.97,785.81 616.62,785.81 617.28,785.81 617.94,785.81 618.59,785.81 619.25,785.81 619.9,785.81 620.56,785.81 621.22,785.82 621.87,785.82 622.53,785.82 623.18,785.82 623.84,785.82 624.5,785.82 625.15,785.82 625.81,785.82 626.46,785.82 627.12,785.82 627.78,785.82 628.43,785.82 629.09,785.82 629.74,785.82 630.4,785.82 631.06,785.82 631.71,785.82 632.37,785.82 633.02,785.82 633.68,785.82 634.34,785.82 634.99,785.82 635.65,785.82 636.3,785.82 636.96,785.82 637.62,785.82 638.27,785.82 638.93,785.82 639.58,785.82 640.24,785.82 640.9,785.82 641.55,785.82 642.21,785.82 642.86,785.82 643.52,785.82 644.18,785.82 644.83,785.82 645.49,785.82 646.14,785.82 646.8,785.82" fill="none" stroke="#e06666" stroke-width="1.3"/>
<polyline points="548.4,715.9 549.06,720.38 549.71,724.55 550.37,728.44 551.02,732.07 551.68,735.45 552.34,738.59 552.99,741.53 553.65,744.26 554.3,746.81 554.96,749.19 555.62,751.4 556.27,753.47 556.93,755.39 557.58,757.18 558.24,758.85 558.9,760.41 559.55,761.86 560.21,763.22 560.86,764.48 561.52,765.65 562.18,766.75 562.83,767.77 563.49,768.72 564.14,769.6 564.8,770.43 565.46,771.2 566.11,771.92 566.77,772.59 567.42,773.21 568.08,773.79 568.74,774.33 569.39,774.84 570.05,775.31 570.7,775.75 571.36,776.15 572.02,776.53 572.67,776.89 573.33,777.22 573.98,777.53 574.64,777.82 575.3,778.08 575.95,778.33 576.61,778.57 577.26,778.78 577.92,778.98 578.58,779.17 579.23,779.35 579.89,779.51 580.54,779.66 581.2,779.81 581.86,779.94 582.51,780.06 583.17,780.18 583.82,780.28 584.48,780.38 585.14,780.48 585.79,780.56 586.45,780.64 587.1,780.72 587.76,780.79 588.42,780.86 589.07,780.92 589.73,780.97 590.38,781.03 591.04,781.08 591.7,781.12 592.35,781.16 593.01,781.2 593.66,781.24 594.32,781.28 594.98,781.31 595.63,781.34 596.29,781.37 596.94,781.39 597.6,781.42 598.26,781.44 598.91,781.46 599.57,781.48 600.22,781.5 600.88,781.52 601.54,781.53 602.19,781.55 602.85,781.56 603.5,781.58 604.16,781.59 604.82,781.6 605.47,781.61 606.13,781.62 606.78,781.63 607.44,781.64 608.1,781.64 608.75,781.65 609.41,781.66 610.06,781.67 610.72,781.67 611.38,781.68 612.03,781.68 612.69,781.69 613.34,781.69 614,781.7 614.66,781.7 615.31,781.7 615.97,781.71 616.62,781.71 617.28,781.71 617.94,781.72 618.59,781.72 619.25,781.72 619.9,781.72 620.56,781.72 621.22,781.73 621.87,781.73 622.53,781.73 623.18,781.73 623.84,781.73 624.5,781.73 625.15,781.74 625.81,781.74 626.46,781.74 627.12,781.74 627.78,781.74 628.43,781.74 629.09,781.74 629.74,781.74 630.4,781.74 631.06,781.74 631.71,781.74 632.37,781.74 633.02,781.75 633.68,781.75 634.34,781.75 634.99,781.75 635.65,781.75 636.3,781.75 636.96,781.75 637.62,781.75 638.27,781.75 638.93,781.75 639.58,781.75 640.24,781.75 640.9,781.75 641.55,781.75 642.21,781.75 642.86,781.75 643.52,781.75 644.18,781.75 644.83,781.75 645.49,781.75 646.14,781.75 646.8,781.75" fill="none" stroke="#f4b072" stroke-width="1.3"/>
<polyline points="548.4,715.9 549.06,718.75 549.71,721.48 550.37,724.07 551.02,726.55 551.68,728.91 552.34,731.15 552.99,733.3 553.65,735.35 554.3,737.3 554.96,739.15 555.62,740.93 556.27,742.62 556.93,744.23 557.58,745.77 558.24,747.23 558.9,748.63 559.55,749.96 560.21,751.23 560.86,752.44 561.52,753.6 562.18,754.7 562.83,755.75 563.49,756.75 564.14,757.71 564.8,758.62 565.46,759.48 566.11,760.31 566.77,761.1 567.42,761.85 568.08,762.57 568.74,763.26 569.39,763.91 570.05,764.53 570.7,765.12 571.36,765.69 572.02,766.23 572.67,766.74 573.33,767.23 573.98,767.7 574.64,768.14 575.3,768.57 575.95,768.97 576.61,769.36 577.26,769.73 577.92,770.08 578.58,770.42 579.23,770.73 579.89,771.04 580.54,771.33 581.2,771.61 581.86,771.87 582.51,772.12 583.17,772.36 583.82,772.59 584.48,772.81 585.14,773.02 585.79,773.21 586.45,773.4 587.1,773.58 587.76,773.76 588.42,773.92 589.07,774.08 589.73,774.23 590.38,774.37 591.04,774.5 591.7,774.63 592.35,774.76 593.01,774.87 593.66,774.98 594.32,775.09 594.98,775.19 595.63,775.29 596.29,775.38 596.94,775.47 597.6,775.56 598.26,775.64 598.91,775.71 599.57,775.79 600.22,775.86 600.88,775.92 601.54,775.98 602.19,776.04 602.85,776.1 603.5,776.16 604.16,776.21 604.82,776.26 605.47,776.31 606.13,776.35 606.78,776.4 607.44,776.44 608.1,776.48 608.75,776.51 609.41,776.55 610.06,776.58 610.72,776.62 611.38,776.65 612.03,776.68 612.69,776.7 613.34,776.73 614,776.76 614.66,776.78 615.31,776.8 615.97,776.83 616.62,776.85 617.28,776.87 617.94,776.89 618.59,776.91 619.25,776.92 619.9,776.94 620.56,776.96 621.22,776.97 621.87,776.99 622.53,777 623.18,777.01 623.84,777.02 624.5,777.04 625.15,777.05 625.81,777.06 626.46,777.07 627.12,777.08 627.78,777.09 628.43,777.1 629.09,777.11 629.74,777.11 630.4,777.12 631.06,777.13 631.71,777.14 632.37,777.14 633.02,777.15 633.68,777.16 634.34,777.16 634.99,777.17 635.65,777.17 636.3,777.18 636.96,777.18 637.62,777.19 638.27,777.19 638.93,777.2 639.58,777.2 640.24,777.2 640.9,777.21 641.55,777.21 642.21,777.21 642.86,777.22 643.52,777.22 644.18,777.22 644.83,777.23 645.49,777.23 646.14,777.23 646.8,777.23" fill="none" stroke="#7091cf" stroke-width="1.3"/>
<polyline points="548.4,715.99 549.06,716.11 549.71,716.24 550.37,716.38 551.02,716.54 551.68,716.7 552.34,716.88 552.99,717.07 553.65,717.27 554.3,717.48 554.96,717.7 555.62,717.93 556.27,718.17 556.93,718.42 557.58,718.68 558.24,718.95 558.9,719.22 559.55,719.51 560.21,719.81 560.86,720.11 561.52,720.43 562.18,720.75 562.83,721.09 563.49,721.43 564.14,721.77 564.8,722.13 565.46,722.5 566.11,722.87 566.77,723.25 567.42,723.64 568.08,724.03 568.74,724.43 569.39,724.84 570.05,725.26 570.7,725.68 571.36,726.11 572.02,726.54 572.67,726.98 573.33,727.43 573.98,727.88 574.64,728.34 575.3,728.81 575.95,729.28 576.61,729.75 577.26,730.23 577.92,730.72 578.58,731.21 579.23,731.7 579.89,732.2 580.54,732.71 581.2,733.22 581.86,733.73 582.51,734.24 583.17,734.76 583.82,735.29 584.48,735.81 585.14,736.34 585.79,736.87 586.45,737.41 587.1,737.95 587.76,738.49 588.42,739.03 589.07,739.58 589.73,740.13 590.38,740.68 591.04,741.23 591.7,741.78 592.35,742.34 593.01,742.9 593.66,743.45 594.32,744.01 594.98,744.57 595.63,745.13 596.29,745.69 596.94,746.26 597.6,746.82 598.26,747.38 598.91,747.94 599.57,748.5 600.22,749.07 600.88,749.63 601.54,750.19 602.19,750.75 602.85,751.31 603.5,751.86 604.16,752.42 604.82,752.98 605.47,753.53 606.13,754.08 606.78,754.63 607.44,755.18 608.1,755.73 608.75,756.27 609.41,756.81 610.06,757.35 610.72,757.89 611.38,758.42 612.03,758.95 612.69,759.47 613.34,760 614,760.52 614.66,761.03 615.31,761.54 615.97,762.05 616.62,762.56 617.28,763.05 617.94,763.55 618.59,764.04 619.25,764.53 619.9,765.01 620.56,765.48 621.22,765.95 621.87,766.42 622.53,766.87 623.18,767.33 623.84,767.78 624.5,768.22 625.15,768.65 625.81,769.08 626.46,769.5 627.12,769.92 627.78,770.33 628.43,770.73 629.09,771.12 629.74,771.51 630.4,771.89 631.06,772.26 631.71,772.63 632.37,772.98 633.02,773.33 633.68,773.67 634.34,774.01 634.99,774.33 635.65,774.64 636.3,774.95 636.96,775.25 637.62,775.54 638.27,775.81 638.93,776.08 639.58,776.34 640.24,776.59 640.9,776.83 641.55,777.06 642.21,777.28 642.86,777.49 643.52,777.69 644.18,777.88 644.83,778.05 645.49,778.22 646.14,778.38 646.8,778.52" fill="none" stroke="#8a8a8a" stroke-width="1.3"/>
<line x1="548.4" y1="711.84" x2="548.4" y2="719.97" stroke="#e06666" stroke-width="1"/>
<line x1="546.6" y1="711.84" x2="550.2" y2="711.84" stroke="#e06666" stroke-width="1"/>
<line x1="546.6" y1="719.97" x2="550.2" y2="719.97" stroke="#e06666" stroke-width="1"/>
<circle cx="548.4" cy="715.9" r="2.5" fill="none" stroke="#e06666" stroke-width="1"/>
<circle cx="564.8" cy="776.88" r="2.5" fill="none" stroke="#e06666" stroke-width="1"/>
<circle cx="581.2" cy="780.94" r="2.5" fill="none" stroke="#e06666" stroke-width="1"/>
<circle cx="597.6" cy="783.38" r="2.5" fill="none" stroke="#e06666" stroke-width="1"/>
<circle cx="614" cy="786.63" r="2.5" fill="none" stroke="#e06666" stroke-width="1"/>
<circle cx="646.8" cy="790.7" r="2.5" fill="none" stroke="#e06666" stroke-width="1"/>
<line x1="548.4" y1="711.02" x2="548.4" y2="720.78" stroke="#f4b072" stroke-width="1"/>
<line x1="546.6" y1="711.02" x2="550.2" y2="711.02" stroke="#f4b072" stroke-width="1"/>
<line x1="546.6" y1="720.78" x2="550.2" y2="720.78" stroke="#f4b072" stroke-width="1"/>
<circle cx="548.4" cy="715.9" r="2.5" fill="none" stroke="#f4b072" stroke-width="1"/>
<line x1="564.8" y1="766.31" x2="564.8" y2="772.81" stroke="#f4b072" stroke-width="1"/>
<line x1="563" y1="766.31" x2="566.6" y2="766.31" stroke="#f4b072" stroke-width="1"/>
<line x1="563" y1="772.81" x2="566.6" y2="772.81" stroke="#f4b072" stroke-width="1"/>
<circle cx="564.8" cy="769.56" r="2.5" fill="none" stroke="#f4b072" stroke-width="1"/>
<circle cx="581.2" cy="772.81" r="2.5" fill="none" stroke="#f4b072" stroke-width="1"/>
<circle cx="597.6" cy="777.69" r="2.5" fill="none" stroke="#f4b072" stroke-width="1"/>
<line x1="614" y1="779.31" x2="614" y2="782.57" stroke="#f4b072" stroke-width="1"/>
<line x1="612.2" y1="779.31" x2="615.8" y2="779.31" stroke="#f4b072" stroke-width="1"/>
<line x1="612.2" y1="782.57" x2="615.8" y2="782.57" stroke="#f4b072" stroke-width="1"/>
<circle cx="614" cy="780.94" r="2.5" fill="none" stroke="#f4b072" stroke-width="1"/>
<circle cx="646.8" cy="789.07" r="2.5" fill="none" stroke="#f4b072" stroke-width="1"/>
<line x1="548.4" y1="712.65" x2="548.4" y2="719.15" stroke="#7091cf" stroke-width="1"/>
<line x1="546.6" y1="712.65" x2="550.2" y2="712.65" stroke="#7091cf" stroke-width="1"/>
<line x1="546.6" y1="719.15" x2="550.2" y2="719.15" stroke="#7091cf" stroke-width="1"/>
<circle cx="548.4" cy="715.9" r="2.5" fill="none" stroke="#7091cf" stroke-width="1"/>
<line x1="564.8" y1="755.74" x2="564.8" y2="762.24" stroke="#7091cf" stroke-width="1"/>
<line x1="563" y1="755.74" x2="566.6" y2="755.74" stroke="#7091cf" stroke-width="1"/>
<line x1="563" y1="762.24" x2="566.6" y2="762.24" stroke="#7091cf" stroke-width="1"/>
<circle cx="564.8" cy="758.99" r="2.5" fill="none" stroke="#7091cf" stroke-width="1"/>
<line x1="581.2" y1="760.62" x2="581.2" y2="767.12" stroke="#7091cf" stroke-width="1"/>
<line x1="579.4" y1="760.62" x2="583" y2="760.62" stroke="#7091cf" stroke-width="1"/>
<line x1="579.4" y1="767.12" x2="583" y2="767.12" stroke="#7091cf" stroke-width="1"/>
<circle cx="581.2" cy="763.87" r="2.5" fill="none" stroke="#7091cf" stroke-width="1"/>
<line x1="597.6" y1="767.12" x2="597.6" y2="773.62" stroke="#7091cf" stroke-width="1"/>
<line x1="595.8" y1="767.12" x2="599.4" y2="767.12" stroke="#7091cf" stroke-width="1"/>
<line x1="595.8" y1="773.62" x2="599.4" y2="773.62" stroke="#7091cf" stroke-width="1"/>
<circle cx="597.6" cy="770.37" r="2.5" fill="none" stroke="#7091cf" stroke-width="1"/>
<line x1="646.8" y1="777.69" x2="646.8" y2="784.19" stroke="#7091cf" stroke-width="1"/>
<line x1="645" y1="777.69" x2="648.6" y2="777.69" stroke="#7091cf" stroke-width="1"/>
<line x1="645" y1="784.19" x2="648.6" y2="784.19" stroke="#7091cf" stroke-width="1"/>
<circle cx="646.8" cy="780.94" r="2.5" fill="none" stroke="#7091cf" stroke-width="1"/>
<line x1="548.4" y1="713.46" x2="548.4" y2="718.34" stroke="#555" stroke-width="1"/>
<line x1="546.6" y1="713.46" x2="550.2" y2="713.46" stroke="#555" stroke-width="1"/>
<line x1="546.6" y1="718.34" x2="550.2" y2="718.34" stroke="#555" stroke-width="1"/>
<circle cx="548.4" cy="715.9" r="2.5" fill="none" stroke="#555" stroke-width="1"/>
<line x1="564.8" y1="720.78" x2="564.8" y2="727.28" stroke="#555" stroke-width="1"/>
<line x1="563" y1="720.78" x2="566.6" y2="720.78" stroke="#555" stroke-width="1"/>
<line x1="563" y1="727.28" x2="566.6" y2="727.28" stroke="#555" stroke-width="1"/>
<circle cx="564.8" cy="724.03" r="2.5" fill="none" stroke="#555" stroke-width="1"/>
<line x1="581.2" y1="728.91" x2="581.2" y2="740.29" stroke="#555" stroke-width="1"/>
<line x1="579.4" y1="728.91" x2="583" y2="728.91" stroke="#555" stroke-width="1"/>
<line x1="579.4" y1="740.29" x2="583" y2="740.29" stroke="#555" stroke-width="1"/>
<circle cx="581.2" cy="734.6" r="2.5" fill="none" stroke="#555" stroke-width="1"/>
<line x1="597.6" y1="742.73" x2="597.6" y2="752.49" stroke="#555" stroke-width="1"/>
<line x1="595.8" y1="742.73" x2="599.4" y2="742.73" stroke="#555" stroke-width="1"/>
<line x1="595.8" y1="752.49" x2="599.4" y2="752.49" stroke="#555" stroke-width="1"/>
<circle cx="597.6" cy="747.61" r="2.5" fill="none" stroke="#555" stroke-width="1"/>
<circle cx="614" cy="761.43" r="2.5" fill="none" stroke="#555" stroke-width="1"/>
<line x1="646.8" y1="776.88" x2="646.8" y2="781.75" stroke="#555" stroke-width="1"/>
<line x1="645" y1="776.88" x2="648.6" y2="776.88" stroke="#555" stroke-width="1"/>
<line x1="645" y1="781.75" x2="648.6" y2="781.75" stroke="#555" stroke-width="1"/>
<circle cx="646.8" cy="779.31" r="2.5" fill="none" stroke="#555" stroke-width="1"/>
</svg>
</body></html>
